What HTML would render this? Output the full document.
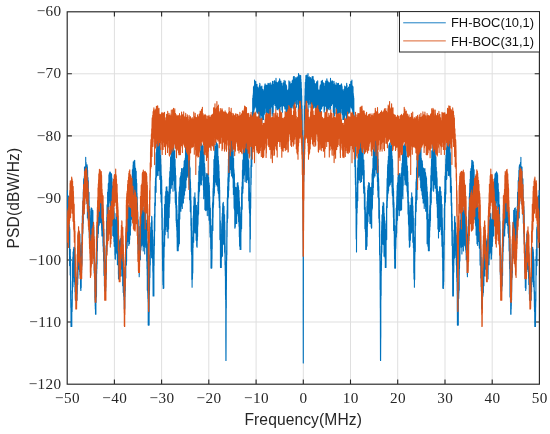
<!DOCTYPE html>
<html><head><meta charset="utf-8"><title>PSD</title>
<style>html,body{margin:0;padding:0;background:#fff}svg{display:block}</style></head>
<body>
<svg width="550" height="434" viewBox="0 0 550 434">
<rect width="550" height="434" fill="#fff"/>
<defs><clipPath id="c"><rect x="66.75" y="11.75" width="473.05" height="372.35"/></clipPath></defs>
<path d="M114.4 11.8V384.1M161.6 11.8V384.1M208.8 11.8V384.1M256.1 11.8V384.1M303.3 11.8V384.1M350.5 11.8V384.1M397.7 11.8V384.1M445.0 11.8V384.1M492.2 11.8V384.1M67.2 322.0H539.4M67.2 260.0H539.4M67.2 197.9H539.4M67.2 135.9H539.4M67.2 73.8H539.4" stroke="#dfdfdf" stroke-width="1" fill="none"/>
<path d="M114.4 384.1v-4.7M114.4 11.8v4.7M161.6 384.1v-4.7M161.6 11.8v4.7M208.8 384.1v-4.7M208.8 11.8v4.7M256.1 384.1v-4.7M256.1 11.8v4.7M303.3 384.1v-4.7M303.3 11.8v4.7M350.5 384.1v-4.7M350.5 11.8v4.7M397.7 384.1v-4.7M397.7 11.8v4.7M445.0 384.1v-4.7M445.0 11.8v4.7M492.2 384.1v-4.7M492.2 11.8v4.7M67.2 322.0h4.7M539.4 322.0h-4.7M67.2 260.0h4.7M539.4 260.0h-4.7M67.2 197.9h4.7M539.4 197.9h-4.7M67.2 135.9h4.7M539.4 135.9h-4.7M67.2 73.8h4.7M539.4 73.8h-4.7" stroke="#262626" stroke-width="1.1" fill="none"/>
<rect x="67.2" y="11.8" width="472.2" height="372.4" fill="none" stroke="#262626" stroke-width="1.15"/>
<g clip-path="url(#c)">
<polyline fill="none" stroke="#0072BD" stroke-width="1.1" stroke-linejoin="round" points="67.2,190.5 67.2,204.0 67.3,191.8 67.3,217.1 67.4,190.5 67.5,201.0 67.5,228.3 67.6,202.0 67.6,232.5 67.6,195.3 67.8,199.3 67.8,216.9 67.8,223.1 67.9,200.6 68.0,198.2 68.0,225.2 68.1,225.0 68.1,201.1 68.2,210.1 68.3,199.5 68.3,204.9 68.4,196.0 68.4,230.3 68.4,209.9 68.5,228.8 68.6,203.0 68.7,206.8 68.7,220.0 68.8,210.0 68.8,227.0 68.9,201.5 69.0,237.0 69.0,205.8 69.1,237.3 69.1,220.4 69.2,239.0 69.3,224.7 69.3,236.4 69.3,226.8 69.4,236.2 69.5,255.6 69.5,231.1 69.6,265.6 69.6,227.1 69.7,256.8 69.7,230.5 69.8,228.9 69.8,257.8 69.9,263.0 70.0,251.8 70.1,261.4 70.1,249.6 70.1,252.2 70.2,274.9 70.3,249.3 70.3,272.3 70.4,273.7 70.5,256.5 70.6,269.4 70.6,283.1 70.6,293.5 70.7,300.9 70.7,291.0 70.8,307.5 70.8,306.3 70.9,299.3 71.0,314.6 71.0,326.4 71.1,326.4 71.2,326.4 71.3,326.4 71.4,326.4 71.5,326.4 71.6,326.4 71.8,326.4 71.8,302.9 71.9,307.3 72.0,309.7 72.1,311.5 72.1,291.6 72.1,290.4 72.2,307.1 72.3,299.7 72.3,284.1 72.4,280.8 72.4,293.7 72.5,288.9 72.5,263.4 72.6,281.7 72.6,265.5 72.7,259.8 72.7,272.6 72.8,283.0 72.8,258.0 72.9,256.8 73.0,286.8 73.1,270.2 73.1,251.9 73.2,278.0 73.2,260.0 73.3,274.8 73.3,256.2 73.4,263.6 73.5,249.1 73.5,249.6 73.6,264.0 73.6,254.4 73.7,262.7 73.7,267.4 73.8,251.6 73.9,247.3 73.9,264.2 74.0,252.4 74.0,271.7 74.1,274.9 74.2,266.9 74.2,274.9 74.3,260.3 74.3,281.8 74.4,251.3 74.4,263.1 74.5,247.3 74.5,262.9 74.6,273.1 74.6,259.3 74.7,278.5 74.8,284.6 74.8,257.5 74.9,260.0 75.0,291.8 75.0,277.8 75.1,285.1 75.1,267.9 75.2,287.5 75.2,274.4 75.3,297.0 75.4,300.3 75.4,277.1 75.5,277.1 75.5,286.4 75.6,300.3 75.7,284.6 75.7,300.3 75.7,295.6 75.8,286.0 75.9,300.3 75.9,287.3 75.9,300.3 76.0,292.6 76.1,300.3 76.1,300.3 76.2,295.1 76.3,300.3 76.3,297.9 76.4,300.3 76.5,292.2 76.5,300.3 76.5,293.0 76.6,286.0 76.6,300.3 76.7,277.3 76.8,300.3 76.8,300.3 76.9,284.8 77.0,300.3 77.0,273.8 77.1,274.0 77.1,289.3 77.2,271.9 77.2,293.9 77.4,283.0 77.4,260.6 77.4,274.6 77.5,261.9 77.5,253.0 77.6,276.2 77.7,257.8 77.7,284.4 77.8,252.0 77.8,263.6 77.9,246.8 78.0,278.3 78.0,261.6 78.0,247.6 78.2,248.5 78.2,262.0 78.3,252.3 78.3,243.1 78.3,236.1 78.4,264.5 78.5,238.6 78.5,269.3 78.6,254.7 78.6,239.1 78.7,262.2 78.7,246.4 78.9,245.2 78.9,263.8 78.9,249.2 79.0,236.4 79.1,246.0 79.1,262.1 79.1,264.4 79.2,238.5 79.3,232.3 79.3,255.8 79.4,234.9 79.4,266.9 79.5,238.3 79.5,271.5 79.6,234.8 79.7,254.5 79.7,241.2 79.8,253.3 79.8,268.4 79.9,234.0 80.0,274.7 80.0,246.1 80.1,259.4 80.1,271.8 80.2,258.1 80.3,244.7 80.3,274.6 80.4,248.4 80.4,254.1 80.5,271.9 80.6,288.8 80.6,254.5 80.6,274.1 80.7,257.2 80.8,264.7 80.8,290.4 80.9,290.4 81.0,256.4 81.0,262.4 81.1,286.1 81.1,271.7 81.2,259.0 81.2,287.5 81.3,260.2 81.4,253.2 81.4,272.4 81.5,264.0 81.5,251.0 81.6,272.9 81.6,250.6 81.7,242.4 81.8,266.1 81.9,245.5 81.9,264.7 82.0,262.9 82.0,240.2 82.0,254.4 82.1,237.8 82.2,233.7 82.2,242.4 82.3,215.7 82.3,244.0 82.4,238.5 82.5,210.0 82.5,214.0 82.5,236.7 82.7,229.5 82.7,206.6 82.7,227.0 82.8,233.8 82.9,225.5 82.9,203.0 83.0,200.5 83.0,206.8 83.1,212.8 83.1,202.7 83.2,214.8 83.3,197.2 83.3,223.2 83.3,192.6 83.4,189.4 83.4,205.8 83.5,212.5 83.6,181.8 83.7,178.9 83.7,214.5 83.8,212.7 83.8,181.4 83.9,202.1 83.9,187.9 84.0,199.7 84.0,183.3 84.1,186.1 84.2,205.5 84.2,180.4 84.3,205.6 84.3,176.6 84.4,195.7 84.5,193.8 84.5,167.0 84.6,204.3 84.6,168.4 84.7,186.5 84.8,172.2 84.8,198.8 84.8,183.3 84.9,185.0 85.0,171.0 85.1,172.7 85.1,187.6 85.1,175.0 85.2,171.1 85.3,166.5 85.3,172.1 85.4,192.1 85.5,168.1 85.5,188.8 85.6,171.1 85.7,191.2 85.7,157.3 85.7,183.3 85.8,170.9 85.9,171.0 85.9,192.3 86.0,190.9 86.0,162.3 86.1,163.6 86.1,191.5 86.2,165.0 86.3,188.3 86.3,192.6 86.3,173.9 86.4,182.4 86.5,194.1 86.5,176.3 86.6,186.7 86.7,166.4 86.7,185.3 86.8,195.8 86.8,166.1 86.9,203.6 87.0,170.8 87.0,200.7 87.1,164.8 87.1,191.7 87.1,165.5 87.2,182.3 87.2,189.4 87.4,166.7 87.4,217.9 87.4,174.3 87.5,194.4 87.6,193.2 87.6,170.2 87.7,184.8 87.7,197.3 87.8,209.9 87.9,178.1 87.9,208.6 88.0,177.5 88.0,204.4 88.1,194.3 88.1,193.7 88.2,216.2 88.2,220.1 88.3,180.5 88.4,218.3 88.5,192.0 88.5,213.4 88.5,194.1 88.6,213.9 88.7,200.6 88.8,207.9 88.8,194.7 88.8,216.2 88.9,208.5 89.0,192.4 89.0,213.3 89.1,223.2 89.1,200.4 89.2,229.5 89.2,206.5 89.3,206.3 89.3,237.7 89.4,211.4 89.5,232.5 89.5,210.0 89.6,236.0 89.7,236.0 89.7,209.2 89.8,219.0 89.8,236.9 89.9,236.9 89.9,211.1 90.0,233.4 90.0,215.1 90.2,226.9 90.2,220.4 90.2,240.8 90.3,221.7 90.4,225.1 90.4,241.5 90.5,223.3 90.5,240.4 90.6,229.8 90.6,218.4 90.7,218.3 90.7,249.6 90.8,241.1 90.9,221.4 90.9,242.0 91.0,218.0 91.0,242.0 91.0,222.3 91.1,225.2 91.2,232.2 91.2,207.8 91.3,238.9 91.4,209.2 91.4,245.7 91.5,217.6 91.5,240.6 91.6,214.8 91.7,255.1 91.7,216.2 91.8,242.7 91.9,249.6 91.9,208.5 92.0,223.0 92.0,238.6 92.1,216.4 92.1,237.0 92.2,242.6 92.2,217.9 92.3,237.1 92.4,218.1 92.4,243.5 92.4,212.4 92.5,216.9 92.6,241.5 92.6,213.3 92.7,240.2 92.8,210.3 92.8,243.5 92.9,211.6 92.9,232.6 93.0,237.9 93.0,224.3 93.1,258.1 93.2,226.2 93.2,222.1 93.3,246.4 93.4,222.4 93.4,237.8 93.4,235.5 93.5,249.6 93.6,225.3 93.6,246.7 93.7,245.5 93.7,257.7 93.8,227.3 93.9,257.0 93.9,230.1 94.0,253.9 94.0,254.8 94.1,239.6 94.2,243.4 94.2,272.9 94.3,245.3 94.3,264.1 94.4,244.2 94.4,249.6 94.5,277.2 94.5,256.5 94.6,258.0 94.6,274.4 94.8,264.1 94.8,278.1 94.8,270.3 94.9,297.9 94.9,274.2 95.0,299.9 95.1,277.4 95.1,295.3 95.2,287.4 95.2,306.1 95.3,291.4 95.3,308.9 95.4,286.1 95.5,303.4 95.5,314.3 95.5,293.1 95.7,312.8 95.7,289.9 95.8,312.2 95.8,290.7 95.9,314.3 95.9,287.0 96.0,284.7 96.0,294.2 96.1,302.6 96.2,268.3 96.2,297.6 96.3,258.7 96.3,252.3 96.4,288.6 96.4,248.6 96.5,296.8 96.6,256.4 96.6,262.4 96.7,273.5 96.7,239.6 96.8,258.8 96.9,241.5 96.9,268.5 97.0,236.4 97.1,234.8 97.1,263.9 97.1,258.3 97.2,229.1 97.3,250.4 97.3,226.4 97.4,226.6 97.4,251.0 97.5,242.1 97.5,232.7 97.6,233.3 97.7,213.2 97.7,237.4 97.8,223.1 97.9,220.7 97.9,211.1 97.9,237.4 98.0,221.8 98.1,230.6 98.1,215.4 98.2,220.8 98.3,233.5 98.3,231.1 98.3,206.5 98.4,233.6 98.5,209.8 98.5,227.3 98.6,208.2 98.6,212.1 98.7,223.3 98.7,207.4 98.8,214.1 98.9,202.7 98.9,225.6 99.0,218.0 99.0,198.1 99.1,219.4 99.1,197.2 99.2,225.0 99.2,200.3 99.3,224.2 99.4,208.4 99.4,190.7 99.5,222.7 99.6,222.4 99.6,191.9 99.7,200.3 99.7,210.8 99.8,198.0 99.8,218.4 99.9,189.4 100.0,214.0 100.0,189.8 100.1,204.0 100.2,214.4 100.2,199.0 100.3,200.0 100.3,212.4 100.4,205.9 100.4,191.9 100.5,199.8 100.6,222.4 100.6,191.1 100.7,214.1 100.7,200.8 100.7,209.8 100.8,217.9 100.8,193.9 100.9,214.5 101.0,195.9 101.1,202.0 101.1,211.7 101.2,221.6 101.2,206.3 101.3,223.7 101.4,193.3 101.4,195.6 101.4,208.1 101.5,198.0 101.6,228.2 101.6,199.3 101.7,230.2 101.8,210.4 101.8,199.4 101.9,236.0 101.9,206.3 102.0,228.4 102.1,203.0 102.1,226.8 102.1,202.3 102.2,227.6 102.3,209.8 102.3,218.1 102.4,204.3 102.4,204.4 102.5,226.9 102.6,226.2 102.6,205.7 102.7,208.9 102.7,233.5 102.8,204.7 102.9,223.7 102.9,225.9 102.9,242.4 103.0,232.2 103.0,245.9 103.1,240.1 103.2,214.6 103.3,213.9 103.3,251.8 103.4,238.8 103.4,222.9 103.5,230.8 103.5,248.8 103.6,261.0 103.7,238.7 103.7,251.1 103.8,236.5 103.8,229.1 103.9,242.0 104.0,275.4 104.0,248.8 104.1,241.9 104.1,251.3 104.2,247.8 104.2,272.5 104.3,251.7 104.4,260.9 104.4,286.1 104.4,254.4 104.5,258.6 104.6,277.4 104.6,267.7 104.7,276.5 104.7,281.8 104.8,291.0 104.9,290.4 104.9,291.0 105.0,291.0 105.0,284.6 105.1,291.0 105.2,291.0 105.2,286.1 105.3,291.0 105.4,286.7 105.4,287.2 105.5,281.0 105.6,291.0 105.6,271.5 105.7,291.0 105.7,259.5 105.8,265.1 105.9,274.2 105.9,273.4 105.9,255.2 106.0,250.1 106.1,279.2 106.1,245.5 106.2,269.1 106.3,250.2 106.3,274.5 106.4,260.4 106.4,229.6 106.5,253.5 106.6,231.7 106.6,221.1 106.6,245.6 106.7,254.2 106.8,218.2 106.8,217.3 106.8,241.1 107.0,251.3 107.0,211.0 107.1,204.7 107.1,234.2 107.2,233.2 107.2,216.2 107.3,225.9 107.4,204.6 107.4,211.1 107.4,224.8 107.6,225.5 107.6,203.8 107.6,192.0 107.7,218.9 107.8,228.3 107.8,196.4 107.8,226.5 107.9,195.4 108.0,216.4 108.0,192.7 108.1,197.7 108.1,189.4 108.2,219.4 108.3,210.5 108.3,183.7 108.4,204.9 108.5,198.0 108.5,183.1 108.5,188.4 108.6,216.1 108.7,210.6 108.7,185.1 108.8,208.7 108.9,185.5 108.9,199.6 108.9,174.8 109.0,184.9 109.1,175.3 109.1,200.7 109.1,184.8 109.2,191.5 109.3,175.9 109.4,173.0 109.4,195.7 109.5,190.4 109.5,175.8 109.6,174.2 109.6,191.2 109.7,176.3 109.8,195.7 109.8,199.8 109.9,174.5 110.0,195.6 110.0,171.9 110.1,172.1 110.1,202.9 110.2,173.8 110.2,199.8 110.3,172.3 110.4,190.5 110.4,206.4 110.5,172.8 110.5,199.8 110.5,173.7 110.6,193.8 110.7,181.1 110.8,173.3 110.8,201.4 110.8,201.8 110.9,177.6 111.0,182.6 111.0,202.6 111.1,182.8 111.2,208.5 111.2,173.5 111.2,181.7 111.3,195.9 111.4,184.9 111.5,174.0 111.5,205.9 111.6,174.8 111.6,195.5 111.7,183.5 111.7,198.2 111.8,177.7 111.9,195.3 111.9,205.6 112.0,186.6 112.0,178.5 112.1,210.7 112.1,198.7 112.2,213.6 112.2,190.0 112.3,216.1 112.4,188.2 112.4,219.9 112.5,185.9 112.5,225.2 112.6,189.7 112.7,222.1 112.7,221.7 112.7,194.5 112.8,235.6 112.8,192.3 112.9,195.0 113.0,217.7 113.1,211.8 113.1,230.7 113.2,210.8 113.2,220.6 113.3,212.7 113.3,223.3 113.4,229.9 113.4,203.3 113.5,210.8 113.6,236.4 113.6,208.1 113.6,230.7 113.8,236.2 113.8,214.5 113.9,207.8 113.9,241.4 114.0,223.7 114.0,232.6 114.1,211.6 114.2,246.2 114.2,212.8 114.3,246.2 114.3,238.4 114.4,218.0 114.4,219.3 114.5,239.9 114.6,231.9 114.6,246.6 114.7,237.5 114.7,226.9 114.8,221.1 114.8,234.7 114.9,255.0 115.0,225.5 115.1,235.8 115.1,219.7 115.1,258.7 115.2,227.3 115.2,220.3 115.3,245.8 115.4,259.2 115.4,235.4 115.5,246.3 115.5,233.5 115.6,219.8 115.7,244.4 115.7,228.6 115.8,220.6 115.8,233.9 115.9,226.4 116.0,213.6 116.0,252.1 116.0,222.9 116.1,214.9 116.2,218.2 116.2,232.9 116.3,216.8 116.3,239.8 116.4,237.3 116.4,219.5 116.6,216.2 116.6,237.5 116.6,251.9 116.7,228.7 116.8,219.4 116.8,243.0 116.8,253.7 116.9,223.9 117.0,230.7 117.0,221.3 117.1,233.3 117.1,245.8 117.2,232.7 117.3,258.3 117.3,234.1 117.4,224.8 117.4,264.7 117.5,228.0 117.6,220.2 117.6,232.9 117.7,248.2 117.7,224.8 117.8,228.2 117.9,239.3 117.9,252.5 118.0,239.5 118.0,253.2 118.1,233.2 118.1,236.2 118.1,247.2 118.2,233.3 118.3,263.6 118.4,233.4 118.4,274.3 118.5,235.4 118.5,278.9 118.6,249.0 118.7,256.0 118.7,239.2 118.7,272.5 118.8,242.2 118.9,256.1 118.9,245.4 119.0,257.3 119.1,241.3 119.1,269.4 119.1,264.7 119.2,239.7 119.3,241.8 119.3,264.8 119.4,271.8 119.5,255.2 119.5,268.2 119.6,247.7 119.7,248.1 119.7,252.2 119.7,259.0 119.8,242.0 119.8,249.3 119.9,256.6 120.0,249.4 120.0,260.1 120.1,267.1 120.2,249.4 120.2,258.5 120.2,250.9 120.3,261.8 120.4,241.1 120.4,243.4 120.5,254.6 120.6,264.7 120.6,238.6 120.7,269.3 120.7,248.8 120.8,244.4 120.8,259.5 120.9,263.9 120.9,244.8 121.0,261.1 121.1,250.9 121.2,259.4 121.2,247.8 121.2,262.1 121.3,251.6 121.4,267.9 121.4,251.7 121.5,236.1 121.5,255.2 121.6,247.5 121.6,264.4 121.7,265.6 121.8,254.1 121.8,275.9 121.9,246.3 122.0,263.8 122.0,242.0 122.1,268.0 122.1,247.0 122.2,252.1 122.2,237.7 122.3,255.4 122.3,251.1 122.4,253.1 122.4,271.4 122.5,260.3 122.5,265.5 122.6,257.8 122.7,285.8 122.8,273.3 122.8,252.7 122.9,280.3 122.9,258.8 123.0,266.8 123.0,249.1 123.1,258.9 123.2,292.4 123.2,261.3 123.3,282.9 123.3,257.6 123.4,284.1 123.4,287.8 123.5,259.6 123.5,262.9 123.6,295.3 123.6,269.5 123.7,292.4 123.8,296.4 123.8,276.9 123.9,277.0 124.0,290.0 124.0,282.3 124.0,300.1 124.1,271.6 124.2,298.5 124.3,309.0 124.3,288.2 124.3,309.0 124.4,284.7 124.5,306.5 124.5,290.3 124.6,309.0 124.7,280.9 124.7,309.0 124.7,284.0 124.8,307.7 124.9,278.2 124.9,274.2 125.0,297.1 125.1,289.9 125.1,267.4 125.2,277.9 125.2,290.8 125.3,290.8 125.3,265.6 125.4,257.3 125.4,273.1 125.5,258.9 125.6,276.0 125.6,272.1 125.7,252.3 125.7,249.4 125.8,277.9 125.8,246.0 125.9,253.3 126.0,250.2 126.0,234.7 126.1,236.6 126.1,254.7 126.2,255.9 126.3,232.7 126.4,264.2 126.4,227.4 126.4,265.1 126.5,232.9 126.6,261.3 126.6,224.5 126.6,253.8 126.7,236.4 126.8,222.9 126.8,237.5 126.9,248.6 126.9,228.8 127.0,223.4 127.1,239.2 127.1,226.8 127.2,245.1 127.2,247.9 127.3,213.8 127.3,226.8 127.4,216.9 127.5,223.1 127.5,229.7 127.6,240.0 127.7,221.8 127.7,230.5 127.7,212.3 127.8,241.6 127.8,222.1 127.9,240.8 128.0,214.9 128.1,217.7 128.1,238.6 128.2,220.4 128.2,229.4 128.3,217.9 128.3,236.5 128.4,236.4 128.5,213.5 128.5,224.6 128.6,205.5 128.7,216.1 128.7,235.9 128.7,214.0 128.8,227.0 128.8,245.4 128.9,210.7 128.9,221.9 129.0,230.8 129.1,214.1 129.1,230.6 129.2,207.0 129.2,230.2 129.4,238.3 129.4,207.2 129.4,221.2 129.5,227.4 129.5,243.8 129.6,212.4 129.7,239.5 129.7,224.5 129.8,207.9 129.8,231.3 129.9,229.0 130.0,218.4 130.0,201.6 130.0,233.8 130.1,205.1 130.2,227.9 130.2,220.7 130.2,205.4 130.3,219.6 130.4,235.1 130.4,227.4 130.5,210.0 130.6,217.8 130.6,201.4 130.7,225.9 130.8,199.5 130.8,203.8 130.9,219.5 130.9,225.3 130.9,192.2 131.1,217.9 131.1,199.1 131.2,196.0 131.2,215.5 131.3,219.3 131.3,200.1 131.4,193.2 131.5,215.9 131.5,204.6 131.6,193.6 131.6,189.6 131.7,201.6 131.7,214.0 131.8,186.1 131.9,219.2 131.9,186.4 132.0,180.8 132.0,198.0 132.1,207.6 132.1,190.5 132.2,189.8 132.2,180.0 132.3,208.9 132.3,180.1 132.4,169.7 132.5,202.7 132.6,178.3 132.6,198.0 132.6,176.9 132.7,195.9 132.8,180.5 132.8,169.1 132.9,208.9 133.0,174.3 133.0,196.4 133.0,169.4 133.1,165.0 133.2,193.4 133.2,171.5 133.3,203.0 133.3,161.7 133.4,178.3 133.5,192.0 133.5,175.4 133.6,180.3 133.6,200.3 133.7,164.1 133.8,180.8 133.8,168.6 133.9,184.0 133.9,193.0 134.0,162.5 134.1,198.4 134.1,168.1 134.2,166.5 134.2,177.0 134.3,160.6 134.3,177.1 134.4,194.5 134.5,183.2 134.5,192.1 134.6,165.3 134.7,167.5 134.7,185.7 134.7,160.3 134.7,179.0 134.8,163.2 134.9,189.0 134.9,165.5 135.0,171.0 135.1,171.5 135.1,186.8 135.2,168.7 135.2,205.9 135.3,192.0 135.3,179.2 135.5,168.4 135.5,196.3 135.5,198.2 135.6,172.2 135.6,168.8 135.7,191.6 135.8,196.7 135.8,183.4 135.9,177.8 136.0,204.0 136.0,198.3 136.0,174.5 136.2,171.3 136.2,199.5 136.2,172.3 136.3,189.5 136.4,190.3 136.4,211.9 136.5,179.3 136.5,211.6 136.6,187.4 136.6,203.2 136.7,215.4 136.8,183.4 136.8,209.5 136.8,192.8 136.9,215.0 137.0,200.4 137.0,193.2 137.1,216.0 137.1,217.6 137.2,196.5 137.3,222.7 137.3,206.5 137.4,220.2 137.4,202.7 137.5,207.1 137.6,231.5 137.7,240.4 137.7,212.1 137.8,215.5 137.8,231.3 137.9,229.1 137.9,232.9 138.0,233.7 138.0,239.8 138.1,219.5 138.1,253.7 138.2,220.4 138.2,252.7 138.3,232.8 138.4,260.5 138.4,235.9 138.5,259.8 138.5,257.9 138.6,240.8 138.7,253.1 138.7,239.2 138.8,253.2 138.8,266.9 138.9,244.0 138.9,266.2 139.0,272.5 139.0,247.4 139.2,276.7 139.2,249.5 139.2,235.9 139.3,274.7 139.4,262.3 139.4,236.3 139.5,234.4 139.5,255.7 139.6,245.3 139.6,253.7 139.7,226.6 139.8,251.7 139.8,234.8 139.8,238.9 140.0,229.1 140.0,253.7 140.0,239.6 140.1,250.2 140.2,247.2 140.2,227.6 140.3,250.9 140.3,231.3 140.4,259.8 140.4,221.5 140.5,224.7 140.5,252.5 140.6,219.2 140.7,235.4 140.8,244.1 140.8,228.3 140.9,220.4 140.9,250.0 140.9,248.4 141.0,226.3 141.1,229.3 141.1,247.3 141.2,209.1 141.3,239.6 141.3,242.0 141.4,220.1 141.4,215.7 141.5,240.1 141.5,239.1 141.6,231.5 141.6,216.9 141.7,234.9 141.8,221.7 141.8,229.2 141.9,214.0 141.9,245.8 142.0,208.4 142.1,244.3 142.1,228.5 142.2,211.1 142.2,243.6 142.3,217.5 142.4,226.2 142.4,205.4 142.4,227.2 142.5,234.1 142.6,210.0 142.6,238.7 142.7,208.0 142.7,244.1 142.8,215.8 142.8,236.7 142.9,237.4 142.9,229.0 143.0,224.1 143.1,212.4 143.2,251.0 143.2,226.1 143.3,233.5 143.3,222.6 143.4,224.5 143.4,242.6 143.5,230.3 143.6,210.6 143.6,231.1 143.6,217.7 143.7,219.1 143.8,241.3 143.9,246.4 143.9,215.8 143.9,212.9 144.0,237.1 144.1,206.5 144.1,232.5 144.2,220.8 144.3,234.8 144.3,238.0 144.4,212.0 144.4,244.7 144.5,222.5 144.5,225.3 144.6,239.2 144.7,254.0 144.7,208.6 144.7,228.5 144.8,213.1 144.9,218.0 144.9,237.0 145.0,238.3 145.1,214.6 145.1,236.3 145.2,212.8 145.2,247.2 145.3,219.3 145.3,229.0 145.4,242.7 145.4,222.5 145.5,239.5 145.6,231.2 145.6,224.1 145.7,210.0 145.8,236.0 145.8,221.2 145.9,243.4 145.9,245.0 145.9,234.4 146.0,241.2 146.0,225.1 146.1,235.4 146.2,240.9 146.3,220.3 146.3,243.1 146.4,226.1 146.4,247.9 146.5,223.4 146.5,246.7 146.6,240.9 146.7,260.9 146.8,233.3 146.8,258.7 146.8,238.2 146.9,228.4 147.0,264.2 147.0,230.6 147.0,268.5 147.1,245.4 147.2,241.6 147.2,275.3 147.3,253.9 147.3,290.2 147.4,273.9 147.5,243.7 147.5,253.7 147.5,278.3 147.6,264.0 147.7,292.6 147.8,276.9 147.8,292.7 147.9,298.5 147.9,282.0 148.0,283.0 148.1,296.0 148.1,302.1 148.2,290.8 148.2,325.1 148.3,308.2 148.3,319.5 148.3,325.1 148.4,325.1 148.5,325.1 148.7,325.1 148.8,325.1 148.9,325.1 149.0,325.1 149.1,318.8 149.1,325.1 149.2,295.6 149.2,312.9 149.3,282.4 149.4,294.5 149.4,277.0 149.5,274.6 149.5,290.8 149.6,282.1 149.6,256.6 149.7,254.8 149.8,272.8 149.8,258.9 149.9,277.4 150.0,267.7 150.0,243.7 150.0,260.7 150.1,235.0 150.2,236.4 150.2,244.3 150.3,265.0 150.3,235.5 150.4,255.2 150.5,232.9 150.6,246.3 150.6,233.8 150.7,229.2 150.7,250.6 150.7,227.0 150.8,247.2 150.9,247.5 150.9,227.0 151.0,233.3 151.1,222.7 151.1,230.4 151.1,247.4 151.2,247.1 151.3,224.6 151.3,241.2 151.4,227.8 151.4,240.8 151.5,222.7 151.6,257.4 151.6,222.4 151.7,216.3 151.7,241.1 151.8,217.9 151.9,245.7 151.9,216.9 152.0,251.5 152.1,252.0 152.1,220.5 152.1,257.9 152.2,248.8 152.3,248.8 152.3,232.3 152.4,258.8 152.4,239.2 152.5,257.1 152.5,230.0 152.6,237.4 152.7,262.9 152.8,236.7 152.8,271.9 152.9,270.2 152.9,243.8 153.0,262.7 153.0,277.4 153.1,296.0 153.1,264.4 153.2,259.6 153.2,296.0 153.3,264.4 153.3,285.5 153.4,296.0 153.5,269.2 153.5,292.6 153.6,270.1 153.6,291.2 153.7,267.9 153.7,261.8 153.8,289.0 153.9,296.0 153.9,250.3 154.0,263.5 154.1,246.6 154.1,265.5 154.1,239.6 154.2,254.2 154.3,221.3 154.3,244.0 154.4,218.3 154.5,214.0 154.5,229.3 154.5,245.4 154.6,216.9 154.7,218.2 154.7,202.8 154.8,203.0 154.8,230.9 154.9,205.9 155.0,216.9 155.0,216.9 155.1,186.4 155.1,189.2 155.2,202.0 155.3,201.0 155.3,189.4 155.4,205.5 155.4,181.2 155.5,186.2 155.5,177.9 155.6,179.3 155.7,192.6 155.7,190.2 155.8,177.8 155.8,182.4 155.9,165.9 155.9,183.2 156.0,162.5 156.1,192.2 156.1,153.7 156.2,164.6 156.2,152.5 156.3,162.0 156.4,171.6 156.4,174.5 156.4,154.4 156.5,159.7 156.6,177.0 156.6,148.9 156.7,173.5 156.8,144.3 156.8,161.3 156.9,140.8 156.9,171.5 157.0,160.2 157.1,142.4 157.1,140.6 157.2,166.5 157.2,150.8 157.3,167.9 157.4,175.1 157.4,142.0 157.5,159.8 157.5,135.4 157.6,165.3 157.6,147.4 157.7,155.4 157.7,161.7 157.8,138.5 157.9,170.4 157.9,160.8 157.9,133.6 158.0,164.1 158.0,138.4 158.1,175.4 158.1,132.3 158.2,154.0 158.3,161.8 158.3,149.0 158.4,138.5 158.5,138.4 158.5,164.8 158.6,156.0 158.7,140.8 158.7,159.3 158.8,144.5 158.8,159.7 158.8,145.3 159.0,146.7 159.0,170.6 159.1,141.1 159.1,148.6 159.2,132.2 159.2,154.0 159.3,145.3 159.4,151.8 159.4,152.1 159.5,162.4 159.5,140.7 159.5,152.9 159.6,166.2 159.7,146.7 159.8,178.4 159.8,165.4 159.9,179.5 159.9,152.6 160.0,153.5 160.0,169.0 160.1,175.0 160.1,151.4 160.2,147.9 160.3,168.4 160.3,157.0 160.4,177.9 160.5,169.5 160.5,155.3 160.6,164.5 160.6,194.0 160.7,180.6 160.7,158.8 160.8,190.3 160.8,165.4 160.9,164.4 161.0,174.9 161.0,165.2 161.1,202.1 161.1,172.4 161.1,193.8 161.2,183.2 161.3,194.5 161.3,202.2 161.4,179.8 161.5,203.3 161.5,176.0 161.6,196.6 161.7,179.9 161.7,205.8 161.8,188.9 161.8,217.4 161.8,201.8 161.9,192.2 162.0,229.8 162.0,203.6 162.1,224.1 162.2,228.2 162.2,208.4 162.3,214.9 162.3,244.8 162.4,238.8 162.4,252.3 162.5,260.0 162.5,231.0 162.6,270.7 162.7,242.0 162.8,245.1 162.8,281.5 162.8,263.6 162.9,284.8 163.0,285.0 163.0,274.9 163.1,277.9 163.2,288.5 163.2,270.7 163.2,288.5 163.3,288.5 163.4,267.9 163.5,281.2 163.5,271.2 163.6,287.4 163.6,252.7 163.7,260.0 163.7,268.8 163.8,288.1 163.8,253.3 163.9,271.1 163.9,229.3 164.0,250.1 164.1,227.5 164.1,257.2 164.2,226.1 164.3,217.8 164.3,237.9 164.3,241.7 164.4,223.6 164.5,232.8 164.5,217.4 164.6,204.5 164.6,246.2 164.7,232.2 164.7,205.9 164.8,208.5 164.9,223.1 165.0,215.8 165.0,229.6 165.1,206.3 165.1,232.2 165.2,234.7 165.2,196.1 165.3,200.2 165.4,207.8 165.4,226.0 165.4,203.9 165.5,206.4 165.6,198.3 165.6,229.7 165.7,191.6 165.7,217.1 165.8,200.2 165.8,206.7 165.9,226.4 166.0,222.9 166.0,203.0 166.1,191.8 166.1,217.2 166.2,187.0 166.3,208.2 166.3,215.1 166.4,194.5 166.4,215.9 166.5,190.3 166.6,213.4 166.6,191.4 166.7,221.3 166.7,192.0 166.8,206.0 166.9,200.3 166.9,186.7 167.0,213.1 167.0,200.4 167.0,231.4 167.1,225.3 167.2,196.8 167.2,199.0 167.3,218.6 167.3,206.6 167.4,225.2 167.5,193.7 167.5,210.8 167.6,225.6 167.6,191.2 167.7,223.5 167.8,197.0 167.8,196.7 167.8,225.9 167.9,217.8 167.9,194.3 168.1,237.9 168.1,198.0 168.1,208.5 168.2,211.9 168.3,213.9 168.3,198.5 168.4,197.5 168.5,214.1 168.5,210.9 168.5,207.1 168.6,228.9 168.7,195.9 168.8,211.1 168.8,192.0 168.9,192.5 168.9,210.7 169.0,192.2 169.0,203.3 169.1,189.1 169.2,217.6 169.2,186.1 169.3,204.8 169.4,206.9 169.4,184.6 169.4,178.6 169.5,200.1 169.6,200.0 169.6,177.0 169.7,191.7 169.7,203.6 169.8,200.7 169.8,171.8 169.9,200.2 170.0,175.3 170.0,171.2 170.0,190.6 170.1,180.9 170.2,192.0 170.3,167.2 170.3,193.2 170.4,182.4 170.4,169.1 170.5,184.2 170.5,164.6 170.6,157.0 170.7,185.8 170.7,160.7 170.8,170.8 170.8,187.9 170.9,158.0 170.9,162.0 171.0,183.2 171.1,173.6 171.1,166.9 171.1,179.8 171.2,155.1 171.3,188.2 171.3,148.7 171.4,181.5 171.5,146.3 171.5,167.3 171.5,155.5 171.7,150.6 171.7,173.1 171.8,167.6 171.8,148.9 171.9,165.7 171.9,184.7 172.0,168.4 172.0,149.7 172.1,147.5 172.2,157.4 172.2,158.9 172.2,142.6 172.3,154.2 172.4,142.2 172.4,150.8 172.5,179.0 172.5,168.7 172.6,150.3 172.6,149.1 172.7,167.0 172.8,183.9 172.8,147.6 172.9,142.7 173.0,191.2 173.0,171.7 173.0,142.5 173.1,159.7 173.1,141.0 173.2,160.5 173.3,140.2 173.3,164.4 173.4,151.0 173.5,168.9 173.5,149.3 173.6,155.2 173.7,180.2 173.7,168.9 173.7,142.7 173.8,159.5 173.9,150.4 173.9,179.5 174.0,153.5 174.1,155.1 174.1,179.8 174.2,173.0 174.2,156.7 174.3,155.8 174.3,181.2 174.4,161.4 174.5,175.1 174.5,158.4 174.6,188.2 174.6,160.1 174.7,190.3 174.7,150.7 174.8,184.1 174.9,171.0 174.9,187.5 175.0,172.6 175.0,191.0 175.1,159.4 175.1,190.8 175.2,166.3 175.2,193.3 175.3,202.4 175.4,168.0 175.4,168.9 175.5,188.3 175.6,204.6 175.6,185.5 175.6,203.8 175.7,181.6 175.8,175.5 175.8,203.9 175.9,207.9 175.9,187.8 176.0,190.9 176.1,220.6 176.2,194.6 176.2,212.4 176.3,191.9 176.3,214.5 176.3,222.8 176.4,194.3 176.5,226.4 176.5,205.4 176.6,216.0 176.7,226.2 176.7,211.6 176.8,230.2 176.8,205.6 176.9,226.5 177.0,210.0 177.0,236.9 177.0,236.2 177.1,214.1 177.1,221.6 177.2,246.7 177.3,250.7 177.3,221.7 177.4,249.7 177.5,236.6 177.5,250.7 177.6,227.7 177.6,250.7 177.7,220.5 177.7,247.1 177.8,229.0 177.8,223.2 177.9,248.7 178.0,228.1 178.0,250.7 178.1,220.5 178.2,250.7 178.2,238.4 178.3,219.2 178.3,232.9 178.4,243.6 178.4,226.3 178.5,246.7 178.5,237.7 178.6,213.8 178.7,220.3 178.7,245.7 178.8,196.9 178.8,213.7 178.9,232.2 179.0,214.0 179.0,217.6 179.0,194.4 179.1,191.8 179.1,212.1 179.2,201.9 179.3,213.0 179.3,195.0 179.4,243.7 179.4,199.3 179.5,186.8 179.6,192.9 179.6,207.9 179.7,197.7 179.8,212.7 179.8,218.9 179.9,184.2 179.9,198.3 180.0,186.3 180.0,177.9 180.1,199.5 180.1,201.8 180.2,178.9 180.3,199.8 180.3,186.9 180.4,203.6 180.5,178.0 180.5,176.5 180.5,210.8 180.7,175.8 180.7,193.4 180.7,183.1 180.7,191.8 180.9,194.8 180.9,211.3 181.0,173.5 181.0,197.5 181.1,201.6 181.1,172.4 181.2,206.2 181.3,187.8 181.3,175.3 181.4,194.0 181.4,193.5 181.5,172.2 181.5,186.6 181.6,168.6 181.7,198.3 181.7,173.1 181.8,179.2 181.8,195.5 181.9,174.7 181.9,198.3 182.0,182.3 182.0,195.4 182.1,195.5 182.2,178.7 182.2,180.1 182.3,208.4 182.3,207.3 182.4,176.1 182.4,197.6 182.5,174.1 182.6,182.5 182.6,185.3 182.7,195.0 182.8,168.8 182.8,181.0 182.9,190.2 182.9,180.6 183.0,203.0 183.0,168.4 183.1,196.4 183.2,172.7 183.2,200.7 183.3,200.9 183.3,177.9 183.4,173.4 183.4,203.0 183.5,167.5 183.5,191.3 183.6,170.4 183.7,189.9 183.7,187.6 183.8,174.7 183.9,181.3 183.9,198.5 184.0,190.7 184.0,168.0 184.1,163.9 184.1,192.5 184.2,194.7 184.2,161.1 184.3,192.7 184.3,176.2 184.5,166.5 184.5,195.0 184.5,174.9 184.6,186.2 184.6,191.7 184.7,169.1 184.8,191.2 184.8,160.1 184.9,179.6 185.0,168.6 185.0,175.5 185.1,165.5 185.1,185.8 185.2,161.7 185.2,190.4 185.2,158.1 185.4,166.4 185.4,176.2 185.5,186.6 185.5,148.7 185.6,165.3 185.6,147.3 185.7,154.4 185.8,185.3 185.8,154.5 185.9,187.8 185.9,164.7 186.0,153.3 186.1,160.8 186.1,174.2 186.1,172.2 186.2,149.9 186.3,168.9 186.3,154.4 186.4,148.6 186.4,180.0 186.5,171.4 186.6,158.2 186.6,148.7 186.7,170.2 186.7,153.3 186.8,166.5 186.9,139.4 186.9,173.2 186.9,157.8 187.0,164.8 187.1,148.7 187.1,175.8 187.2,173.7 187.2,146.4 187.3,146.8 187.4,159.9 187.4,158.5 187.5,147.3 187.5,161.2 187.6,141.6 187.7,152.5 187.7,164.7 187.8,148.5 187.8,177.2 187.9,169.5 188.0,152.4 188.0,163.8 188.0,149.0 188.1,168.9 188.1,142.3 188.2,145.9 188.3,169.2 188.3,169.3 188.4,150.9 188.5,151.5 188.5,168.6 188.6,167.4 188.6,153.7 188.7,174.1 188.8,163.9 188.8,175.0 188.9,170.9 188.9,150.6 189.0,164.0 189.0,166.0 189.1,184.5 189.1,175.9 189.2,158.5 189.3,164.6 189.3,187.9 189.4,171.5 189.4,187.6 189.5,155.9 189.6,199.8 189.6,166.7 189.6,188.0 189.7,188.4 189.8,166.8 189.8,174.5 189.9,186.0 190.0,199.8 190.0,169.7 190.1,168.1 190.1,195.0 190.2,203.5 190.3,182.9 190.3,179.4 190.3,211.6 190.5,184.8 190.5,197.8 190.5,181.7 190.6,203.6 190.7,188.2 190.7,205.2 190.8,196.1 190.8,213.3 190.9,199.9 190.9,225.4 191.0,200.8 191.0,208.9 191.1,206.6 191.1,230.4 191.2,231.0 191.3,251.4 191.3,237.1 191.4,218.4 191.5,247.6 191.5,222.7 191.6,238.2 191.6,254.4 191.7,252.9 191.7,242.3 191.8,256.4 191.8,279.5 191.9,267.6 192.0,250.0 192.0,265.4 192.1,287.3 192.1,287.3 192.2,250.5 192.3,259.1 192.3,268.3 192.4,270.2 192.4,254.4 192.5,279.1 192.6,248.7 192.6,262.1 192.6,237.3 192.7,237.1 192.8,273.1 192.9,248.8 192.9,241.9 192.9,230.8 193.0,247.5 193.1,247.8 193.1,218.0 193.2,233.2 193.3,215.8 193.3,217.3 193.4,238.5 193.5,236.0 193.5,211.3 193.5,234.7 193.6,218.1 193.6,205.8 193.7,225.2 193.7,242.3 193.8,219.6 193.9,233.1 193.9,214.9 194.0,197.0 194.1,223.0 194.1,205.0 194.2,213.3 194.2,218.0 194.3,198.8 194.3,219.7 194.3,204.1 194.4,225.8 194.5,197.0 194.6,226.4 194.6,208.2 194.7,205.3 194.8,217.7 194.8,199.3 194.8,223.7 194.9,192.8 195.0,231.3 195.0,219.7 195.1,207.3 195.1,233.0 195.2,208.3 195.3,231.3 195.3,198.3 195.4,211.8 195.4,214.7 195.5,231.0 195.6,215.4 195.6,213.5 195.7,224.2 195.7,228.5 195.8,219.8 195.8,207.8 195.9,220.1 195.9,231.4 196.0,217.3 196.1,225.4 196.1,240.3 196.2,212.7 196.3,220.9 196.3,232.5 196.4,205.2 196.4,235.9 196.5,210.1 196.5,228.0 196.6,211.8 196.6,216.5 196.7,246.3 196.7,215.1 196.8,245.9 196.9,220.5 196.9,240.4 197.0,246.4 197.0,212.2 197.1,247.3 197.2,219.5 197.2,222.2 197.3,234.5 197.3,236.4 197.4,216.4 197.4,240.3 197.5,219.0 197.6,236.6 197.6,214.2 197.7,206.7 197.8,226.2 197.8,202.0 197.8,220.4 197.9,224.2 198.0,204.6 198.0,224.2 198.1,212.2 198.2,215.8 198.2,194.7 198.3,191.1 198.3,211.1 198.4,201.3 198.4,182.4 198.5,207.3 198.5,184.9 198.6,214.1 198.7,182.1 198.7,202.7 198.8,177.8 198.8,171.1 198.9,193.4 198.9,196.2 199.0,172.0 199.0,193.9 199.1,166.1 199.2,183.0 199.2,191.9 199.3,170.8 199.3,183.7 199.5,174.1 199.5,191.2 199.5,189.8 199.6,171.0 199.7,186.0 199.7,168.5 199.7,162.0 199.8,176.2 199.9,157.0 199.9,181.9 200.0,179.9 200.0,156.6 200.1,185.2 200.2,161.9 200.2,158.0 200.3,183.8 200.3,161.6 200.4,181.8 200.4,150.7 200.5,174.9 200.5,164.6 200.6,153.3 200.7,150.9 200.7,164.5 200.8,181.3 200.8,143.9 200.9,162.9 201.0,144.8 201.0,173.6 201.0,146.9 201.1,149.0 201.2,162.2 201.2,168.6 201.3,144.0 201.4,152.9 201.4,184.8 201.5,161.9 201.6,174.3 201.6,150.1 201.6,176.1 201.7,180.1 201.8,143.9 201.8,149.4 201.9,180.1 202.0,171.8 202.0,153.4 202.0,162.5 202.1,174.9 202.2,161.2 202.2,148.3 202.3,145.5 202.3,162.0 202.4,149.1 202.4,172.7 202.5,175.2 202.6,156.4 202.7,162.2 202.7,154.2 202.8,172.2 202.8,160.0 202.9,168.8 202.9,152.9 203.0,155.6 203.1,167.1 203.1,151.2 203.1,174.6 203.2,145.8 203.3,173.0 203.3,185.7 203.4,168.3 203.5,176.2 203.5,151.9 203.5,190.1 203.6,166.3 203.7,198.7 203.7,156.7 203.8,163.3 203.9,177.1 203.9,189.4 204.0,154.3 204.0,189.6 204.1,156.6 204.1,157.5 204.2,182.0 204.3,163.5 204.3,187.2 204.4,192.3 204.4,163.2 204.5,195.6 204.6,163.9 204.6,187.3 204.6,170.8 204.7,167.5 204.7,179.7 204.8,167.6 204.9,189.4 204.9,209.6 205.0,176.6 205.0,195.9 205.1,172.7 205.2,182.4 205.2,197.6 205.3,197.0 205.4,181.6 205.4,206.4 205.5,180.9 205.5,201.5 205.6,196.9 205.6,187.8 205.7,210.6 205.7,187.0 205.8,199.2 205.9,197.8 205.9,178.7 206.0,197.0 206.1,177.4 206.1,208.0 206.2,184.0 206.2,183.3 206.3,196.3 206.3,178.2 206.4,197.7 206.5,174.9 206.5,209.4 206.6,184.4 206.6,208.5 206.7,173.6 206.7,194.2 206.8,189.4 206.8,199.3 206.9,210.6 207.0,178.5 207.0,177.4 207.1,193.2 207.2,200.9 207.2,183.6 207.3,215.6 207.3,173.8 207.4,205.7 207.4,174.2 207.5,185.8 207.5,199.1 207.6,187.4 207.7,204.1 207.7,192.7 207.8,176.9 207.8,199.5 207.9,209.7 207.9,190.4 208.0,174.0 208.0,206.1 208.1,177.7 208.2,204.1 208.2,174.0 208.3,199.2 208.4,183.0 208.4,202.2 208.5,189.5 208.5,197.2 208.6,177.3 208.7,186.8 208.7,215.7 208.7,203.7 208.8,193.0 208.8,207.7 208.9,200.7 209.0,220.3 209.0,187.8 209.1,182.9 209.1,208.8 209.2,205.1 209.3,188.0 209.4,185.3 209.4,205.5 209.5,217.7 209.5,190.8 209.5,216.3 209.6,202.9 209.7,224.2 209.7,196.5 209.8,205.1 209.9,233.0 209.9,226.8 209.9,205.0 210.0,209.5 210.1,230.4 210.1,236.9 210.2,220.3 210.3,233.0 210.3,214.5 210.4,208.0 210.4,235.1 210.5,218.4 210.5,230.3 210.6,232.8 210.7,243.2 210.7,232.8 210.7,248.4 210.8,225.8 210.9,246.8 210.9,250.8 211.0,238.3 211.0,268.1 211.1,250.8 211.2,248.7 211.2,264.6 211.3,240.5 211.3,268.1 211.4,249.8 211.4,268.1 211.6,261.8 211.6,247.1 211.7,256.7 211.7,268.1 211.8,245.9 211.8,268.1 211.9,260.0 211.9,234.4 212.0,258.7 212.0,225.2 212.1,243.7 212.2,249.1 212.2,246.0 212.2,219.1 212.3,233.8 212.4,214.5 212.5,205.1 212.5,225.1 212.5,203.5 212.6,228.9 212.7,223.6 212.7,202.1 212.8,203.8 212.9,229.8 212.9,199.8 212.9,230.5 213.0,191.0 213.1,211.4 213.1,217.3 213.1,188.6 213.3,208.0 213.3,187.9 213.4,182.6 213.4,206.9 213.5,201.3 213.5,175.3 213.6,204.5 213.7,175.6 213.7,197.2 213.8,167.9 213.8,173.5 213.9,186.8 213.9,183.8 213.9,160.4 214.1,159.2 214.1,195.5 214.2,169.3 214.2,188.5 214.3,162.5 214.4,192.9 214.4,182.5 214.5,155.9 214.6,181.6 214.6,161.7 214.6,168.5 214.7,186.8 214.7,164.3 214.8,152.7 214.9,144.5 214.9,168.5 215.0,155.0 215.0,168.0 215.1,172.8 215.1,152.9 215.2,153.7 215.3,178.8 215.3,170.1 215.4,149.9 215.4,166.6 215.5,158.0 215.5,150.9 215.6,163.7 215.7,162.4 215.7,174.0 215.8,182.1 215.8,149.0 215.9,146.4 216.0,182.8 216.0,148.7 216.1,159.7 216.1,146.8 216.2,179.1 216.3,171.1 216.3,142.2 216.3,184.8 216.4,147.7 216.5,143.4 216.5,172.3 216.6,145.3 216.7,172.0 216.7,172.6 216.7,152.9 216.8,179.4 216.8,151.3 216.9,143.8 216.9,170.5 217.0,181.8 217.1,148.9 217.2,152.9 217.2,186.1 217.3,143.9 217.4,176.1 217.4,181.0 217.5,156.8 217.5,184.0 217.6,145.8 217.6,184.0 217.7,148.1 217.8,145.5 217.8,174.9 217.8,157.6 217.9,190.7 218.0,176.1 218.0,164.1 218.1,176.0 218.1,166.7 218.2,156.2 218.3,180.8 218.3,192.9 218.4,163.9 218.5,160.5 218.5,182.1 218.5,187.4 218.6,164.3 218.6,193.7 218.7,165.7 218.8,180.9 218.8,164.5 218.9,166.8 218.9,197.5 219.0,198.4 219.1,171.2 219.1,182.8 219.1,200.8 219.2,183.5 219.3,199.8 219.3,207.4 219.4,178.6 219.5,182.4 219.5,204.8 219.6,186.9 219.6,207.8 219.7,190.1 219.7,204.1 219.8,200.5 219.9,239.4 219.9,217.9 220.0,206.3 220.0,239.8 220.1,228.1 220.2,238.9 220.2,221.4 220.3,237.5 220.3,224.4 220.4,220.7 220.4,248.8 220.5,267.4 220.6,235.3 220.6,234.6 220.6,253.2 220.8,267.4 220.8,250.2 220.9,248.7 220.9,265.1 221.0,238.4 221.0,255.8 221.1,243.5 221.2,267.4 221.2,265.4 221.2,251.8 221.3,267.4 221.4,236.7 221.4,246.1 221.5,258.1 221.6,229.2 221.6,252.1 221.7,226.4 221.7,242.2 221.8,223.7 221.8,251.1 221.9,241.7 221.9,223.0 222.0,233.6 222.1,216.8 222.2,234.0 222.2,219.8 222.2,240.4 222.3,213.2 222.3,227.3 222.4,238.1 222.5,231.7 222.5,256.3 222.6,207.8 222.7,241.9 222.7,215.8 222.7,210.8 222.8,203.6 222.8,220.3 223.0,204.8 223.0,225.0 223.0,212.5 223.1,244.6 223.2,209.1 223.2,222.8 223.3,222.4 223.3,202.2 223.4,208.4 223.5,222.1 223.5,240.4 223.6,217.1 223.6,230.9 223.7,210.6 223.7,210.7 223.8,222.8 223.8,235.5 223.9,216.1 224.0,218.1 224.0,206.2 224.1,228.0 224.2,234.1 224.2,244.1 224.3,233.0 224.3,243.2 224.4,223.4 224.5,244.6 224.5,228.2 224.6,214.9 224.6,251.9 224.7,225.3 224.7,244.4 224.8,221.9 224.8,253.2 224.9,246.8 225.0,230.2 225.0,231.9 225.0,265.1 225.1,243.3 225.2,270.4 225.2,246.2 225.3,273.6 225.3,275.7 225.4,260.5 225.5,295.6 225.5,280.8 225.6,283.3 225.6,299.6 225.7,297.0 225.8,308.8 225.8,336.6 225.9,357.0 225.9,360.5 226.0,360.5 226.1,334.8 226.1,326.7 226.2,297.0 226.3,308.1 226.3,280.9 226.4,289.4 226.5,261.9 226.5,273.1 226.6,253.8 226.6,250.3 226.7,260.6 226.7,247.2 226.8,234.0 226.9,220.8 226.9,245.1 226.9,254.7 227.0,214.1 227.1,210.3 227.1,236.7 227.2,217.9 227.3,198.1 227.3,210.8 227.4,222.5 227.4,198.2 227.5,208.7 227.5,204.6 227.6,194.2 227.6,186.5 227.7,206.7 227.8,218.3 227.8,192.0 227.9,192.1 227.9,178.8 228.0,199.0 228.0,177.6 228.1,182.2 228.2,177.9 228.3,165.9 228.3,191.7 228.3,179.5 228.4,170.4 228.4,159.0 228.5,197.1 228.6,161.9 228.6,178.1 228.7,152.3 228.8,177.8 228.8,190.2 228.9,162.2 228.9,171.6 228.9,156.7 229.1,154.7 229.1,181.5 229.2,170.1 229.2,149.2 229.3,177.0 229.3,154.4 229.4,170.5 229.5,151.1 229.5,152.0 229.5,168.4 229.6,161.1 229.7,173.5 229.7,173.2 229.8,156.7 229.8,153.8 229.9,172.8 229.9,142.9 230.0,162.5 230.1,159.9 230.1,144.1 230.2,158.2 230.3,136.9 230.3,164.6 230.3,140.9 230.4,155.0 230.4,142.6 230.6,161.9 230.6,138.1 230.7,138.1 230.7,154.6 230.8,148.9 230.8,169.0 230.9,169.7 231.0,135.1 231.0,135.3 231.1,161.0 231.2,158.7 231.2,143.2 231.2,158.3 231.3,155.1 231.4,136.5 231.4,169.9 231.5,159.7 231.5,133.1 231.6,175.9 231.6,141.7 231.7,162.2 231.8,136.9 231.8,139.5 231.9,162.3 231.9,152.3 232.0,141.7 232.0,154.9 232.1,164.9 232.2,162.1 232.2,138.9 232.3,170.5 232.3,151.7 232.4,166.4 232.4,153.2 232.5,170.4 232.6,156.2 232.6,177.4 232.7,146.4 232.7,152.1 232.8,177.5 232.9,159.1 232.9,178.4 232.9,149.3 233.0,178.8 233.1,171.7 233.1,156.3 233.2,187.4 233.2,150.8 233.3,178.4 233.3,159.3 233.4,194.5 233.5,158.7 233.6,158.3 233.6,179.8 233.7,189.6 233.7,177.9 233.8,190.2 233.8,168.5 233.9,179.7 234.0,196.2 234.0,170.0 234.0,196.2 234.1,208.3 234.2,185.8 234.2,172.8 234.3,200.0 234.4,195.7 234.4,174.3 234.5,210.1 234.5,184.2 234.6,200.3 234.6,189.3 234.7,206.9 234.7,182.9 234.8,227.7 234.9,201.0 234.9,228.2 235.0,192.9 235.0,199.1 235.1,219.4 235.2,220.4 235.2,189.1 235.3,226.9 235.3,205.0 235.4,213.6 235.4,191.9 235.5,200.4 235.5,187.2 235.6,200.7 235.7,223.8 235.7,195.6 235.8,219.6 235.9,219.5 235.9,196.4 236.0,213.2 236.0,190.4 236.1,210.1 236.1,196.4 236.2,217.0 236.3,195.3 236.3,188.7 236.3,202.9 236.4,188.5 236.5,212.2 236.5,187.6 236.5,220.1 236.7,200.7 236.7,223.4 236.7,200.9 236.8,190.3 236.9,187.2 236.9,212.7 237.0,216.0 237.1,186.5 237.1,213.7 237.2,183.3 237.2,211.1 237.3,193.9 237.3,188.3 237.4,209.5 237.4,199.1 237.5,190.4 237.6,204.7 237.6,192.5 237.7,183.3 237.8,207.9 237.8,204.5 237.9,182.5 237.9,197.2 237.9,213.7 238.0,211.4 238.1,197.1 238.2,206.1 238.2,186.7 238.3,209.3 238.3,185.6 238.4,199.7 238.5,187.1 238.5,191.0 238.6,221.8 238.6,188.4 238.7,214.5 238.7,213.8 238.8,195.1 238.9,192.0 238.9,206.4 239.0,190.3 239.0,226.2 239.1,206.5 239.1,220.6 239.2,220.1 239.2,197.9 239.3,236.7 239.3,209.2 239.5,201.5 239.5,216.8 239.5,214.3 239.6,246.1 239.6,233.8 239.7,206.1 239.7,219.9 239.8,236.3 239.9,212.3 239.9,240.7 240.0,213.9 240.0,228.2 240.1,244.4 240.1,249.4 240.2,227.6 240.3,249.4 240.3,237.8 240.4,234.2 240.5,241.7 240.5,221.7 240.6,238.4 240.6,249.2 240.7,249.4 240.7,230.4 240.8,226.6 240.9,249.4 240.9,237.4 241.0,222.0 241.0,216.5 241.1,231.5 241.1,225.5 241.2,207.4 241.3,228.1 241.3,208.6 241.4,207.3 241.4,221.5 241.5,220.0 241.6,192.9 241.6,228.8 241.7,214.3 241.7,213.5 241.8,194.6 241.8,186.8 241.9,193.9 241.9,188.6 242.0,207.1 242.1,195.9 242.1,190.1 242.2,209.3 242.2,182.1 242.3,191.4 242.4,186.3 242.4,170.4 242.5,183.6 242.6,180.0 242.6,169.5 242.7,182.0 242.7,164.6 242.8,160.1 242.8,193.1 242.9,183.1 242.9,165.6 243.0,167.2 243.1,188.5 243.1,161.5 243.1,178.3 243.2,178.3 243.3,160.5 243.4,178.4 243.4,150.9 243.4,165.6 243.5,149.2 243.6,165.1 243.6,172.6 243.7,162.5 243.7,172.8 243.8,167.9 243.9,150.0 244.0,155.1 244.0,168.1 244.0,163.0 244.1,153.5 244.2,166.3 244.2,158.6 244.2,161.0 244.3,145.4 244.4,148.9 244.4,174.9 244.5,153.0 244.6,166.4 244.6,145.9 244.6,155.4 244.7,151.2 244.8,158.4 244.9,150.4 244.9,173.7 245.0,152.9 245.0,181.6 245.1,170.7 245.1,158.0 245.2,158.1 245.2,165.6 245.3,143.3 245.4,171.0 245.4,169.6 245.5,143.5 245.5,144.8 245.6,156.2 245.6,157.9 245.7,143.6 245.7,164.4 245.8,137.8 245.9,155.8 245.9,163.3 246.0,158.5 246.0,144.3 246.1,167.9 246.2,145.0 246.3,182.5 246.3,146.9 246.3,164.7 246.3,148.5 246.5,152.5 246.5,174.2 246.5,145.4 246.6,167.2 246.7,151.3 246.8,180.5 246.8,139.3 246.8,169.1 246.9,160.9 246.9,141.1 247.0,148.4 247.1,166.0 247.1,162.2 247.2,149.2 247.3,168.4 247.3,157.9 247.4,146.6 247.4,166.1 247.5,179.5 247.5,155.7 247.6,174.6 247.6,142.5 247.7,156.1 247.8,171.6 247.8,175.5 247.9,157.9 248.0,160.9 248.0,165.2 248.0,148.2 248.1,179.1 248.2,168.5 248.3,163.3 248.3,159.4 248.3,162.8 248.4,183.0 248.4,163.5 248.5,177.0 248.5,165.7 248.7,160.6 248.7,179.7 248.7,200.8 248.8,177.1 248.9,197.0 248.9,174.9 249.0,190.5 249.0,167.9 249.1,175.0 249.2,203.6 249.2,207.6 249.3,177.6 249.3,209.3 249.4,187.6 249.5,203.1 249.5,212.9 249.6,203.1 249.6,192.3 249.7,207.3 249.7,213.2 249.8,200.9 249.8,226.5 249.9,212.2 250.0,251.0 250.0,251.9 250.1,217.2 250.2,232.3 250.2,217.2 250.2,232.3 250.3,212.5 250.4,238.9 250.4,210.8 250.5,215.4 250.5,198.5 250.6,203.5 250.7,193.6 250.7,208.2 250.8,181.8 250.8,197.6 250.9,165.6 251.0,166.2 251.0,183.0 251.1,184.5 251.1,159.0 251.2,173.4 251.2,142.9 251.3,177.8 251.3,149.1 251.4,164.1 251.4,152.4 251.5,155.9 251.6,142.9 251.7,146.5 251.7,131.3 251.8,166.5 251.8,138.6 251.9,147.9 251.9,126.7 252.0,127.1 252.1,139.8 252.1,139.7 252.2,130.0 252.2,115.8 252.3,125.4 252.3,124.1 252.4,115.9 252.4,115.0 252.5,129.3 252.5,111.5 252.6,129.6 252.7,123.7 252.7,98.2 252.8,128.8 252.8,98.2 252.9,110.2 253.0,96.5 253.0,113.6 253.1,101.9 253.1,95.3 253.2,108.1 253.2,107.0 253.3,93.6 253.4,112.0 253.4,98.0 253.5,86.8 253.6,111.2 253.6,101.5 253.6,89.6 253.8,117.0 253.8,91.3 253.9,111.4 253.9,87.6 254.0,86.0 254.0,104.3 254.1,87.0 254.1,97.3 254.2,85.9 254.2,109.8 254.3,99.1 254.3,89.2 254.4,107.0 254.4,89.8 254.5,99.7 254.6,90.3 254.6,80.1 254.7,99.8 254.7,94.1 254.8,99.7 254.9,88.3 254.9,97.0 255.0,93.2 255.0,103.6 255.1,82.6 255.1,108.0 255.2,101.5 255.2,81.7 255.3,106.0 255.4,84.1 255.4,90.2 255.5,82.7 255.6,83.6 255.6,99.0 255.7,106.1 255.7,97.5 255.8,81.5 255.9,103.4 255.9,86.3 256.0,101.1 256.0,106.0 256.1,84.2 256.2,89.6 256.2,96.6 256.2,100.5 256.3,84.5 256.4,95.6 256.4,106.8 256.5,107.4 256.6,93.1 256.6,95.8 256.6,106.4 256.7,112.0 256.8,102.9 256.8,103.6 256.9,96.4 257.0,84.2 257.0,104.4 257.1,100.1 257.1,94.8 257.2,89.6 257.2,102.0 257.3,98.4 257.4,112.9 257.4,102.1 257.5,92.3 257.5,93.6 257.6,101.7 257.6,93.2 257.7,107.5 257.8,90.0 257.8,105.2 257.8,107.2 257.9,93.0 258.0,92.1 258.1,100.2 258.1,87.1 258.1,113.2 258.2,104.4 258.3,96.0 258.3,88.5 258.4,103.5 258.4,100.3 258.5,90.6 258.5,113.5 258.6,88.6 258.7,91.5 258.7,102.0 258.8,91.3 258.8,108.4 258.9,111.3 259.0,91.4 259.1,101.4 259.1,97.7 259.2,113.4 259.2,95.7 259.3,88.3 259.3,102.5 259.3,117.6 259.4,93.5 259.5,99.7 259.5,85.2 259.6,104.0 259.6,92.8 259.7,85.8 259.8,108.6 259.8,83.3 259.9,95.3 259.9,104.9 260.0,84.4 260.0,89.7 260.1,98.1 260.2,145.1 260.2,89.9 260.3,105.2 260.3,94.8 260.4,88.8 260.5,113.4 260.6,90.9 260.6,110.8 260.7,106.7 260.7,90.0 260.7,93.8 260.8,111.6 260.9,88.2 260.9,106.8 261.0,102.1 261.0,86.7 261.1,92.1 261.1,106.3 261.2,114.2 261.3,89.2 261.3,105.5 261.4,96.5 261.4,115.6 261.5,96.2 261.5,87.1 261.6,110.6 261.7,110.7 261.7,96.1 261.8,103.7 261.9,86.1 261.9,91.8 261.9,122.7 262.0,97.0 262.0,113.1 262.1,93.8 262.2,109.1 262.2,106.3 262.3,94.6 262.3,94.4 262.4,108.2 262.5,109.8 262.5,102.0 262.6,106.5 262.7,119.4 262.7,89.3 262.7,112.4 262.8,104.0 262.9,116.9 263.0,103.4 263.0,94.0 263.1,108.6 263.1,90.8 263.2,107.5 263.2,118.9 263.3,102.8 263.4,91.6 263.4,109.7 263.5,91.4 263.6,91.8 263.6,113.5 263.6,99.5 263.7,119.5 263.7,99.0 263.8,106.5 263.8,97.1 263.9,101.0 264.0,99.6 264.0,91.0 264.1,89.5 264.2,114.3 264.2,114.6 264.2,94.6 264.4,110.5 264.4,88.0 264.4,86.6 264.4,111.0 264.5,113.2 264.6,91.3 264.7,106.3 264.7,91.4 264.8,84.8 264.9,102.2 264.9,107.9 264.9,91.3 265.1,89.4 265.1,101.5 265.1,96.7 265.1,83.9 265.3,100.1 265.3,91.4 265.4,86.3 265.4,98.9 265.5,104.8 265.5,91.6 265.6,86.2 265.7,97.5 265.7,108.7 265.7,94.6 265.8,113.0 265.9,86.5 265.9,109.7 265.9,99.9 266.0,109.8 266.1,85.1 266.2,98.6 266.2,114.0 266.3,85.4 266.3,97.6 266.4,99.2 266.5,88.3 266.5,90.8 266.6,98.6 266.6,86.3 266.7,98.5 266.8,91.9 266.8,112.4 266.8,97.5 266.9,109.6 267.0,90.9 267.0,107.4 267.1,111.0 267.2,85.4 267.2,110.7 267.3,88.9 267.3,111.4 267.4,91.0 267.4,112.6 267.5,92.7 267.6,106.8 267.6,86.1 267.6,109.9 267.7,91.7 267.8,94.2 267.9,100.9 267.9,92.6 267.9,89.6 268.0,83.4 268.1,110.1 268.1,111.4 268.2,98.7 268.3,98.9 268.3,93.7 268.3,119.2 268.4,95.9 268.5,109.0 268.5,96.4 268.6,88.8 268.7,108.7 268.7,88.0 268.7,104.1 268.8,88.9 268.9,114.3 268.9,85.4 269.0,111.3 269.1,83.6 269.1,98.8 269.1,85.5 269.2,101.0 269.3,86.0 269.3,107.4 269.4,101.6 269.5,88.2 269.5,106.8 269.6,94.3 269.7,107.2 269.7,89.3 269.8,88.0 269.8,124.8 269.9,102.7 269.9,90.7 270.0,100.4 270.0,104.5 270.1,109.1 270.2,85.3 270.2,93.7 270.2,110.3 270.3,99.6 270.3,82.8 270.5,111.3 270.5,94.2 270.6,113.8 270.6,95.0 270.6,103.9 270.7,89.6 270.8,85.7 270.8,98.3 270.9,88.7 271.0,100.9 271.0,103.2 271.1,85.1 271.1,96.7 271.2,87.0 271.3,86.6 271.3,107.0 271.3,91.0 271.4,103.8 271.5,89.8 271.5,97.0 271.6,88.5 271.7,99.9 271.7,105.7 271.7,103.5 271.8,87.8 271.8,105.2 271.9,98.9 272.0,86.8 272.1,92.5 272.1,83.6 272.2,115.9 272.2,84.4 272.3,83.8 272.3,97.8 272.4,85.0 272.4,98.6 272.5,104.8 272.5,81.4 272.6,100.8 272.7,90.4 272.8,104.7 272.8,89.6 272.9,92.2 272.9,113.6 273.0,90.2 273.0,105.6 273.1,88.6 273.2,92.0 273.2,111.9 273.3,86.3 273.4,93.3 273.4,102.7 273.4,90.2 273.5,104.6 273.5,102.3 273.6,87.0 273.6,84.3 273.7,95.7 273.8,87.4 273.8,93.2 273.9,81.4 274.0,99.3 274.0,87.0 274.1,94.8 274.1,92.3 274.2,102.5 274.3,80.9 274.3,89.9 274.4,103.6 274.4,88.2 274.5,103.6 274.5,89.1 274.6,80.8 274.6,93.2 274.7,103.7 274.7,88.9 274.8,83.7 274.9,102.3 274.9,86.2 274.9,101.0 275.0,105.4 275.1,84.7 275.1,92.4 275.2,85.2 275.3,93.9 275.3,101.7 275.4,100.6 275.4,90.8 275.5,81.9 275.6,102.6 275.6,102.5 275.7,85.9 275.7,85.0 275.8,96.8 275.9,88.8 275.9,109.2 276.0,102.2 276.0,78.4 276.1,102.0 276.1,85.1 276.2,92.0 276.2,101.1 276.3,82.7 276.3,98.7 276.4,105.7 276.5,91.1 276.5,83.4 276.6,106.5 276.7,97.8 276.7,82.2 276.8,107.2 276.8,87.0 276.9,105.0 276.9,90.8 277.0,83.3 277.0,103.0 277.1,105.6 277.2,91.7 277.3,83.2 277.3,109.8 277.3,109.2 277.4,85.2 277.4,107.6 277.5,87.7 277.6,89.9 277.7,103.6 277.7,102.7 277.8,94.7 277.8,94.0 277.9,106.9 277.9,90.1 278.0,108.9 278.1,102.6 278.1,86.9 278.1,82.3 278.2,96.2 278.3,91.5 278.3,98.9 278.4,104.3 278.4,84.8 278.5,99.1 278.5,108.6 278.6,84.2 278.7,102.0 278.7,97.7 278.8,81.1 278.9,83.5 278.9,99.8 278.9,82.6 279.0,97.3 279.1,95.3 279.1,87.8 279.2,87.7 279.2,97.6 279.3,111.1 279.4,89.8 279.4,87.3 279.5,98.5 279.6,89.0 279.6,78.8 279.7,91.7 279.7,82.8 279.8,79.2 279.8,89.1 279.9,105.4 280.0,96.4 280.0,111.8 280.1,82.6 280.1,106.8 280.2,83.6 280.2,90.4 280.3,96.4 280.3,105.3 280.4,82.5 280.5,106.5 280.5,96.1 280.6,82.0 280.6,93.3 280.7,97.3 280.8,89.9 280.8,101.1 280.9,81.0 280.9,105.0 281.0,84.3 281.0,105.9 281.1,86.8 281.2,97.3 281.2,93.2 281.3,95.7 281.3,84.7 281.4,84.2 281.5,97.7 281.5,100.2 281.5,87.1 281.6,94.3 281.7,83.2 281.7,88.5 281.8,92.4 281.8,103.5 281.9,95.7 281.9,109.9 282.0,93.0 282.1,102.0 282.1,88.4 282.2,105.8 282.3,89.3 282.3,87.1 282.4,112.2 282.4,111.4 282.5,86.2 282.6,103.9 282.6,90.5 282.6,94.1 282.7,103.6 282.8,86.4 282.8,102.6 282.9,103.9 283.0,95.5 283.0,105.8 283.0,87.4 283.2,82.8 283.2,99.4 283.2,92.0 283.3,96.9 283.3,93.5 283.4,104.3 283.5,102.6 283.5,89.0 283.6,90.0 283.6,98.4 283.7,93.6 283.7,97.3 283.8,105.8 283.9,90.6 284.0,89.3 284.0,102.4 284.0,100.0 284.1,80.4 284.1,95.2 284.2,88.6 284.3,87.0 284.3,102.1 284.4,106.8 284.4,85.8 284.5,106.6 284.5,85.5 284.6,105.5 284.7,83.9 284.7,88.6 284.8,94.6 284.9,84.5 284.9,108.9 285.0,90.9 285.0,101.6 285.1,87.2 285.1,99.3 285.2,97.3 285.2,86.4 285.3,81.1 285.4,103.2 285.4,91.3 285.5,107.4 285.5,102.0 285.6,91.0 285.7,92.6 285.7,90.2 285.8,87.9 285.8,99.4 285.9,85.1 286.0,95.4 286.0,108.9 286.0,94.8 286.1,123.3 286.2,91.5 286.3,107.3 286.3,85.1 286.4,105.2 286.4,91.6 286.5,88.0 286.5,109.1 286.6,86.5 286.6,109.1 286.7,89.1 286.8,107.9 286.8,98.0 286.9,103.4 287.0,103.0 287.0,92.6 287.0,92.5 287.0,106.7 287.1,106.2 287.2,95.2 287.3,116.4 287.3,90.8 287.4,93.4 287.4,99.4 287.5,103.8 287.6,92.4 287.6,91.6 287.6,107.7 287.8,91.7 287.8,112.1 287.8,93.6 287.9,101.5 288.0,110.4 288.0,93.4 288.1,90.0 288.1,112.7 288.2,99.9 288.2,90.6 288.3,115.6 288.4,95.2 288.4,89.6 288.5,100.8 288.5,107.8 288.6,93.2 288.7,104.1 288.7,88.4 288.8,118.4 288.8,90.1 288.9,80.8 288.9,99.7 289.0,107.9 289.0,90.6 289.1,83.3 289.2,99.6 289.2,101.8 289.3,83.8 289.3,83.7 289.4,104.9 289.5,89.0 289.5,102.4 289.6,88.1 289.6,100.2 289.7,107.4 289.7,85.3 289.8,103.5 289.8,93.0 289.9,116.7 290.0,81.7 290.0,92.8 290.1,102.8 290.2,106.3 290.2,84.1 290.2,83.6 290.3,88.6 290.4,84.5 290.4,102.7 290.5,99.1 290.6,105.6 290.6,105.5 290.7,86.1 290.7,111.8 290.7,90.2 290.8,93.4 290.9,106.0 290.9,102.2 291.0,84.6 291.1,94.6 291.1,109.6 291.2,89.2 291.2,107.1 291.3,83.9 291.3,93.2 291.4,86.1 291.5,99.7 291.5,83.5 291.6,99.1 291.7,90.9 291.7,99.1 291.7,107.4 291.8,88.2 291.9,84.2 291.9,105.5 292.0,86.6 292.0,105.5 292.1,93.7 292.1,101.5 292.2,80.9 292.2,106.0 292.3,81.1 292.4,104.3 292.4,100.4 292.5,85.1 292.6,95.8 292.6,84.6 292.7,96.9 292.7,84.8 292.8,101.8 292.8,92.5 292.9,79.8 293.0,101.5 293.0,105.8 293.1,81.9 293.1,108.1 293.2,79.7 293.2,85.1 293.3,102.4 293.4,93.6 293.4,77.3 293.5,76.5 293.6,97.8 293.6,80.1 293.6,95.5 293.7,79.8 293.8,96.3 293.8,101.9 293.9,89.2 293.9,97.4 294.0,80.3 294.1,93.1 294.1,86.4 294.2,91.5 294.2,108.8 294.3,97.6 294.3,76.5 294.4,85.1 294.4,101.1 294.5,96.0 294.6,81.6 294.6,98.2 294.7,82.3 294.7,81.3 294.8,96.4 294.9,96.0 294.9,81.0 295.0,97.1 295.1,82.3 295.1,100.7 295.2,81.6 295.2,103.6 295.3,83.2 295.3,92.9 295.4,79.1 295.5,78.7 295.5,99.6 295.6,92.2 295.6,85.8 295.7,95.2 295.8,84.6 295.8,77.5 295.9,93.1 295.9,91.7 295.9,78.5 296.0,84.2 296.1,80.0 296.1,86.5 296.2,91.8 296.2,100.8 296.3,81.8 296.4,83.5 296.4,107.2 296.5,78.1 296.6,92.5 296.6,80.3 296.7,93.1 296.7,81.7 296.8,92.8 296.8,99.5 296.9,83.3 296.9,85.5 297.0,97.7 297.1,81.8 297.1,93.5 297.2,91.9 297.3,76.7 297.3,79.0 297.3,88.0 297.4,79.4 297.5,90.3 297.5,93.0 297.5,79.7 297.7,104.2 297.7,83.0 297.7,91.2 297.8,77.8 297.9,83.4 297.9,98.8 298.0,96.2 298.1,80.7 298.1,83.5 298.1,91.7 298.2,95.5 298.3,87.4 298.3,78.6 298.4,111.5 298.5,94.0 298.5,73.6 298.5,83.8 298.6,101.5 298.7,82.3 298.7,99.3 298.8,82.0 298.9,102.4 298.9,85.9 298.9,98.1 299.0,95.9 299.1,87.1 299.2,95.2 299.2,80.1 299.3,76.7 299.3,91.5 299.4,89.4 299.4,82.4 299.5,84.3 299.6,98.0 299.6,87.3 299.6,92.8 299.7,75.0 299.7,94.8 299.8,82.9 299.9,98.4 300.0,84.3 300.0,103.8 300.0,80.3 300.1,89.7 300.2,94.9 300.2,80.2 300.3,82.6 300.3,90.4 300.4,80.7 300.5,97.8 300.5,77.6 300.6,85.4 300.6,91.6 300.7,75.6 300.7,91.4 300.8,81.8 300.9,79.4 300.9,94.4 301.0,95.9 301.0,91.7 301.1,91.8 301.1,119.7 301.2,82.3 301.3,104.3 301.3,88.2 301.4,100.4 301.5,88.5 301.5,101.4 301.6,95.3 301.6,121.4 301.7,121.2 301.7,95.7 301.8,114.5 301.9,105.0 301.9,111.6 301.9,122.5 302.0,106.0 302.0,122.9 302.1,108.8 302.2,127.7 302.2,114.2 302.3,144.5 302.4,146.9 302.4,130.2 302.5,135.4 302.5,146.5 302.6,137.5 302.7,155.4 302.7,152.2 302.8,181.2 302.8,159.6 302.8,176.6 303.0,181.7 303.0,190.8 303.0,199.2 303.1,226.3 303.2,247.0 303.2,311.5 303.3,363.0 303.4,271.5 303.4,247.0 303.5,218.5 303.5,199.2 303.6,181.7 303.6,182.7 303.6,164.9 303.7,159.6 303.8,181.2 303.9,155.4 303.9,137.5 304.0,136.5 304.1,146.5 304.1,130.2 304.1,146.9 304.2,146.6 304.3,123.6 304.3,127.7 304.4,112.6 304.4,108.8 304.5,122.9 304.5,106.0 304.6,122.5 304.7,105.0 304.7,112.3 304.8,114.5 304.9,95.7 304.9,121.4 305.0,95.3 305.0,110.2 305.1,88.5 305.2,100.4 305.2,88.2 305.3,104.3 305.3,82.3 305.4,119.7 305.4,91.8 305.5,91.7 305.6,95.9 305.6,94.4 305.7,79.4 305.7,88.8 305.8,81.8 305.8,91.4 305.9,75.6 305.9,91.6 306.0,77.6 306.0,80.7 306.1,97.8 306.2,90.4 306.2,82.6 306.3,80.2 306.3,94.9 306.4,87.9 306.4,89.7 306.5,80.3 306.5,103.8 306.6,102.5 306.7,82.9 306.8,86.8 306.8,94.8 306.8,75.0 306.9,92.8 307.0,87.3 307.0,98.0 307.1,84.3 307.2,82.4 307.3,91.5 307.3,76.7 307.3,80.1 307.4,95.2 307.4,84.6 307.5,95.9 307.6,88.4 307.6,98.1 307.7,102.4 307.7,82.0 307.8,99.3 307.8,82.3 307.9,86.5 307.9,101.5 308.0,73.6 308.1,94.0 308.1,81.0 308.1,111.5 308.2,78.6 308.3,88.1 308.3,95.5 308.4,83.5 308.5,80.7 308.5,96.2 308.6,98.8 308.7,84.0 308.7,77.8 308.8,91.0 308.9,83.0 308.9,104.2 309.0,92.1 309.0,79.7 309.0,93.0 309.1,79.4 309.2,80.9 309.2,88.0 309.3,76.7 309.4,91.9 309.4,93.5 309.4,81.8 309.5,87.6 309.5,97.7 309.6,94.2 309.7,83.3 309.7,99.5 309.8,89.7 309.9,93.1 309.9,80.3 310.0,92.5 310.0,83.9 310.1,78.1 310.1,107.2 310.3,99.5 310.3,81.8 310.3,100.8 310.3,89.7 310.4,86.5 310.5,80.0 310.6,85.5 310.6,78.5 310.7,93.1 310.7,77.5 310.8,84.6 310.8,95.2 310.9,93.7 310.9,85.8 311.1,99.6 311.1,78.7 311.1,86.7 311.2,79.1 311.3,83.2 311.3,103.6 311.4,81.6 311.4,100.7 311.5,82.3 311.5,97.1 311.6,87.0 311.7,81.0 311.7,82.5 311.8,96.4 311.8,81.3 311.9,84.4 311.9,98.2 312.0,81.6 312.1,88.0 312.1,101.1 312.2,87.7 312.2,76.5 312.3,91.7 312.3,108.8 312.4,86.4 312.5,93.1 312.5,88.5 312.5,80.3 312.6,89.2 312.7,101.9 312.8,96.3 312.8,79.8 312.8,82.1 312.9,95.5 313.0,80.1 313.0,97.8 313.1,76.5 313.1,93.6 313.2,90.4 313.3,102.4 313.4,79.7 313.4,92.2 313.4,108.1 313.5,81.9 313.6,101.5 313.6,87.0 313.7,79.8 313.7,100.8 313.8,101.8 313.8,84.8 313.9,84.6 313.9,95.8 314.0,93.2 314.1,85.1 314.1,104.3 314.2,95.9 314.2,81.1 314.3,106.0 314.3,80.9 314.4,101.5 314.5,93.4 314.5,105.5 314.6,105.5 314.7,84.2 314.7,88.2 314.7,96.5 314.8,107.4 314.9,90.9 314.9,99.1 315.0,83.5 315.0,86.6 315.1,99.7 315.2,86.1 315.2,93.2 315.3,83.9 315.3,107.1 315.4,89.2 315.4,109.6 315.5,84.6 315.6,100.3 315.7,94.5 315.7,106.0 315.8,101.2 315.8,90.2 315.8,111.8 315.9,86.1 316.0,93.7 316.0,105.6 316.1,102.7 316.2,84.5 316.2,101.3 316.2,86.1 316.3,83.6 316.4,106.3 316.4,102.8 316.5,92.8 316.5,100.3 316.6,81.7 316.6,116.7 316.7,93.0 316.8,100.8 316.9,85.3 316.9,107.4 317.0,92.6 317.0,88.1 317.0,102.4 317.1,95.7 317.1,104.9 317.2,83.7 317.3,101.8 317.3,92.4 317.4,99.6 317.5,83.3 317.5,100.1 317.6,107.9 317.7,80.8 317.7,90.1 317.7,118.4 317.8,105.2 317.8,88.4 317.9,99.4 317.9,93.2 318.0,107.8 318.1,93.0 318.1,89.6 318.2,115.6 318.3,98.2 318.3,90.6 318.4,99.9 318.5,112.7 318.5,90.0 318.6,110.4 318.6,96.9 318.7,101.5 318.8,112.1 318.8,91.7 318.9,100.0 318.9,107.7 319.0,91.6 319.0,103.0 319.1,103.8 319.1,94.8 319.2,90.8 319.3,116.4 319.3,99.8 319.4,95.2 319.4,92.7 319.5,106.7 319.5,92.5 319.6,103.0 319.7,103.4 319.7,98.1 319.8,107.9 319.8,89.1 319.9,109.1 320.0,86.5 320.1,109.1 320.1,88.0 320.1,91.6 320.2,105.2 320.3,85.1 320.3,107.3 320.4,91.5 320.4,103.4 320.5,123.3 320.5,94.8 320.6,102.7 320.7,87.1 320.7,85.1 320.7,99.4 320.8,90.2 320.9,92.6 320.9,90.7 321.0,101.7 321.1,107.4 321.1,95.0 321.2,103.2 321.2,89.4 321.3,81.1 321.3,97.3 321.4,99.3 321.5,94.7 321.5,87.2 321.5,101.6 321.6,108.9 321.7,84.5 321.7,98.1 321.8,89.8 321.9,83.9 321.9,105.5 322.0,101.3 322.0,85.5 322.1,106.6 322.2,85.8 322.2,106.8 322.3,88.4 322.3,87.0 322.3,93.6 322.4,80.4 322.5,100.0 322.6,102.4 322.6,89.3 322.7,90.6 322.7,105.8 322.8,91.5 322.8,97.3 322.9,98.4 322.9,90.0 323.0,89.0 323.1,102.6 323.2,96.2 323.2,104.3 323.2,96.9 323.3,92.0 323.4,99.4 323.4,82.8 323.5,87.4 323.5,105.8 323.6,95.5 323.7,103.9 323.7,102.6 323.8,86.4 323.8,94.8 323.9,103.6 323.9,90.5 324.0,103.9 324.1,86.2 324.1,111.4 324.2,112.2 324.2,89.9 324.3,87.1 324.3,94.2 324.4,105.8 324.4,88.4 324.5,93.0 324.5,105.3 324.6,109.9 324.7,95.7 324.7,103.5 324.8,91.6 324.9,83.2 324.9,94.3 325.0,87.1 325.0,100.2 325.1,97.7 325.2,84.2 325.2,96.2 325.3,84.7 325.3,93.2 325.4,97.3 325.4,96.4 325.5,86.8 325.5,105.9 325.6,84.3 325.6,105.0 325.7,81.0 325.8,101.1 325.8,89.9 325.9,93.7 326.0,83.9 326.0,82.0 326.1,106.5 326.1,98.7 326.1,82.5 326.2,105.3 326.2,91.6 326.4,83.6 326.4,90.7 326.5,82.6 326.5,111.8 326.6,90.8 326.6,105.1 326.7,105.4 326.7,86.4 326.8,79.2 326.9,91.7 326.9,78.8 327.0,89.0 327.1,98.5 327.1,87.3 327.1,97.6 327.2,89.8 327.3,111.1 327.3,90.2 327.4,87.7 327.5,94.1 327.5,83.4 327.5,97.3 327.6,82.6 327.6,99.8 327.8,81.1 327.8,97.7 327.9,102.0 327.9,84.2 327.9,94.3 328.0,108.6 328.1,84.8 328.1,104.3 328.2,98.9 328.2,91.5 328.3,96.9 328.4,93.5 328.4,82.3 328.5,102.6 328.6,108.9 328.6,91.4 328.6,90.1 328.7,106.9 328.8,94.7 328.8,102.7 328.9,103.6 329.0,99.0 329.0,87.7 329.0,104.7 329.1,85.2 329.2,108.3 329.2,109.8 329.3,83.2 329.4,91.7 329.4,104.4 329.4,105.6 329.5,96.4 329.6,83.3 329.6,96.9 329.7,105.0 329.7,87.0 329.8,107.2 329.9,82.2 329.9,83.8 330.0,106.5 330.0,83.4 330.1,105.7 330.2,86.5 330.2,98.7 330.3,82.7 330.3,101.1 330.4,99.9 330.4,85.1 330.5,78.4 330.6,102.2 330.6,109.2 330.7,88.8 330.7,97.6 330.8,85.0 330.8,93.1 330.9,85.9 331.0,102.6 331.0,86.2 331.1,81.9 331.1,100.6 331.2,94.1 331.3,101.7 331.3,93.9 331.4,85.2 331.4,92.4 331.5,84.7 331.5,105.4 331.6,99.6 331.6,86.2 331.7,102.3 331.8,83.7 331.8,100.3 331.9,103.7 331.9,83.0 332.0,80.8 332.0,103.6 332.2,88.2 332.2,103.6 332.2,91.1 332.3,80.9 332.3,88.1 332.4,102.5 332.5,94.8 332.5,87.0 332.6,93.9 332.6,99.3 332.7,81.4 332.7,93.2 332.8,87.5 332.8,95.7 332.9,84.3 332.9,96.0 333.1,104.6 333.1,90.2 333.2,102.7 333.2,93.3 333.3,86.3 333.3,111.9 333.4,100.4 333.4,88.6 333.5,91.6 333.5,105.6 333.6,90.2 333.7,113.6 333.7,89.6 333.8,104.7 333.9,96.2 333.9,90.4 333.9,100.8 334.0,81.4 334.1,104.8 334.1,90.4 334.2,97.8 334.2,83.8 334.3,84.4 334.4,115.9 334.4,83.6 334.5,92.5 334.5,86.8 334.6,98.9 334.7,88.2 334.7,105.2 334.8,87.8 334.8,104.9 334.9,105.7 334.9,88.5 335.0,97.0 335.0,89.8 335.1,103.8 335.2,93.2 335.3,107.0 335.3,86.6 335.3,101.0 335.4,87.0 335.5,85.1 335.5,100.8 335.6,103.2 335.6,88.7 335.7,99.0 335.8,85.7 335.8,89.6 335.9,97.6 335.9,95.0 336.0,113.8 336.0,94.2 336.1,111.3 336.1,100.6 336.2,82.8 336.3,97.2 336.3,110.3 336.4,85.3 336.5,109.1 336.5,98.5 336.5,104.5 336.6,90.7 336.7,102.7 336.7,124.8 336.8,88.0 336.9,89.3 336.9,107.2 337.0,94.3 337.0,104.4 337.1,106.8 337.1,88.2 337.2,92.1 337.3,107.4 337.3,86.0 337.3,101.0 337.4,98.8 337.5,83.6 337.5,111.3 337.6,85.4 337.7,114.3 337.7,88.9 337.7,104.5 337.8,93.4 337.9,88.0 337.9,108.7 338.0,91.6 338.1,109.0 338.2,95.9 338.2,106.4 338.2,119.2 338.2,93.7 338.4,98.7 338.4,101.4 338.4,111.4 338.5,83.4 338.6,101.0 338.6,89.6 338.7,92.6 338.7,100.9 338.8,101.8 338.9,91.7 338.9,109.9 338.9,86.1 339.0,92.7 339.1,112.6 339.2,91.0 339.2,111.4 339.3,88.9 339.3,110.7 339.4,85.4 339.4,103.0 339.5,111.0 339.5,93.3 339.6,90.9 339.7,109.6 339.8,112.4 339.8,91.9 339.9,98.5 339.9,86.3 340.0,98.6 340.0,90.8 340.1,88.3 340.1,99.2 340.2,89.4 340.2,97.6 340.3,85.4 340.3,114.0 340.4,110.5 340.5,85.1 340.5,109.8 340.6,99.9 340.6,109.7 340.7,86.5 340.7,113.0 340.8,94.6 340.9,108.7 340.9,87.6 341.0,86.2 341.0,104.6 341.1,104.8 341.2,86.3 341.2,91.4 341.3,100.1 341.4,95.2 341.4,83.9 341.5,101.5 341.5,89.4 341.6,91.3 341.6,107.9 341.7,102.2 341.7,84.8 341.8,91.4 341.9,105.8 342.0,91.3 342.0,108.4 342.0,113.2 342.0,94.5 342.1,86.6 342.2,110.5 342.3,94.6 342.3,114.6 342.4,114.3 342.4,89.5 342.5,97.7 342.5,91.0 342.6,101.0 342.7,98.1 342.7,97.1 342.7,106.5 342.8,99.0 342.9,119.5 343.0,113.5 343.0,91.8 343.1,91.4 343.1,109.7 343.2,91.6 343.2,102.8 343.3,96.6 343.3,118.9 343.4,90.8 343.5,108.6 343.5,107.4 343.6,94.0 343.6,98.4 343.7,116.9 343.8,112.4 343.8,98.1 343.9,89.3 343.9,119.4 344.0,102.0 344.0,107.9 344.1,109.8 344.1,103.4 344.2,94.4 344.3,102.8 344.4,109.1 344.4,99.4 344.4,93.8 344.5,113.1 344.6,122.7 344.6,91.8 344.7,86.1 344.8,95.6 344.8,96.1 344.8,110.7 344.9,110.6 345.0,92.5 345.0,87.1 345.1,110.1 345.1,115.6 345.2,96.5 345.3,89.2 345.3,103.8 345.4,114.2 345.4,92.1 345.5,86.7 345.5,99.0 345.6,106.8 345.7,88.2 345.7,94.0 345.8,111.6 345.8,90.0 345.9,106.7 346.0,110.8 346.0,90.9 346.1,113.4 346.1,88.8 346.2,90.3 346.3,105.2 346.3,89.9 346.4,101.9 346.4,145.1 346.5,89.7 346.5,96.1 346.6,84.4 346.6,104.9 346.7,93.6 346.7,83.3 346.8,108.6 346.9,85.8 346.9,103.5 347.0,104.0 347.0,85.2 347.1,93.5 347.1,112.8 347.2,117.6 347.3,88.3 347.3,94.9 347.4,113.4 347.4,104.1 347.5,97.7 347.6,91.4 347.6,111.3 347.7,108.4 347.8,91.3 347.8,102.0 347.9,93.9 347.9,88.6 348.0,108.0 348.0,113.5 348.1,90.6 348.2,103.5 348.2,88.5 348.3,96.0 348.3,104.4 348.4,90.7 348.4,113.2 348.5,87.1 348.5,100.2 348.6,93.0 348.6,105.6 348.7,107.2 348.8,90.0 348.8,92.3 348.9,107.5 348.9,93.2 349.0,101.7 349.1,92.3 349.1,102.1 349.2,96.5 349.2,112.9 349.3,102.0 349.4,90.7 349.4,89.6 349.5,100.1 349.6,104.4 349.6,84.2 349.7,96.4 349.7,103.6 349.7,98.0 349.8,112.0 349.9,106.4 349.9,95.8 350.0,93.1 350.1,107.4 350.1,94.1 350.1,106.8 350.2,98.4 350.3,84.5 350.3,100.5 350.4,89.6 350.5,84.2 350.5,106.0 350.6,101.1 350.6,86.3 350.7,103.4 350.7,88.3 350.8,81.5 350.9,100.0 350.9,106.1 351.0,83.6 351.0,93.1 351.1,82.7 351.2,101.9 351.2,84.1 351.2,106.0 351.3,81.7 351.4,99.6 351.4,108.0 351.5,82.6 351.5,103.6 351.6,97.9 351.7,94.6 351.7,88.3 351.8,99.7 351.8,99.8 351.9,87.4 351.9,80.1 352.0,99.7 352.1,98.5 352.1,89.8 352.2,107.0 352.2,89.2 352.3,97.6 352.3,109.8 352.4,85.9 352.4,97.3 352.5,104.3 352.6,86.0 352.7,87.6 352.7,111.4 352.8,91.3 352.8,117.0 352.9,103.1 352.9,89.6 353.0,111.2 353.0,86.8 353.1,103.0 353.2,98.0 353.2,112.0 353.3,93.6 353.3,97.3 353.4,108.1 353.4,95.3 353.5,113.6 353.6,96.5 353.6,110.2 353.7,98.2 353.7,128.8 353.8,125.0 353.8,98.2 353.9,113.9 354.0,129.6 354.0,111.5 354.0,129.3 354.1,115.0 354.2,120.8 354.3,125.4 354.3,115.8 354.4,124.2 354.4,131.3 354.5,139.8 354.5,127.1 354.6,126.7 354.7,147.9 354.7,126.9 354.8,166.5 354.8,147.7 354.8,131.3 355.0,142.9 355.0,155.9 355.0,145.3 355.1,161.8 355.2,149.1 355.2,167.0 355.3,177.8 355.3,142.9 355.4,159.0 355.4,184.5 355.5,183.0 355.6,166.2 355.6,165.6 355.7,197.6 355.8,198.1 355.8,181.8 355.8,208.2 355.9,193.6 356.0,195.0 356.1,207.5 356.1,210.8 356.1,228.6 356.2,238.9 356.3,212.5 356.3,232.3 356.4,217.2 356.5,217.2 356.5,235.8 356.5,251.9 356.6,231.2 356.7,226.5 356.7,200.9 356.8,224.4 356.8,208.4 356.9,207.3 356.9,192.3 357.0,197.8 357.1,212.9 357.1,211.5 357.1,187.6 357.3,196.2 357.3,177.6 357.3,207.6 357.4,175.0 357.5,167.9 357.6,190.5 357.6,174.1 357.6,188.2 357.7,197.0 357.8,177.1 357.8,200.8 357.9,160.6 357.9,173.8 358.0,165.7 358.0,177.0 358.1,163.5 358.2,183.0 358.2,159.4 358.3,159.7 358.4,168.5 358.4,179.1 358.4,158.5 358.5,148.2 358.6,165.2 358.6,157.9 358.7,175.5 358.8,171.6 358.8,156.1 358.8,168.6 358.9,142.5 359.0,155.7 359.0,179.5 359.1,157.6 359.1,166.1 359.2,146.6 359.3,168.4 359.3,167.4 359.4,149.2 359.5,166.0 359.5,149.6 359.6,160.4 359.6,141.1 359.7,160.9 359.7,169.1 359.8,139.3 359.8,180.5 359.9,167.2 359.9,150.3 360.0,145.4 360.0,174.2 360.1,162.2 360.2,148.5 360.3,146.9 360.3,182.5 360.3,160.9 360.4,145.0 360.5,167.9 360.5,144.3 360.6,163.3 360.7,155.8 360.7,162.3 360.7,137.8 360.8,164.4 360.8,143.6 360.9,157.9 361.0,145.4 361.1,143.5 361.1,169.6 361.2,171.0 361.2,153.8 361.3,143.3 361.3,165.6 361.4,158.0 361.4,169.1 361.5,181.6 361.6,152.9 361.6,173.7 361.7,150.4 361.7,162.0 361.8,151.7 361.9,155.4 361.9,145.9 362.0,152.7 362.0,166.4 362.1,153.4 362.1,174.9 362.2,159.3 362.3,145.4 362.3,158.6 362.4,166.3 362.4,159.3 362.5,153.5 362.6,168.1 362.6,155.1 362.7,150.0 362.7,165.1 362.8,172.8 362.9,163.1 362.9,162.5 362.9,172.6 363.0,165.1 363.1,149.2 363.1,150.9 363.2,178.4 363.3,160.5 363.3,178.3 363.3,166.0 363.4,178.3 363.5,161.5 363.5,188.5 363.6,165.6 363.7,183.1 363.7,193.1 363.8,160.1 363.8,164.6 363.9,182.0 363.9,165.0 364.0,180.0 364.0,169.9 364.1,183.6 364.2,170.4 364.2,191.4 364.3,182.1 364.4,209.3 364.4,189.9 364.4,195.5 364.5,193.8 364.6,207.1 364.6,187.2 364.7,193.9 364.7,186.8 364.8,213.5 364.8,197.7 364.9,228.8 365.0,225.2 365.0,192.9 365.1,221.5 365.2,207.3 365.2,208.6 365.2,228.1 365.3,207.4 365.4,212.2 365.4,231.5 365.5,216.5 365.6,222.0 365.6,232.1 365.7,249.4 365.7,226.6 365.8,228.9 365.9,246.7 365.9,249.4 365.9,238.4 366.0,221.7 366.1,241.7 366.1,240.7 366.2,234.2 366.3,249.4 366.3,232.9 366.3,227.6 366.4,249.4 366.5,244.4 366.5,213.9 366.6,240.7 366.7,212.3 366.7,236.3 366.7,220.1 366.8,219.9 366.9,206.1 367.0,246.1 367.0,214.3 367.0,217.0 367.1,201.5 367.1,202.6 367.2,229.7 367.3,236.7 367.4,197.9 367.4,220.6 367.4,208.7 367.5,226.2 367.6,190.3 367.6,206.4 367.7,192.0 367.8,195.1 367.8,213.7 367.9,214.5 367.9,188.4 368.0,221.8 368.0,191.0 368.1,208.3 368.1,187.1 368.2,185.6 368.3,209.3 368.3,186.7 368.4,206.1 368.4,196.4 368.5,211.4 368.5,204.0 368.6,213.7 368.7,182.5 368.7,204.5 368.8,207.9 368.8,183.3 368.9,191.2 368.9,204.7 369.0,198.3 369.1,190.4 369.1,209.5 369.2,192.3 369.2,188.3 369.3,211.1 369.4,183.3 369.4,213.7 369.5,186.5 369.5,216.0 369.6,212.7 369.7,187.2 369.7,198.0 369.7,190.3 369.9,223.4 369.9,200.7 369.9,187.7 370.0,220.1 370.0,187.6 370.1,212.2 370.1,188.5 370.2,202.9 370.3,188.7 370.3,217.0 370.4,196.4 370.5,210.1 370.5,190.4 370.6,213.2 370.7,196.4 370.7,219.5 370.7,196.6 370.8,219.6 370.8,195.6 370.9,223.8 371.0,200.7 371.0,187.2 371.1,191.0 371.1,212.9 371.2,205.0 371.2,226.9 371.3,189.1 371.4,220.4 371.4,219.4 371.5,202.8 371.6,192.9 371.6,228.2 371.7,201.0 371.7,227.7 371.8,182.9 371.8,206.9 371.9,202.6 371.9,189.3 372.0,184.2 372.0,210.1 372.1,202.6 372.1,174.3 372.3,200.0 372.3,172.8 372.4,185.8 372.4,208.3 372.5,201.1 372.5,170.0 372.6,196.2 372.7,184.9 372.7,168.5 372.7,190.2 372.8,177.9 372.9,189.6 372.9,186.1 373.0,158.3 373.1,158.7 373.1,191.8 373.1,194.5 373.2,159.3 373.3,186.2 373.3,150.8 373.4,187.4 373.4,156.3 373.5,178.8 373.6,167.8 373.6,149.3 373.6,178.4 373.8,177.5 373.8,152.1 373.9,163.8 373.9,146.4 374.0,177.4 374.0,156.2 374.1,170.4 374.1,153.2 374.2,166.4 374.2,151.7 374.3,170.5 374.3,138.9 374.4,164.9 374.5,156.4 374.5,154.9 374.6,141.7 374.7,162.3 374.7,139.5 374.8,136.9 374.8,162.2 374.9,140.1 375.0,175.0 375.0,175.9 375.0,133.1 375.1,169.9 375.2,136.5 375.2,147.1 375.3,158.3 375.4,143.2 375.4,158.7 375.5,161.0 375.5,155.9 375.6,135.1 375.7,169.7 375.7,145.1 375.7,169.0 375.8,154.6 375.9,138.1 375.9,138.1 376.0,161.9 376.0,138.9 376.1,144.8 376.2,159.0 376.2,140.9 376.3,164.6 376.3,136.9 376.4,140.7 376.5,159.9 376.5,145.5 376.6,162.5 376.6,142.9 376.7,172.8 376.7,153.8 376.8,173.2 376.8,158.7 376.9,173.5 377.0,168.4 377.0,152.0 377.1,151.1 377.1,170.5 377.2,154.4 377.3,177.0 377.3,149.2 377.4,170.1 377.4,181.5 377.5,154.7 377.5,179.6 377.6,156.7 377.7,162.2 377.7,190.2 377.8,177.8 377.8,152.3 377.9,178.1 378.0,166.5 378.0,161.9 378.0,197.1 378.1,159.0 378.2,176.8 378.2,191.7 378.3,165.9 378.3,176.7 378.4,181.5 378.5,196.8 378.5,177.6 378.6,199.0 378.6,178.8 378.7,185.6 378.8,218.3 378.9,206.7 378.9,192.5 378.9,186.5 378.9,200.6 379.1,208.7 379.1,198.2 379.1,206.3 379.2,222.5 379.3,198.1 379.3,217.9 379.4,213.0 379.4,236.7 379.5,210.3 379.5,234.5 379.6,254.7 379.7,220.8 379.7,246.2 379.8,234.0 379.8,247.2 379.9,260.6 380.0,253.8 380.0,273.1 380.1,261.2 380.1,289.4 380.2,264.4 380.3,308.1 380.3,297.0 380.4,317.5 380.4,326.7 380.5,360.5 380.5,360.5 380.6,360.5 380.7,339.5 380.8,336.6 380.8,302.6 380.9,294.4 380.9,299.6 381.0,280.8 381.1,286.6 381.1,295.6 381.2,260.5 381.2,275.7 381.3,246.2 381.4,270.4 381.4,248.3 381.5,265.1 381.5,231.9 381.6,230.2 381.6,245.0 381.7,225.4 381.7,253.2 381.8,221.9 381.8,244.4 381.9,251.9 382.0,214.9 382.0,227.0 382.1,244.6 382.1,234.2 382.2,223.4 382.3,243.2 382.3,233.0 382.4,244.1 382.4,228.0 382.5,231.0 382.6,206.2 382.6,225.1 382.7,216.1 382.7,235.5 382.8,210.7 382.9,210.6 382.9,230.9 383.0,217.1 383.0,240.4 383.1,222.1 383.1,213.5 383.2,202.2 383.3,222.4 383.3,222.8 383.4,209.1 383.4,244.6 383.5,217.6 383.5,225.0 383.6,204.8 383.7,213.0 383.7,220.3 383.8,203.6 383.8,215.8 383.9,241.9 383.9,207.8 384.0,226.8 384.0,256.3 384.2,227.9 384.2,238.1 384.2,227.3 384.2,213.2 384.3,240.4 384.4,219.8 384.5,216.8 384.5,233.4 384.6,223.0 384.6,241.7 384.7,227.8 384.8,251.1 384.8,223.7 384.8,242.2 384.9,252.1 385.0,229.2 385.0,258.1 385.1,246.1 385.2,255.4 385.2,236.7 385.3,267.4 385.3,251.8 385.4,267.4 385.4,243.5 385.5,255.8 385.6,238.4 385.6,241.3 385.7,265.1 385.7,248.9 385.8,267.4 385.8,265.8 385.9,235.3 385.9,234.6 386.0,267.4 386.1,253.1 386.1,220.7 386.2,221.1 386.3,237.5 386.3,221.4 386.4,238.9 386.4,226.6 386.4,236.4 386.5,239.8 386.5,206.3 386.6,208.7 386.7,239.4 386.7,200.5 386.8,204.1 386.9,190.1 387.0,207.8 387.0,186.9 387.0,204.8 387.1,178.6 387.2,200.5 387.2,207.4 387.3,184.6 387.3,183.5 387.4,200.8 387.5,171.2 387.5,198.4 387.6,197.5 387.6,166.8 387.7,194.5 387.7,164.5 387.8,174.3 387.8,165.7 387.9,193.7 388.0,164.3 388.0,187.4 388.1,160.5 388.2,163.9 388.2,184.3 388.2,192.9 388.3,175.3 388.4,156.2 388.4,176.0 388.5,169.4 388.6,164.1 388.6,190.7 388.7,163.1 388.8,174.9 388.8,145.5 388.9,148.1 388.9,169.6 389.0,145.8 389.0,184.0 389.1,156.8 389.1,181.0 389.2,177.1 389.3,143.9 389.3,186.1 389.3,152.9 389.4,161.5 389.5,148.9 389.5,181.8 389.5,152.2 389.6,143.8 389.7,166.8 389.7,179.4 389.8,152.9 389.9,172.0 389.9,145.3 390.0,172.3 390.1,143.4 390.1,144.4 390.2,174.7 390.2,184.8 390.2,142.2 390.3,155.5 390.4,179.1 390.4,146.8 390.5,159.7 390.6,182.8 390.6,146.4 390.7,181.5 390.7,149.0 390.8,182.1 390.8,162.5 390.9,163.7 391.0,151.4 391.0,150.9 391.0,165.8 391.2,149.9 391.2,170.1 391.3,178.8 391.3,153.7 391.4,168.1 391.4,152.9 391.5,172.8 391.5,161.7 391.6,168.5 391.6,144.5 391.8,160.9 391.8,152.7 391.8,164.3 391.9,186.8 392.0,161.7 392.0,181.6 392.1,155.9 392.1,182.5 392.2,192.9 392.3,170.7 392.3,162.5 392.3,188.5 392.4,195.5 392.5,159.2 392.6,181.1 392.6,160.4 392.7,186.8 392.7,173.5 392.8,167.9 392.8,197.2 392.9,175.6 392.9,204.5 393.0,200.8 393.1,175.3 393.1,206.9 393.1,182.6 393.2,187.9 393.3,208.0 393.4,216.9 393.4,188.6 393.4,217.3 393.5,197.0 393.6,191.0 393.6,230.5 393.7,199.8 393.7,229.8 393.8,221.8 393.9,202.1 393.9,206.9 394.0,228.9 394.0,203.5 394.0,225.1 394.1,208.9 394.2,233.8 394.3,219.1 394.3,246.0 394.4,235.1 394.4,249.1 394.5,225.2 394.5,258.7 394.6,234.4 394.7,260.0 394.7,268.1 394.8,245.9 394.8,268.1 394.9,256.7 394.9,264.9 395.0,247.1 395.1,268.1 395.1,249.8 395.2,268.1 395.3,252.0 395.3,240.5 395.3,264.6 395.4,248.7 395.5,260.6 395.5,268.1 395.6,238.3 395.6,250.8 395.7,233.5 395.7,225.8 395.8,248.4 395.9,243.2 395.9,232.8 396.0,239.5 396.1,218.4 396.1,235.1 396.2,208.0 396.3,214.5 396.3,233.0 396.3,220.3 396.4,223.4 396.4,236.9 396.5,209.5 396.6,205.0 396.6,226.8 396.7,233.0 396.7,205.1 396.8,196.5 396.9,220.2 396.9,224.2 397.0,202.9 397.0,190.8 397.1,217.7 397.2,205.5 397.2,185.3 397.3,188.0 397.3,192.7 397.4,189.3 397.4,208.8 397.5,182.9 397.5,220.3 397.6,207.4 397.6,200.7 397.7,207.7 397.7,193.0 397.8,215.7 397.9,186.8 397.9,210.4 398.0,177.3 398.1,189.5 398.1,202.2 398.2,183.0 398.2,195.2 398.3,174.0 398.4,204.1 398.4,191.4 398.4,177.7 398.5,206.1 398.6,174.0 398.6,190.4 398.7,209.7 398.7,199.5 398.8,176.9 398.9,181.5 398.9,204.1 399.0,188.4 399.1,199.1 399.1,174.2 399.2,205.7 399.2,173.8 399.3,215.6 399.3,183.6 399.4,200.9 399.4,196.6 399.5,177.4 399.6,178.5 399.6,210.6 399.7,199.3 399.7,189.4 399.8,194.2 399.9,173.6 400.0,208.5 400.0,184.4 400.0,209.4 400.1,174.9 400.2,197.7 400.2,178.2 400.3,196.3 400.3,183.3 400.4,184.0 400.4,208.0 400.5,177.4 400.6,197.0 400.6,196.9 400.7,178.7 400.7,199.2 400.8,188.6 400.8,187.0 400.8,210.6 400.9,192.3 401.0,201.5 401.1,180.9 401.1,206.4 401.2,199.3 401.2,181.6 401.3,197.6 401.4,182.4 401.4,172.7 401.5,195.8 401.5,195.9 401.5,176.6 401.6,209.6 401.7,179.8 401.7,167.6 401.8,179.7 401.9,167.5 401.9,175.7 402.0,163.9 402.0,191.7 402.1,195.6 402.1,163.2 402.3,187.2 402.3,163.5 402.3,172.8 402.4,182.0 402.5,156.6 402.5,189.6 402.6,154.3 402.6,189.4 402.7,181.3 402.7,165.4 402.8,183.3 402.8,156.7 402.9,198.7 403.0,166.3 403.0,190.1 403.1,151.9 403.1,175.8 403.2,168.3 403.2,185.7 403.3,145.8 403.4,151.9 403.4,174.6 403.5,151.2 403.5,167.1 403.6,152.9 403.6,168.8 403.7,160.0 403.8,172.2 403.8,154.2 403.9,162.2 404.0,156.4 404.0,175.2 404.1,156.9 404.1,172.7 404.2,149.1 404.2,162.0 404.3,145.5 404.4,161.2 404.4,154.9 404.4,174.9 404.5,153.4 404.6,171.8 404.7,180.1 404.7,149.4 404.8,143.9 404.8,167.3 404.9,180.1 404.9,159.2 405.0,150.1 405.0,174.3 405.1,184.8 405.2,155.0 405.3,144.0 405.3,158.7 405.3,168.6 405.4,152.2 405.5,167.1 405.5,146.9 405.5,173.6 405.6,144.8 405.7,143.9 405.7,166.7 405.8,181.3 405.8,150.9 405.9,160.7 405.9,153.3 406.0,162.2 406.1,174.9 406.1,150.7 406.2,181.8 406.3,183.8 406.3,158.0 406.3,161.1 406.4,185.2 406.5,180.0 406.5,156.6 406.6,181.9 406.7,157.0 406.7,158.2 406.8,176.2 406.8,162.0 406.9,186.0 407.0,183.6 407.0,171.0 407.1,191.2 407.1,174.1 407.2,176.6 407.2,183.7 407.3,170.8 407.3,191.9 407.4,186.2 407.4,166.1 407.5,193.9 407.6,172.0 407.6,196.2 407.7,171.1 407.8,195.4 407.8,177.8 407.8,202.7 407.9,182.1 408.0,214.1 408.0,184.9 408.1,207.3 408.1,182.4 408.2,211.1 408.3,191.1 408.3,194.7 408.4,215.8 408.4,200.5 408.5,224.2 408.6,204.6 408.6,224.2 408.7,211.2 408.7,220.4 408.8,202.0 408.8,226.2 408.9,206.7 409.0,236.6 409.0,216.1 409.0,230.8 409.1,240.3 409.1,216.4 409.2,225.7 409.3,234.5 409.4,219.5 409.4,247.3 409.5,212.2 409.5,246.4 409.6,240.4 409.6,220.5 409.7,218.1 409.8,245.9 409.8,215.1 409.9,246.3 410.0,211.8 410.0,228.0 410.1,210.1 410.1,233.7 410.2,235.9 410.2,205.2 410.3,230.4 410.3,212.7 410.4,214.8 410.4,240.3 410.5,238.4 410.5,217.3 410.6,231.4 410.7,207.8 410.7,207.9 410.8,223.3 410.8,228.5 410.9,218.8 411.0,213.5 411.0,231.0 411.1,215.8 411.2,211.8 411.2,198.3 411.2,231.3 411.3,224.5 411.4,208.3 411.4,233.0 411.5,207.3 411.6,231.3 411.6,212.2 411.7,192.8 411.7,223.7 411.8,199.3 411.8,217.7 411.9,208.2 411.9,219.8 412.0,226.4 412.1,197.0 412.1,225.8 412.2,204.1 412.2,219.7 412.3,198.8 412.3,218.0 412.4,205.0 412.5,223.0 412.5,197.0 412.6,200.1 412.6,221.6 412.7,233.1 412.8,219.6 412.8,242.3 412.9,219.9 412.9,205.8 413.0,225.0 413.1,211.3 413.1,236.0 413.2,238.5 413.2,217.3 413.3,215.8 413.4,233.2 413.4,218.0 413.4,247.8 413.5,236.7 413.5,247.5 413.6,230.8 413.7,248.8 413.8,273.1 413.8,237.1 413.9,237.3 413.9,262.1 414.0,248.7 414.0,279.1 414.1,248.8 414.1,263.2 414.2,270.2 414.3,259.1 414.3,265.8 414.4,250.5 414.4,287.3 414.5,265.4 414.5,266.9 414.6,250.0 414.7,279.5 414.7,256.4 414.8,261.7 414.9,242.3 414.9,254.4 415.0,238.2 415.0,222.7 415.1,247.6 415.1,218.4 415.2,232.2 415.3,251.4 415.3,233.1 415.3,231.0 415.4,214.7 415.5,208.9 415.5,202.4 415.6,225.4 415.7,199.9 415.7,213.8 415.7,196.1 415.8,209.4 415.9,188.2 415.9,194.1 416.0,203.6 416.0,181.7 416.1,197.8 416.2,186.9 416.2,211.6 416.3,179.4 416.4,203.5 416.4,195.0 416.5,189.1 416.5,168.1 416.6,199.8 416.6,196.9 416.7,177.2 416.8,166.8 416.8,174.7 416.8,188.4 416.9,176.0 417.0,199.8 417.0,165.9 417.1,155.9 417.2,187.6 417.2,187.9 417.3,164.6 417.3,178.0 417.4,158.5 417.5,184.5 417.5,166.0 417.5,171.0 417.6,152.3 417.6,150.6 417.7,175.0 417.8,163.9 417.8,174.1 417.9,172.7 417.9,153.7 418.1,168.6 418.1,151.5 418.1,164.0 418.2,150.9 418.2,169.3 418.3,145.9 418.4,160.5 418.4,142.3 418.5,168.9 418.5,149.0 418.6,163.8 418.6,152.4 418.7,177.2 418.8,148.5 418.8,170.1 418.9,152.5 418.9,163.3 418.9,141.6 419.0,147.1 419.1,158.5 419.2,159.9 419.2,146.8 419.3,156.2 419.3,146.4 419.4,175.8 419.5,155.8 419.5,148.7 419.6,164.8 419.6,173.2 419.7,139.4 419.7,170.5 419.8,153.3 419.9,170.2 419.9,148.7 420.0,158.2 420.0,171.4 420.1,163.1 420.2,180.0 420.2,148.6 420.3,168.9 420.4,149.9 420.4,157.4 420.4,174.2 420.5,160.8 420.6,153.3 420.6,164.7 420.7,187.8 420.7,154.5 420.8,185.3 420.8,154.4 420.9,185.2 420.9,147.3 421.0,148.7 421.1,186.6 421.1,181.0 421.2,166.4 421.3,175.0 421.3,158.1 421.3,190.4 421.4,161.7 421.5,185.8 421.5,165.5 421.6,168.6 421.7,175.8 421.7,160.1 421.8,191.2 421.8,180.3 421.8,169.1 421.9,191.7 422.0,174.9 422.1,195.0 422.1,166.5 422.2,176.2 422.2,185.8 422.3,192.7 422.3,161.1 422.4,194.7 422.5,163.9 422.5,168.0 422.5,190.7 422.6,174.1 422.6,198.5 422.7,192.1 422.7,174.7 422.9,189.9 422.9,172.9 423.0,191.3 423.0,167.5 423.1,189.4 423.2,203.0 423.2,173.4 423.3,200.9 423.4,200.7 423.4,172.7 423.4,174.2 423.5,196.4 423.5,168.4 423.6,203.0 423.6,198.9 423.7,184.8 423.8,168.8 423.8,195.0 423.9,185.3 424.0,182.5 424.0,184.3 424.1,174.1 424.1,201.2 424.2,176.1 424.2,208.4 424.3,192.4 424.4,178.7 424.4,195.5 424.5,179.0 424.5,195.4 424.6,182.3 424.6,198.3 424.7,174.7 424.7,195.5 424.8,173.1 424.9,198.3 424.9,192.2 424.9,168.6 425.1,189.9 425.1,172.2 425.2,183.4 425.2,194.0 425.3,175.3 425.3,193.1 425.4,206.2 425.4,172.4 425.5,201.6 425.6,173.5 425.6,183.2 425.7,211.3 425.7,205.8 425.7,186.6 425.9,193.4 425.9,175.8 426.0,184.5 426.0,210.8 426.1,176.5 426.1,203.6 426.2,186.9 426.3,199.8 426.3,196.6 426.4,178.9 426.4,201.8 426.4,190.4 426.5,177.9 426.6,188.2 426.7,184.2 426.7,218.9 426.8,196.8 426.8,212.7 426.9,210.3 426.9,192.9 427.0,204.9 427.0,186.8 427.1,199.3 427.1,243.7 427.2,195.0 427.2,213.0 427.4,195.8 427.4,212.1 427.4,191.8 427.5,214.4 427.6,214.0 427.6,232.2 427.7,222.8 427.7,196.9 427.8,205.5 427.9,245.7 428.0,226.8 428.0,213.8 428.1,246.7 428.1,226.7 428.1,226.3 428.2,243.6 428.3,241.6 428.3,219.2 428.4,250.7 428.5,220.5 428.5,250.7 428.6,228.1 428.7,227.8 428.7,248.7 428.7,223.2 428.8,247.1 428.9,220.5 428.9,250.7 428.9,250.7 429.0,227.7 429.1,250.7 429.1,236.6 429.2,245.9 429.3,221.7 429.3,250.7 429.4,236.4 429.4,214.1 429.5,223.6 429.6,236.9 429.6,210.0 429.7,226.5 429.7,209.8 429.8,205.6 429.8,230.2 429.9,211.6 429.9,226.2 430.0,223.0 430.0,205.4 430.1,226.4 430.2,194.3 430.2,222.8 430.3,191.9 430.4,212.4 430.4,194.6 430.5,220.6 430.5,190.9 430.6,187.8 430.6,207.9 430.7,203.9 430.8,175.5 430.8,199.1 430.9,181.6 430.9,185.5 431.0,204.6 431.0,196.8 431.1,184.0 431.2,168.0 431.2,193.3 431.3,202.4 431.3,166.6 431.4,190.8 431.5,159.4 431.5,163.4 431.6,191.0 431.6,187.5 431.7,171.0 431.7,184.1 431.8,150.7 431.9,190.3 431.9,160.1 432.0,188.2 432.0,158.4 432.1,175.1 432.1,161.4 432.2,181.2 432.3,155.8 432.3,156.4 432.4,173.0 432.5,179.8 432.5,155.1 432.5,153.5 432.6,164.9 432.6,179.5 432.7,150.4 432.8,160.2 432.8,142.7 432.9,180.2 432.9,163.7 433.0,149.3 433.1,168.9 433.1,162.2 433.1,151.0 433.2,164.4 433.2,140.2 433.3,160.5 433.4,141.0 433.5,160.4 433.5,142.5 433.6,191.2 433.6,142.7 433.7,163.5 433.7,147.6 433.8,183.9 433.8,151.7 433.9,149.1 434.0,163.6 434.1,179.0 434.1,150.8 434.1,161.2 434.2,142.2 434.3,156.4 434.3,142.6 434.4,158.9 434.4,147.5 434.5,149.7 434.5,161.9 434.6,184.7 434.7,165.7 434.7,171.6 434.7,148.9 434.9,173.1 434.9,150.6 435.0,162.4 435.0,155.5 435.1,146.3 435.1,181.5 435.2,148.7 435.2,188.2 435.3,150.6 435.3,175.1 435.4,179.8 435.4,166.9 435.5,183.2 435.6,162.0 435.7,158.0 435.7,187.9 435.8,170.8 435.8,160.7 435.9,185.8 435.9,157.0 436.0,163.4 436.0,184.2 436.1,169.1 436.2,182.4 436.3,193.2 436.3,167.2 436.3,176.8 436.4,192.0 436.5,172.3 436.5,190.6 436.6,171.2 436.6,200.2 436.7,171.8 436.8,200.7 436.8,203.6 436.9,191.7 436.9,177.0 437.0,200.0 437.0,185.0 437.1,200.1 437.1,178.6 437.2,206.9 437.3,204.8 437.3,186.1 437.4,217.6 437.5,192.1 437.5,189.1 437.5,203.3 437.6,210.7 437.7,192.5 437.7,192.0 437.8,211.1 437.9,207.3 437.9,195.9 437.9,228.9 438.0,207.1 438.1,214.1 438.1,197.5 438.2,206.8 438.3,198.5 438.3,213.9 438.4,208.7 438.4,198.0 438.5,237.9 438.5,219.5 438.6,194.3 438.7,199.1 438.7,225.9 438.7,196.7 438.8,223.5 438.9,213.8 438.9,191.2 439.0,225.6 439.0,198.1 439.1,193.7 439.1,225.2 439.2,200.9 439.3,218.6 439.4,196.8 439.4,225.3 439.4,208.3 439.5,231.4 439.6,213.1 439.6,186.7 439.7,200.3 439.7,206.0 439.8,192.0 439.8,221.3 440.0,191.4 440.0,213.4 440.0,190.3 440.1,210.1 440.1,215.9 440.2,194.5 440.3,208.2 440.3,187.0 440.4,217.2 440.4,202.0 440.5,191.8 440.5,214.3 440.6,226.4 440.7,209.2 440.7,200.2 440.8,212.0 440.9,191.6 440.9,229.7 440.9,208.4 441.0,198.3 441.1,203.9 441.1,224.0 441.2,226.0 441.3,200.2 441.3,224.2 441.4,196.1 441.4,234.7 441.5,206.3 441.5,229.6 441.6,215.8 441.6,225.9 441.7,210.7 441.8,205.9 441.8,232.2 441.9,246.2 441.9,215.3 442.0,204.5 442.1,232.8 442.1,228.1 442.1,223.6 442.2,241.7 442.3,217.8 442.4,226.1 442.4,257.2 442.5,227.5 442.5,238.0 442.6,250.1 442.6,229.3 442.7,271.1 442.8,253.3 442.8,288.1 442.8,263.8 442.9,252.7 443.0,287.4 443.0,262.7 443.1,281.2 443.2,267.9 443.2,285.3 443.2,288.5 443.3,281.6 443.4,270.7 443.4,288.5 443.5,274.9 443.6,285.0 443.6,284.8 443.7,264.7 443.8,281.5 443.8,245.1 443.8,242.0 443.9,270.7 443.9,255.5 444.0,231.0 444.1,260.0 444.1,245.9 444.2,217.4 444.3,244.8 444.3,208.4 444.4,228.2 444.5,213.0 444.5,224.1 444.5,203.6 444.6,229.8 444.6,192.2 444.7,207.7 444.7,217.4 444.8,188.9 444.9,205.8 444.9,179.9 445.0,176.0 445.0,203.3 445.1,201.4 445.2,179.8 445.2,202.2 445.2,185.6 445.3,178.3 445.4,193.8 445.4,172.4 445.5,202.1 445.6,174.9 445.6,164.4 445.7,165.4 445.8,190.3 445.8,185.7 445.8,158.8 445.9,194.0 446.0,164.5 446.0,174.3 446.0,155.3 446.2,177.9 446.2,157.0 446.3,168.4 446.3,156.3 446.4,147.9 446.4,175.0 446.5,169.0 446.5,153.5 446.6,152.6 446.6,179.5 446.7,165.4 446.8,178.4 446.8,172.7 446.9,146.7 446.9,156.8 447.0,145.7 447.0,140.7 447.1,162.4 447.2,155.1 447.3,145.3 447.3,154.0 447.4,132.2 447.5,148.6 447.5,141.1 447.5,145.9 447.6,170.6 447.6,151.6 447.7,145.3 447.7,159.7 447.8,144.5 447.9,159.3 447.9,140.8 448.0,146.2 448.1,164.8 448.1,138.4 448.2,148.5 448.2,149.0 448.3,161.8 448.4,158.5 448.4,132.3 448.4,175.4 448.5,138.4 448.5,164.1 448.6,133.6 448.7,170.4 448.7,138.5 448.8,153.8 448.8,161.7 448.9,147.4 449.0,165.3 449.1,135.4 449.1,159.8 449.1,140.0 449.2,175.1 449.3,167.9 449.3,150.8 449.4,166.5 449.4,143.8 449.5,140.6 449.5,160.2 449.6,171.5 449.6,140.8 449.7,161.3 449.8,144.3 449.8,149.7 449.9,173.5 449.9,148.9 450.0,177.0 450.1,154.4 450.1,174.5 450.2,167.7 450.2,171.6 450.3,152.5 450.4,164.6 450.4,153.7 450.4,192.2 450.5,175.9 450.6,162.5 450.6,183.2 450.7,165.9 450.8,177.8 450.8,190.2 450.9,192.6 450.9,179.3 451.0,177.9 451.1,186.2 451.1,180.3 451.1,199.7 451.2,205.5 451.2,189.4 451.3,202.0 451.4,189.3 451.5,186.4 451.5,216.9 451.5,195.8 451.6,216.9 451.7,230.9 451.7,203.0 451.8,230.2 451.8,202.8 451.9,216.0 451.9,225.8 452.0,245.4 452.1,214.0 452.1,215.2 452.2,242.2 452.2,244.0 452.3,221.3 452.4,239.6 452.4,255.7 452.5,265.5 452.5,246.6 452.6,250.2 452.7,296.0 452.8,264.4 452.8,289.0 452.8,261.8 452.9,283.5 453.0,270.1 453.0,292.6 453.1,269.2 453.1,296.0 453.2,285.5 453.2,264.4 453.3,296.0 453.3,277.4 453.4,259.6 453.4,296.0 453.5,277.4 453.6,262.7 453.6,273.0 453.6,243.8 453.8,271.9 453.8,236.7 453.9,262.9 453.9,237.4 454.0,230.0 454.1,257.1 454.1,238.9 454.1,257.2 454.2,258.8 454.2,232.3 454.3,244.1 454.4,256.6 454.4,257.9 454.5,220.5 454.6,251.5 454.6,216.9 454.7,245.7 454.7,217.9 454.8,241.1 454.8,216.3 454.9,222.4 454.9,257.4 455.1,222.7 455.1,238.7 455.1,227.8 455.2,241.2 455.3,224.6 455.3,247.1 455.3,225.8 455.4,247.4 455.5,222.7 455.5,233.3 455.6,227.0 455.7,240.1 455.7,247.5 455.7,228.0 455.8,227.0 455.8,250.6 455.9,250.4 456.0,233.8 456.1,232.9 456.1,255.2 456.2,254.2 456.2,235.5 456.3,265.0 456.4,236.4 456.4,256.9 456.4,235.0 456.5,243.7 456.6,267.7 456.6,267.2 456.7,277.4 456.8,272.8 456.8,257.4 456.8,254.8 456.9,282.1 457.0,270.3 457.1,290.8 457.1,274.6 457.2,294.5 457.2,278.4 457.3,311.6 457.3,295.6 457.4,318.5 457.4,325.1 457.5,318.8 457.5,325.1 457.7,325.1 457.8,325.1 457.9,325.1 458.0,325.1 458.1,325.1 458.2,322.8 458.3,325.1 458.3,308.2 458.3,325.1 458.4,290.8 458.5,296.0 458.5,283.0 458.6,282.0 458.7,298.5 458.8,292.7 458.8,276.9 458.9,267.1 458.9,292.6 459.0,258.1 459.0,278.3 459.1,243.7 459.1,273.9 459.2,290.2 459.2,253.9 459.3,275.3 459.4,243.4 459.4,241.6 459.4,257.3 459.5,268.5 459.5,230.6 459.6,240.7 459.7,228.4 459.8,258.7 459.8,233.3 459.8,236.8 459.9,260.9 460.0,248.6 460.0,227.0 460.1,223.4 460.1,247.9 460.2,243.1 460.2,220.3 460.3,240.9 460.4,235.6 460.5,238.7 460.5,225.1 460.5,241.2 460.6,234.4 460.7,245.0 460.7,221.2 460.8,236.0 460.9,210.0 460.9,232.2 460.9,224.1 461.0,224.2 461.1,239.5 461.1,222.5 461.2,242.7 461.3,219.3 461.3,247.2 461.4,212.8 461.4,236.3 461.5,214.6 461.5,219.0 461.6,238.3 461.7,218.0 461.7,225.3 461.8,213.1 461.9,208.6 461.9,254.0 462.0,239.2 462.0,225.3 462.0,237.0 462.1,222.5 462.2,244.7 462.2,212.0 462.3,238.0 462.3,220.8 462.4,206.9 462.5,232.5 462.5,206.5 462.5,237.1 462.6,212.9 462.7,246.4 462.8,241.3 462.8,219.1 462.9,217.7 462.9,231.1 463.0,223.8 463.0,210.6 463.1,242.6 463.2,229.5 463.2,222.6 463.3,233.5 463.3,222.9 463.4,251.0 463.4,247.7 463.4,212.4 463.5,224.1 463.6,233.9 463.7,237.4 463.7,218.7 463.8,244.1 463.9,208.0 463.9,238.7 464.0,210.0 464.0,234.2 464.1,232.7 464.1,227.2 464.2,205.4 464.2,215.9 464.3,243.6 464.4,211.1 464.4,228.5 464.5,216.8 464.5,244.3 464.6,208.4 464.7,245.8 464.7,214.0 464.7,229.2 464.9,221.2 464.9,234.9 464.9,216.9 465.0,239.1 465.1,240.1 465.1,215.7 465.2,220.1 465.2,242.0 465.3,239.6 465.3,209.1 465.4,247.3 465.5,229.3 465.5,226.3 465.6,248.1 465.7,250.0 465.7,220.4 465.8,228.3 465.8,244.1 465.9,220.1 465.9,235.4 466.0,219.2 466.0,252.5 466.1,221.5 466.2,234.6 466.2,259.8 466.2,231.3 466.3,247.8 466.3,227.6 466.4,235.0 466.5,250.2 466.6,253.7 466.6,229.1 466.6,241.0 466.7,234.8 466.8,251.7 466.8,226.6 466.9,233.9 466.9,253.7 467.1,255.7 467.1,234.4 467.1,236.3 467.2,262.3 467.2,240.9 467.3,274.7 467.3,235.9 467.4,276.7 467.5,268.8 467.5,247.4 467.6,272.5 467.6,257.9 467.7,244.0 467.7,266.9 467.8,264.7 467.8,239.2 467.9,251.6 468.0,240.8 468.1,259.8 468.1,248.4 468.2,260.5 468.2,232.8 468.3,239.8 468.3,252.7 468.4,220.4 468.5,253.7 468.5,219.5 468.5,239.8 468.6,235.0 468.7,229.1 468.7,231.7 468.8,215.5 468.9,212.1 468.9,240.4 469.0,231.5 469.0,207.1 469.1,217.4 469.2,202.7 469.2,206.5 469.2,222.7 469.3,196.5 469.4,216.6 469.4,217.6 469.5,193.2 469.6,200.4 469.6,215.0 469.6,204.5 469.7,192.8 469.8,183.4 469.8,215.4 469.9,187.8 469.9,203.2 470.0,211.6 470.1,179.3 470.1,188.6 470.1,211.9 470.2,211.3 470.3,179.9 470.4,199.5 470.4,171.3 470.5,174.5 470.5,198.3 470.6,204.0 470.7,177.8 470.7,179.1 470.7,190.8 470.8,196.7 470.9,182.6 470.9,168.8 471.0,198.2 471.1,196.3 471.1,168.4 471.2,190.2 471.2,179.2 471.3,205.9 471.3,168.7 471.4,188.3 471.5,171.5 471.5,173.9 471.5,166.3 471.6,165.5 471.7,189.0 471.7,163.2 471.8,179.0 471.8,160.3 471.9,185.7 472.0,165.3 472.0,192.1 472.1,173.8 472.2,194.5 472.2,185.9 472.2,167.8 472.3,160.6 472.3,177.0 472.5,168.1 472.5,198.4 472.6,162.5 472.6,177.8 472.6,193.0 472.7,168.6 472.8,180.8 472.8,164.6 472.9,164.1 472.9,200.3 473.0,175.4 473.1,192.0 473.1,178.3 473.2,170.2 473.2,161.7 473.3,203.0 473.3,171.5 473.4,193.4 473.5,165.0 473.5,188.4 473.6,196.4 473.6,174.3 473.7,208.9 473.7,169.1 473.8,180.2 473.9,195.9 473.9,176.9 473.9,198.0 474.1,202.7 474.1,169.7 474.2,180.1 474.2,208.9 474.3,180.0 474.3,189.8 474.4,185.2 474.4,207.6 474.5,201.0 474.6,180.8 474.7,186.4 474.7,219.2 474.8,186.1 474.8,214.0 474.9,201.6 474.9,190.1 474.9,189.6 475.0,199.5 475.1,215.9 475.2,196.5 475.2,193.2 475.2,219.3 475.3,215.5 475.4,196.0 475.4,199.1 475.5,217.9 475.6,221.0 475.6,192.2 475.6,225.3 475.7,203.8 475.8,199.5 475.8,225.9 475.9,221.1 475.9,201.4 476.0,217.8 476.1,210.0 476.1,235.1 476.2,220.2 476.2,219.6 476.3,205.4 476.4,227.9 476.4,205.1 476.5,233.8 476.5,201.6 476.6,214.5 476.6,224.6 476.7,210.9 476.8,231.3 476.8,207.9 476.9,239.5 476.9,234.5 477.0,212.4 477.0,243.8 477.1,221.2 477.2,207.2 477.2,238.3 477.3,207.2 477.3,230.2 477.4,207.0 477.5,230.6 477.5,214.1 477.5,230.8 477.7,210.7 477.7,226.4 477.7,245.4 477.8,214.0 477.9,235.9 477.9,216.1 478.0,205.5 478.0,224.6 478.1,213.5 478.1,236.4 478.2,216.7 478.2,236.5 478.3,229.4 478.4,220.4 478.5,238.6 478.5,217.7 478.6,214.9 478.6,231.4 478.6,240.8 478.7,222.1 478.8,241.6 478.8,212.3 478.9,221.8 478.9,238.4 479.0,240.0 479.1,223.1 479.2,216.9 479.2,225.7 479.2,213.8 479.3,246.1 479.3,247.9 479.4,228.3 479.5,239.2 479.5,224.5 479.6,223.4 479.6,240.8 479.7,248.6 479.8,222.9 479.8,223.1 479.8,243.5 479.9,224.5 480.0,261.3 480.1,241.8 480.1,232.9 480.1,265.1 480.2,227.4 480.3,232.7 480.3,255.9 480.4,240.6 480.5,254.7 480.5,234.7 480.6,250.2 480.6,236.8 480.6,253.3 480.7,246.0 480.8,277.9 480.9,252.3 480.9,272.1 481.0,276.0 481.0,259.8 481.1,258.9 481.1,273.1 481.2,257.3 481.3,290.8 481.3,290.8 481.3,277.9 481.5,267.4 481.5,289.9 481.6,297.1 481.6,274.2 481.7,278.2 481.7,307.7 481.8,284.0 481.8,309.0 481.9,280.9 481.9,309.0 482.0,290.3 482.1,306.5 482.2,284.7 482.2,309.0 482.2,309.0 482.3,288.2 482.3,302.2 482.4,274.7 482.4,271.6 482.5,300.1 482.6,290.0 482.6,277.0 482.7,276.9 482.7,278.7 482.8,296.4 482.8,274.3 483.0,295.3 483.0,267.0 483.1,259.6 483.1,276.5 483.1,287.8 483.2,257.6 483.3,282.9 483.3,261.9 483.4,292.4 483.4,258.9 483.5,269.3 483.5,249.1 483.6,254.4 483.7,280.3 483.8,252.7 483.8,273.3 483.9,285.8 483.9,257.8 483.9,276.5 484.0,260.3 484.1,264.5 484.1,271.4 484.2,251.1 484.3,255.4 484.3,253.3 484.3,237.7 484.4,242.8 484.5,268.0 484.5,242.0 484.6,263.8 484.7,246.3 484.7,275.9 484.7,254.0 484.8,265.6 484.9,264.4 485.0,253.0 485.0,255.2 485.1,236.1 485.1,247.6 485.2,267.9 485.3,261.7 485.3,251.6 485.3,262.1 485.4,247.8 485.5,250.9 485.5,261.1 485.6,244.8 485.6,263.9 485.7,259.5 485.8,244.8 485.8,244.4 485.8,269.3 485.9,238.6 486.0,264.7 486.0,254.6 486.1,243.4 486.2,241.1 486.2,261.8 486.2,249.0 486.3,255.2 486.4,258.5 486.4,249.4 486.5,267.1 486.6,249.4 486.6,249.6 486.6,256.6 486.7,249.3 486.7,242.0 486.8,259.0 486.9,248.1 487.0,258.9 487.0,247.7 487.1,255.2 487.1,271.8 487.2,268.2 487.3,241.8 487.3,263.4 487.3,239.7 487.4,269.4 487.5,241.3 487.5,244.1 487.5,257.3 487.6,245.4 487.7,256.1 487.8,272.5 487.8,239.2 487.9,272.2 487.9,249.8 488.0,278.9 488.0,235.4 488.1,274.3 488.2,233.4 488.2,263.6 488.3,237.4 488.3,233.3 488.4,247.2 488.5,233.2 488.5,253.2 488.6,238.0 488.6,252.5 488.7,248.9 488.8,228.2 488.8,224.8 488.9,248.2 488.9,235.1 489.0,220.2 489.0,228.0 489.1,264.7 489.1,239.2 489.2,224.8 489.3,258.3 489.3,232.7 489.4,234.7 489.4,245.8 489.5,233.3 489.5,221.3 489.7,223.9 489.7,253.0 489.7,253.7 489.8,219.4 489.8,226.7 489.9,242.6 489.9,251.9 490.0,216.2 490.1,217.3 490.1,233.8 490.2,220.5 490.2,239.8 490.3,216.8 490.3,232.9 490.4,232.7 490.5,214.9 490.5,252.1 490.6,213.6 490.6,226.2 490.7,232.1 490.7,233.9 490.8,220.6 490.9,244.4 490.9,219.8 491.0,233.5 491.0,240.5 491.1,235.4 491.1,259.2 491.2,247.4 491.3,223.6 491.3,220.3 491.4,258.7 491.4,236.0 491.5,219.7 491.6,225.5 491.6,255.0 491.7,251.9 491.8,221.1 491.8,225.1 491.9,237.5 491.9,227.3 491.9,246.6 492.0,239.9 492.1,219.3 492.2,218.0 492.2,238.4 492.3,246.2 492.3,215.6 492.4,212.8 492.4,246.2 492.5,211.6 492.5,232.6 492.6,241.4 492.7,207.8 492.8,214.5 492.8,236.2 492.9,217.6 492.9,230.7 492.9,208.1 493.0,236.4 493.1,203.3 493.1,229.9 493.2,224.5 493.3,212.7 493.3,218.6 493.3,220.6 493.4,210.8 493.5,230.7 493.5,196.9 493.6,217.7 493.7,215.3 493.7,192.3 493.7,235.6 493.8,194.5 493.9,222.1 493.9,190.0 494.0,189.7 494.0,225.2 494.1,185.9 494.1,219.9 494.3,192.7 494.3,216.1 494.3,190.0 494.4,213.6 494.5,210.7 494.5,191.4 494.6,178.5 494.6,205.6 494.7,199.4 494.8,182.9 494.8,177.7 494.8,198.2 495.0,195.5 495.0,174.8 495.0,205.9 495.1,174.0 495.2,184.9 495.2,195.9 495.2,190.5 495.3,177.4 495.4,173.5 495.4,208.5 495.5,182.8 495.5,202.6 495.6,177.6 495.6,197.6 495.7,201.8 495.8,173.3 495.8,181.1 495.9,187.6 496.0,199.4 496.0,173.7 496.1,172.8 496.1,206.4 496.2,190.5 496.3,172.3 496.3,199.8 496.4,173.8 496.4,202.9 496.5,172.1 496.5,171.9 496.6,195.6 496.6,193.3 496.7,174.5 496.7,199.8 496.8,179.9 496.9,176.3 496.9,191.2 497.0,174.2 497.0,183.0 497.1,195.7 497.2,173.0 497.2,188.6 497.2,175.9 497.3,195.3 497.4,184.8 497.4,200.7 497.5,175.3 497.6,174.8 497.6,199.6 497.7,185.5 497.7,208.2 497.8,208.7 497.9,185.1 497.9,201.3 498.0,216.1 498.0,183.1 498.1,198.0 498.1,184.5 498.2,204.9 498.2,183.7 498.3,219.4 498.4,212.0 498.4,189.4 498.5,205.1 498.5,192.7 498.6,216.4 498.6,195.4 498.7,196.4 498.8,228.3 498.8,198.2 498.9,218.9 498.9,192.0 499.0,225.5 499.1,224.8 499.1,211.1 499.2,204.6 499.2,225.9 499.3,218.3 499.3,216.2 499.4,234.2 499.5,204.7 499.6,211.0 499.6,251.3 499.7,218.4 499.7,241.1 499.7,217.3 499.8,232.6 499.9,254.2 499.9,221.1 500.0,231.7 500.1,240.1 500.1,229.6 500.2,260.4 500.3,274.5 500.3,250.2 500.4,269.1 500.4,245.5 500.5,279.2 500.5,250.1 500.6,268.8 500.6,255.2 500.7,274.2 500.7,265.1 500.8,259.5 500.9,291.0 500.9,271.5 500.9,291.0 501.0,279.0 501.0,281.6 501.2,286.7 501.2,291.0 501.2,291.0 501.3,286.1 501.4,291.0 501.5,291.0 501.6,284.6 501.6,291.0 501.7,291.0 501.8,287.0 501.8,281.8 501.9,267.8 501.9,267.7 502.0,277.4 502.1,282.0 502.1,254.4 502.2,286.1 502.2,253.9 502.3,251.7 502.4,272.5 502.4,251.3 502.5,241.9 502.5,248.8 502.6,275.4 502.6,258.2 502.7,238.3 502.7,229.1 502.8,245.2 502.9,238.7 502.9,261.0 503.0,235.6 503.1,248.8 503.1,230.8 503.1,222.9 503.2,251.8 503.3,213.9 503.4,234.1 503.4,214.6 503.4,240.1 503.5,245.9 503.5,232.2 503.6,242.4 503.7,225.9 503.7,204.7 503.8,208.3 503.8,233.5 503.9,205.7 503.9,226.2 504.0,226.9 504.1,208.0 504.2,204.3 504.2,218.1 504.3,209.8 504.3,223.3 504.4,227.6 504.4,202.3 504.5,203.0 504.6,228.0 504.6,228.4 504.6,206.3 504.7,236.0 504.7,199.4 504.8,230.2 504.9,206.0 505.0,228.2 505.0,198.0 505.0,210.5 505.1,197.9 505.2,193.3 505.2,203.0 505.3,223.7 505.4,206.3 505.4,221.6 505.5,202.0 505.5,206.1 505.6,195.9 505.6,214.5 505.7,193.9 505.7,217.9 505.8,206.6 505.8,200.8 505.9,214.1 506.0,191.1 506.0,222.4 506.1,206.4 506.1,191.9 506.2,212.4 506.3,200.0 506.4,199.0 506.4,214.4 506.4,204.6 506.5,193.3 506.5,189.8 506.6,214.0 506.7,189.4 506.7,218.4 506.8,212.1 506.9,200.3 506.9,191.9 507.0,222.4 507.1,200.6 507.1,222.7 507.1,190.7 507.2,208.7 507.2,224.2 507.3,200.3 507.3,225.0 507.4,197.2 507.5,198.1 507.5,218.0 507.6,225.6 507.7,208.4 507.7,202.7 507.7,214.1 507.8,207.4 507.9,223.3 508.0,208.2 508.0,227.3 508.1,232.9 508.1,209.8 508.2,233.6 508.2,206.5 508.3,233.5 508.3,220.8 508.4,215.4 508.5,230.6 508.5,215.7 508.5,234.8 508.6,237.4 508.6,211.1 508.7,219.5 508.8,237.4 508.9,213.2 508.9,233.3 509.0,224.1 509.0,242.1 509.1,251.0 509.2,227.4 509.3,226.4 509.3,250.4 509.3,240.8 509.3,229.1 509.5,263.9 509.5,234.8 509.6,236.4 509.6,268.5 509.7,241.5 509.7,250.3 509.8,239.6 509.9,273.5 509.9,258.6 509.9,262.4 510.0,296.8 510.1,249.5 510.1,248.6 510.1,288.6 510.2,252.3 510.3,264.6 510.3,297.6 510.4,268.3 510.5,302.6 510.5,284.7 510.6,288.5 510.6,287.0 510.7,314.3 510.7,290.7 510.8,289.9 510.9,312.8 511.0,312.6 511.0,293.1 511.0,314.3 511.1,286.1 511.2,308.9 511.2,291.4 511.3,299.8 511.3,306.1 511.4,295.3 511.5,277.4 511.6,299.9 511.6,279.1 511.6,274.2 511.6,297.9 511.8,278.1 511.8,264.1 511.8,277.4 511.9,265.2 512.0,264.9 512.0,256.5 512.1,277.2 512.2,245.2 512.2,244.2 512.2,264.1 512.4,272.9 512.4,243.4 512.4,256.6 512.5,239.6 512.5,254.8 512.6,230.1 512.7,257.0 512.7,234.8 512.8,227.3 512.9,257.7 512.9,246.7 513.0,225.3 513.1,249.6 513.1,235.8 513.1,237.8 513.2,222.4 513.3,246.4 513.3,222.1 513.4,226.2 513.4,258.1 513.5,224.3 513.5,237.9 513.6,232.9 513.7,211.6 513.7,243.5 513.7,210.3 513.8,216.5 513.9,240.2 513.9,213.3 513.9,241.5 514.1,234.7 514.1,212.4 514.2,243.5 514.2,218.1 514.3,217.9 514.4,242.6 514.4,218.9 514.5,237.0 514.5,216.4 514.5,238.6 514.6,208.5 514.7,249.6 514.7,218.3 514.8,242.7 514.9,255.1 514.9,214.8 515.0,240.6 515.0,217.6 515.1,217.6 515.2,245.7 515.2,209.2 515.3,238.9 515.3,207.8 515.4,232.2 515.4,225.2 515.5,222.3 515.5,242.0 515.6,218.0 515.7,221.4 515.7,234.8 515.8,223.3 515.9,249.6 515.9,218.3 515.9,229.8 516.0,222.3 516.0,240.4 516.2,241.5 516.2,225.1 516.2,233.4 516.3,221.7 516.3,240.8 516.4,220.4 516.5,232.1 516.5,215.1 516.6,233.4 516.6,211.1 516.7,236.9 516.8,219.0 516.9,209.2 516.9,236.0 516.9,236.0 517.0,212.8 517.0,210.0 517.1,232.5 517.2,211.1 517.2,237.7 517.3,206.3 517.3,229.5 517.4,216.3 517.5,200.4 517.5,223.2 517.6,192.4 517.6,206.6 517.7,213.5 517.7,216.2 517.8,194.7 517.9,200.6 517.9,213.9 518.0,194.1 518.0,213.4 518.1,192.0 518.2,218.3 518.2,180.5 518.3,217.1 518.3,220.1 518.3,199.1 518.4,193.7 518.5,204.4 518.6,177.5 518.6,208.6 518.7,178.1 518.7,193.2 518.8,209.9 518.8,192.2 518.9,170.2 519.0,190.9 519.0,183.1 519.1,194.4 519.2,217.9 519.2,166.7 519.3,184.6 519.3,189.4 519.4,188.0 519.4,165.5 519.5,191.7 519.5,164.8 519.6,170.8 519.7,203.6 519.7,191.1 519.7,166.1 519.8,195.8 519.9,166.4 519.9,186.7 520.0,176.3 520.1,194.1 520.1,182.4 520.1,184.7 520.2,173.9 520.3,192.6 520.3,165.0 520.4,191.5 520.4,163.6 520.5,162.3 520.6,190.9 520.6,192.3 520.7,171.0 520.8,170.9 520.8,183.3 520.9,157.3 520.9,191.2 521.0,171.0 521.0,183.0 521.1,188.8 521.1,168.1 521.2,192.1 521.3,166.9 521.3,166.5 521.4,174.8 521.4,187.6 521.5,172.7 521.6,171.0 521.6,185.0 521.6,175.4 521.7,198.8 521.8,195.3 521.8,172.2 521.9,168.4 521.9,190.8 522.0,204.3 522.0,167.0 522.1,175.5 522.2,195.7 522.2,176.6 522.3,205.6 522.3,180.4 522.4,205.5 522.5,197.0 522.5,183.3 522.6,187.9 522.7,202.1 522.7,181.4 522.8,208.4 522.8,214.5 522.9,178.9 522.9,195.3 522.9,181.8 523.0,212.5 523.1,193.7 523.1,189.4 523.2,206.9 523.3,223.2 523.3,197.2 523.4,214.8 523.4,202.7 523.5,212.8 523.5,200.5 523.6,203.0 523.7,225.5 523.7,209.8 523.8,233.8 523.9,206.6 523.9,229.5 524.0,215.6 524.0,236.7 524.1,210.0 524.1,234.1 524.2,244.0 524.2,215.7 524.3,228.3 524.3,242.4 524.4,237.8 524.5,246.0 524.6,240.2 524.6,262.9 524.7,264.7 524.7,245.5 524.8,246.0 524.8,266.1 524.9,242.4 524.9,272.9 525.0,270.7 525.0,251.0 525.1,272.4 525.2,253.2 525.2,260.2 525.3,283.8 525.3,287.5 525.4,259.0 525.5,286.1 525.5,269.8 525.6,256.4 525.7,282.2 525.7,290.4 525.8,264.7 525.8,280.1 525.8,257.2 525.9,254.5 526.0,288.8 526.1,271.9 526.1,254.1 526.1,259.7 526.2,248.4 526.3,274.6 526.3,244.7 526.4,246.6 526.5,271.8 526.5,246.1 526.5,274.7 526.6,260.8 526.7,234.0 526.7,268.4 526.8,241.3 526.8,241.2 526.9,254.5 526.9,234.8 527.0,271.5 527.1,236.8 527.1,266.9 527.2,255.8 527.3,232.3 527.3,249.8 527.4,238.5 527.4,264.4 527.5,246.0 527.5,259.6 527.6,236.4 527.7,263.8 527.7,245.2 527.8,257.8 527.8,246.4 527.9,262.2 528.0,239.1 528.0,269.3 528.1,238.6 528.1,257.2 528.2,264.5 528.2,236.1 528.3,252.3 528.3,247.3 528.4,262.0 528.5,247.6 528.5,261.6 528.6,278.3 528.6,246.8 528.7,264.9 528.8,254.3 528.8,252.0 528.8,284.4 528.9,258.6 529.0,276.2 529.0,253.0 529.1,274.6 529.2,260.6 529.2,283.0 529.3,264.3 529.3,293.9 529.4,275.0 529.5,289.3 529.5,273.8 529.5,300.3 529.6,294.6 529.6,284.8 529.7,300.3 529.8,277.3 529.9,290.9 529.9,300.3 529.9,286.0 530.0,300.3 530.1,300.3 530.1,292.2 530.2,300.3 530.2,297.9 530.3,300.3 530.3,295.1 530.4,300.3 530.5,292.6 530.6,300.3 530.7,300.3 530.7,286.0 530.8,292.5 530.8,300.3 530.9,300.3 530.9,284.6 531.0,300.3 531.0,277.1 531.2,277.1 531.2,300.3 531.2,297.0 531.3,281.7 531.4,287.5 531.4,267.9 531.5,285.1 531.5,277.8 531.6,291.8 531.6,267.9 531.7,257.5 531.8,284.6 531.8,269.0 531.9,278.5 531.9,259.3 532.0,273.1 532.0,262.9 532.1,247.3 532.2,251.3 532.2,275.7 532.3,281.8 532.3,260.3 532.4,274.9 532.4,266.9 532.5,271.7 532.6,260.4 532.7,264.2 532.7,247.3 532.7,266.9 532.8,251.6 532.8,267.4 532.9,254.4 533.0,264.0 533.0,249.6 533.1,249.1 533.1,263.6 533.2,250.1 533.2,274.8 533.3,256.6 533.3,278.0 533.4,251.9 533.5,270.2 533.5,263.5 533.5,286.8 533.6,256.8 533.7,280.9 533.8,283.0 533.8,264.7 533.9,259.8 534.0,279.3 534.0,263.4 534.1,288.9 534.2,293.7 534.2,280.8 534.2,284.1 534.3,299.7 534.3,297.6 534.4,307.1 534.4,290.4 534.5,311.5 534.6,292.1 534.6,309.7 534.7,302.9 534.8,326.4 534.8,321.1 534.8,326.4 534.9,326.4 535.0,326.4 535.1,326.4 535.2,326.4 535.4,326.4 535.5,326.4 535.5,319.1 535.6,314.6 535.6,299.3 535.7,307.5 535.8,297.8 535.8,291.0 535.9,300.9 535.9,297.5 536.0,269.4 536.1,256.5 536.1,273.7 536.2,272.3 536.3,249.3 536.3,274.9 536.4,257.6 536.4,249.6 536.5,261.4 536.6,251.8 536.6,263.0 536.7,233.5 536.7,257.8 536.7,228.9 536.8,246.7 536.9,256.8 536.9,227.1 537.0,265.6 537.0,231.1 537.1,255.6 537.1,229.7 537.2,236.4 537.3,224.7 537.4,239.0 537.4,225.6 537.5,237.3 537.5,205.8 537.6,237.0 537.6,212.4 537.7,201.5 537.7,227.0 537.8,224.1 537.8,206.8 537.9,203.0 538.0,222.3 538.0,228.8 538.1,209.9 538.1,230.3 538.2,196.0 538.3,199.5 538.3,207.3 538.4,218.1 538.4,201.1 538.5,207.8 538.5,225.2 538.6,198.2 538.6,216.3 538.7,223.1 538.8,199.3 538.9,218.0 538.9,195.3 538.9,232.5 539.0,202.0 539.1,228.3 539.1,190.5 539.2,217.1 539.3,191.8 539.3,211.3 539.3,193.8 539.4,190.5"/>
<polyline fill="none" stroke="#D95319" stroke-width="1.1" stroke-linejoin="round" points="67.2,230.1 67.2,238.0 67.3,227.6 67.3,242.3 67.4,218.2 67.4,233.9 67.5,241.8 67.5,223.4 67.7,211.4 67.7,237.0 67.8,215.6 67.8,241.2 67.9,210.2 67.9,240.1 68.0,225.8 68.0,212.5 68.1,225.4 68.2,208.7 68.2,222.1 68.3,210.2 68.3,213.7 68.4,225.5 68.4,247.4 68.5,207.3 68.5,239.2 68.6,212.9 68.7,208.1 68.7,200.2 68.8,225.6 68.9,199.9 68.9,230.9 68.9,197.3 69.0,197.2 69.1,222.0 69.1,210.8 69.2,199.5 69.2,199.1 69.3,223.8 69.3,212.9 69.4,203.1 69.5,205.3 69.5,197.2 69.6,206.9 69.7,220.6 69.7,219.9 69.7,193.7 69.9,190.4 69.9,215.8 69.9,206.5 70.0,193.2 70.1,209.1 70.1,183.4 70.2,193.3 70.2,200.2 70.3,180.7 70.3,198.7 70.4,194.4 70.5,214.6 70.6,191.4 70.6,197.0 70.6,217.8 70.7,182.0 70.8,184.1 70.8,205.5 70.9,193.2 70.9,208.4 71.0,203.5 71.0,193.5 71.1,185.6 71.1,208.6 71.2,185.5 71.3,204.1 71.3,186.3 71.4,201.3 71.5,186.1 71.5,179.7 71.6,201.6 71.6,178.5 71.7,177.0 71.7,206.5 71.8,184.3 71.8,201.0 71.9,190.5 72.0,202.9 72.0,213.1 72.1,202.4 72.1,178.8 72.1,201.9 72.2,188.5 72.3,202.4 72.4,201.8 72.4,187.9 72.5,184.0 72.5,195.7 72.6,181.0 72.6,203.9 72.7,191.5 72.8,213.2 72.9,194.7 72.9,202.0 72.9,192.1 73.0,221.3 73.0,189.7 73.1,202.3 73.2,219.5 73.2,186.6 73.3,204.9 73.3,193.7 73.4,207.5 73.4,191.2 73.5,209.2 73.6,196.7 73.6,200.1 73.7,229.2 73.8,202.8 73.8,220.9 73.9,208.6 73.9,215.4 74.0,231.2 74.0,213.4 74.1,230.1 74.2,216.8 74.2,236.9 74.2,204.4 74.3,242.3 74.3,213.5 74.4,224.4 74.4,237.9 74.5,229.8 74.6,221.3 74.6,241.0 74.7,223.9 74.8,231.3 74.8,246.9 74.9,239.2 75.0,252.1 75.0,231.1 75.0,259.1 75.1,252.1 75.1,276.4 75.2,248.2 75.2,270.1 75.3,254.5 75.4,260.6 75.5,272.2 75.5,298.9 75.6,277.7 75.7,292.3 75.7,299.4 75.8,290.8 75.8,295.8 75.8,309.0 75.9,309.0 76.0,309.0 76.1,309.0 76.3,309.0 76.4,309.0 76.5,309.0 76.6,306.3 76.6,309.0 76.7,298.9 76.7,299.8 76.8,283.4 76.9,300.4 76.9,275.9 77.0,286.2 77.0,267.2 77.1,275.7 77.2,260.8 77.2,282.5 77.2,254.5 77.3,276.3 77.4,255.3 77.4,261.3 77.5,270.9 77.6,245.7 77.6,263.9 77.7,252.5 77.7,234.7 77.8,256.8 77.8,241.0 77.9,265.5 77.9,233.4 78.0,252.5 78.1,239.5 78.1,231.9 78.2,247.9 78.2,235.8 78.3,247.7 78.3,242.7 78.4,236.1 78.5,240.1 78.5,226.8 78.6,240.2 78.6,226.8 78.7,231.2 78.7,256.3 78.8,258.1 78.9,238.7 78.9,233.0 79.0,255.3 79.0,262.0 79.1,230.9 79.1,242.4 79.2,259.6 79.3,241.8 79.3,231.0 79.4,252.8 79.4,235.0 79.5,237.0 79.6,247.8 79.6,236.2 79.6,263.6 79.7,244.6 79.8,268.7 79.8,256.9 79.9,269.3 80.0,242.9 80.0,272.8 80.1,278.6 80.1,252.1 80.2,266.1 80.3,278.6 80.3,278.6 80.4,257.8 80.4,263.0 80.5,278.6 80.5,263.6 80.6,278.6 80.6,278.6 80.7,278.4 80.8,278.6 80.9,278.6 81.0,278.6 81.1,278.6 81.2,278.6 81.3,278.6 81.4,278.4 81.4,278.6 81.5,277.2 81.6,274.8 81.6,264.8 81.7,278.6 81.7,256.3 81.9,269.7 81.9,243.7 81.9,252.5 82.0,267.1 82.1,258.5 82.1,243.2 82.1,223.4 82.2,236.4 82.3,230.2 82.3,252.9 82.4,228.1 82.5,244.6 82.5,234.9 82.6,218.4 82.6,214.2 82.6,228.9 82.7,232.4 82.8,201.4 82.8,226.9 82.9,212.9 82.9,228.4 83.0,205.3 83.1,220.1 83.1,201.8 83.2,198.1 83.3,212.7 83.3,211.5 83.4,199.7 83.4,211.0 83.4,192.3 83.6,200.6 83.6,184.5 83.6,188.1 83.7,213.0 83.8,211.1 83.8,185.0 83.9,201.4 84.0,194.3 84.0,199.6 84.0,185.2 84.1,187.6 84.2,205.3 84.2,185.0 84.3,213.8 84.4,198.2 84.4,181.4 84.5,192.4 84.5,208.7 84.6,191.5 84.6,171.2 84.7,179.6 84.8,204.0 84.8,176.0 84.9,204.3 84.9,186.5 85.0,189.6 85.0,184.3 85.1,171.2 85.1,172.4 85.2,186.7 85.3,198.1 85.3,169.2 85.4,173.1 85.4,180.6 85.5,185.0 85.5,173.3 85.7,172.1 85.7,181.9 85.7,174.8 85.8,189.1 85.9,193.7 85.9,170.7 86.0,175.8 86.0,195.6 86.1,195.0 86.1,168.1 86.2,186.4 86.2,167.8 86.3,184.3 86.4,195.5 86.5,201.0 86.5,172.2 86.5,199.4 86.5,178.1 86.7,189.4 86.7,176.5 86.8,170.2 86.8,197.7 86.9,173.1 87.0,203.4 87.0,175.1 87.1,199.5 87.1,201.8 87.2,175.8 87.3,198.4 87.3,184.6 87.3,183.7 87.4,208.5 87.4,208.1 87.5,183.3 87.6,196.6 87.6,181.9 87.7,211.6 87.8,184.6 87.8,205.6 87.9,181.9 87.9,190.0 88.0,205.4 88.0,190.8 88.1,205.2 88.2,188.8 88.2,205.7 88.2,193.2 88.3,216.9 88.4,226.2 88.4,206.6 88.5,220.0 88.5,207.2 88.6,220.6 88.7,208.1 88.7,229.8 88.8,212.0 88.8,224.1 88.9,206.2 89.0,217.9 89.0,224.8 89.1,222.3 89.1,231.8 89.2,212.8 89.3,229.5 89.3,220.2 89.4,243.7 89.4,239.4 89.5,221.9 89.5,221.0 89.5,248.5 89.6,247.2 89.7,234.1 89.8,236.8 89.8,253.2 89.9,248.0 89.9,235.4 90.0,257.4 90.1,243.7 90.1,260.1 90.2,240.7 90.2,259.8 90.3,242.5 90.3,272.3 90.4,256.5 90.4,277.5 90.5,253.9 90.6,251.8 90.6,273.3 90.7,269.9 90.7,258.7 90.8,275.8 90.8,262.8 90.9,253.6 90.9,273.7 91.0,255.1 91.0,274.4 91.2,243.5 91.2,261.7 91.2,267.8 91.3,241.1 91.4,244.2 91.4,266.3 91.5,238.1 91.5,260.4 91.6,246.6 91.7,257.1 91.7,263.5 91.7,234.9 91.9,251.2 91.9,238.7 92.0,239.5 92.0,263.7 92.1,239.9 92.1,228.8 92.2,246.7 92.3,240.7 92.3,230.3 92.3,263.5 92.5,233.5 92.5,249.4 92.5,232.8 92.6,248.3 92.7,243.3 92.7,229.6 92.7,233.3 92.8,247.2 92.9,226.5 92.9,236.0 93.0,230.8 93.0,247.5 93.1,232.5 93.1,228.4 93.2,250.5 93.3,224.6 93.4,243.3 93.4,225.5 93.5,244.9 93.5,222.3 93.6,222.8 93.6,258.2 93.7,224.9 93.8,254.5 93.8,253.7 93.9,236.4 93.9,260.9 94.0,247.1 94.1,253.2 94.1,236.6 94.2,246.4 94.2,270.3 94.3,245.8 94.3,254.1 94.4,239.4 94.4,250.2 94.5,254.2 94.5,277.4 94.6,261.7 94.6,279.3 94.7,271.0 94.8,262.7 94.9,275.6 94.9,291.4 94.9,283.7 95.0,290.8 95.1,287.2 95.1,301.9 95.2,299.5 95.2,302.2 95.3,302.2 95.4,302.2 95.5,302.2 95.6,302.2 95.7,302.2 95.8,294.9 95.9,302.2 95.9,285.2 96.0,299.1 96.1,277.2 96.1,276.1 96.1,267.7 96.3,260.4 96.3,270.2 96.3,266.8 96.4,255.7 96.4,236.6 96.5,253.7 96.6,241.6 96.6,260.7 96.7,252.9 96.7,225.2 96.8,228.9 96.8,222.0 96.9,240.9 96.9,225.2 97.1,224.2 97.1,234.2 97.1,237.3 97.2,215.0 97.3,225.9 97.3,209.9 97.4,216.5 97.4,207.3 97.5,222.8 97.5,212.3 97.6,217.0 97.6,200.6 97.7,224.2 97.8,207.0 97.8,197.0 97.9,212.5 98.0,213.5 98.0,187.9 98.1,191.1 98.1,201.2 98.2,191.3 98.2,216.6 98.3,183.9 98.3,202.7 98.5,191.4 98.5,208.8 98.5,194.9 98.6,179.7 98.7,190.8 98.7,184.5 98.8,173.7 98.8,203.2 98.9,189.1 98.9,203.9 99.0,184.2 99.0,189.5 99.1,202.9 99.2,185.9 99.2,184.4 99.3,171.7 99.3,208.3 99.4,169.7 99.4,169.4 99.5,179.9 99.5,211.2 99.6,187.0 99.7,191.4 99.7,174.7 99.8,198.4 99.8,171.6 99.9,195.6 100.0,174.0 100.0,184.6 100.1,177.8 100.2,170.1 100.2,194.4 100.2,179.7 100.3,195.6 100.4,178.1 100.4,202.5 100.5,193.8 100.6,177.5 100.6,199.0 100.7,177.9 100.7,175.4 100.8,180.2 100.9,193.3 100.9,173.0 100.9,198.2 101.0,174.4 101.1,175.3 101.1,191.5 101.2,173.6 101.2,189.0 101.3,171.5 101.3,203.2 101.4,202.5 101.5,174.8 101.5,193.1 101.6,175.8 101.6,175.5 101.7,189.5 101.7,194.0 101.8,183.6 101.9,218.1 101.9,200.2 102.0,190.3 102.0,211.8 102.1,189.3 102.1,202.5 102.2,211.5 102.3,193.1 102.3,211.4 102.3,203.9 102.5,201.8 102.5,195.0 102.5,196.5 102.6,210.6 102.7,221.4 102.7,199.5 102.8,198.7 102.9,203.7 102.9,224.0 102.9,205.4 103.0,196.0 103.1,216.5 103.1,195.7 103.2,216.2 103.2,206.8 103.3,227.9 103.4,208.7 103.4,231.2 103.5,218.1 103.5,229.8 103.6,220.7 103.7,233.9 103.8,221.4 103.8,245.9 103.8,233.2 103.9,251.9 104.0,250.0 104.0,233.1 104.0,246.1 104.1,260.7 104.2,243.9 104.2,261.2 104.3,272.3 104.4,248.0 104.4,261.0 104.4,274.1 104.5,264.1 104.6,285.1 104.6,267.9 104.7,300.3 104.7,279.7 104.8,300.3 104.9,300.3 105.0,300.3 105.1,300.3 105.2,300.3 105.3,300.3 105.4,300.3 105.5,300.3 105.6,290.1 105.7,300.3 105.7,282.6 105.8,269.2 105.9,300.3 105.9,276.0 106.0,267.9 106.1,254.8 106.1,287.3 106.1,268.6 106.2,248.0 106.2,252.5 106.3,272.4 106.4,246.0 106.4,271.4 106.5,256.0 106.6,249.4 106.6,250.7 106.6,239.5 106.7,253.8 106.8,238.6 106.8,255.3 106.9,230.2 107.0,254.9 107.0,221.9 107.0,250.8 107.1,240.4 107.2,229.5 107.2,245.4 107.3,238.2 107.4,214.5 107.4,231.0 107.5,235.4 107.5,224.0 107.6,235.7 107.6,214.7 107.7,244.0 107.7,224.6 107.8,237.5 107.8,220.8 107.9,214.2 108.0,233.3 108.1,211.2 108.1,232.7 108.1,207.4 108.3,213.4 108.3,233.2 108.4,221.8 108.4,210.7 108.4,240.5 108.5,221.7 108.5,218.7 108.6,210.7 108.7,212.5 108.7,220.3 108.8,234.3 108.9,210.9 108.9,217.3 109.0,222.7 109.0,232.9 109.1,225.2 109.1,210.2 109.1,227.3 109.3,229.8 109.3,214.7 109.3,230.2 109.4,211.6 109.5,217.2 109.5,230.4 109.6,210.5 109.6,232.9 109.7,229.8 109.8,222.6 109.8,211.9 109.9,218.9 109.9,232.0 110.0,214.1 110.0,239.2 110.1,215.0 110.2,206.2 110.2,238.2 110.3,228.5 110.3,247.1 110.4,215.8 110.5,228.7 110.5,243.1 110.5,210.9 110.7,230.3 110.7,210.7 110.8,213.2 110.8,233.8 110.9,243.7 110.9,206.1 111.0,227.6 111.0,209.6 111.1,238.6 111.2,215.0 111.2,208.4 111.3,238.5 111.3,201.6 111.3,210.2 111.5,221.2 111.5,208.3 111.5,210.0 111.6,217.3 111.7,215.8 111.7,202.0 111.8,221.3 111.9,209.0 111.9,204.5 111.9,223.5 112.0,225.9 112.1,199.7 112.1,215.5 112.2,196.7 112.2,200.8 112.3,215.6 112.3,191.8 112.4,208.9 112.5,189.7 112.5,206.5 112.6,189.4 112.6,219.5 112.7,188.1 112.8,211.6 112.8,198.8 112.9,215.7 113.0,181.8 113.0,204.9 113.1,197.0 113.1,212.4 113.2,214.2 113.2,193.3 113.3,206.0 113.4,197.1 113.4,208.8 113.5,189.9 113.5,179.2 113.6,205.1 113.6,192.2 113.7,197.1 113.7,218.7 113.8,182.4 113.8,185.0 113.9,206.4 114.0,193.6 114.0,204.4 114.1,198.3 114.2,186.6 114.2,175.8 114.3,194.4 114.4,174.8 114.4,206.1 114.5,184.8 114.5,195.5 114.5,174.5 114.6,194.0 114.7,183.8 114.7,202.3 114.8,199.5 114.9,181.8 114.9,175.8 114.9,195.9 115.0,175.1 115.1,197.0 115.1,202.3 115.2,175.1 115.2,198.5 115.3,175.9 115.3,193.4 115.4,175.8 115.5,195.9 115.5,178.3 115.6,193.1 115.6,174.6 115.7,169.1 115.7,190.3 115.8,195.5 115.9,180.4 115.9,186.0 116.0,176.1 116.0,174.6 116.1,205.6 116.2,177.4 116.2,202.7 116.3,194.7 116.3,175.7 116.4,208.7 116.5,179.1 116.5,197.1 116.6,192.3 116.6,186.3 116.7,216.4 116.8,183.9 116.8,200.0 116.9,212.1 116.9,192.1 117.0,212.7 117.0,187.1 117.1,184.3 117.2,212.5 117.2,193.2 117.2,208.4 117.3,192.7 117.4,209.5 117.4,194.6 117.5,213.5 117.5,219.9 117.6,202.6 117.6,219.3 117.7,203.4 117.8,213.4 117.9,225.4 117.9,206.9 117.9,219.1 118.0,233.3 118.1,209.8 118.2,222.3 118.2,238.7 118.3,238.0 118.3,215.7 118.3,250.8 118.4,220.4 118.5,230.6 118.5,248.7 118.6,235.9 118.7,240.2 118.7,260.9 118.7,235.7 118.8,245.5 118.8,264.6 118.9,244.2 118.9,269.7 119.0,251.0 119.1,269.4 119.2,281.7 119.2,265.9 119.3,263.7 119.3,281.7 119.4,279.7 119.5,268.8 119.5,281.7 119.5,278.8 119.6,272.4 119.6,281.7 119.7,281.7 119.8,276.3 119.8,281.7 119.9,270.0 120.0,281.7 120.0,276.5 120.1,281.7 120.1,266.2 120.2,275.5 120.3,251.6 120.4,256.6 120.4,272.4 120.4,249.7 120.5,276.2 120.5,247.2 120.6,267.6 120.7,250.1 120.7,265.9 120.8,245.6 120.8,260.1 120.9,252.1 121.0,236.6 121.1,245.5 121.1,234.6 121.1,249.5 121.2,230.0 121.3,239.8 121.3,258.3 121.4,248.3 121.4,225.2 121.5,242.5 121.5,230.5 121.6,236.1 121.7,233.0 121.7,253.6 121.8,227.6 121.8,239.7 121.8,220.8 121.9,225.3 122.0,238.1 122.0,221.6 122.1,244.3 122.1,253.7 122.2,227.9 122.3,232.2 122.3,250.8 122.4,228.3 122.5,246.3 122.5,240.1 122.6,243.3 122.6,246.3 122.7,232.8 122.7,238.6 122.8,260.9 122.8,227.3 122.9,249.9 123.0,253.3 123.0,239.2 123.1,255.5 123.1,235.7 123.2,240.4 123.3,263.1 123.4,254.4 123.4,267.3 123.4,244.5 123.5,263.8 123.6,254.3 123.6,268.6 123.7,259.8 123.7,272.9 123.8,263.5 123.8,277.2 123.9,275.8 124.0,294.1 124.0,294.6 124.1,285.9 124.1,286.1 124.2,313.0 124.3,304.8 124.3,325.8 124.3,314.8 124.4,302.1 124.5,326.4 124.5,326.2 124.6,326.4 124.6,311.2 124.7,326.4 124.7,295.9 124.9,314.4 124.9,295.9 124.9,302.9 124.9,291.3 125.0,267.4 125.1,283.5 125.1,268.6 125.2,283.4 125.3,260.5 125.3,286.4 125.4,266.4 125.4,252.1 125.5,256.5 125.6,243.1 125.6,250.5 125.7,232.1 125.7,247.6 125.8,228.6 125.9,249.1 125.9,231.3 126.0,226.0 126.0,231.3 126.1,242.2 126.2,227.2 126.2,219.5 126.3,234.3 126.3,204.9 126.4,240.8 126.4,200.1 126.5,222.7 126.5,221.2 126.6,210.2 126.6,196.9 126.7,218.0 126.8,214.0 126.8,193.5 126.9,213.0 127.0,198.2 127.0,231.2 127.1,195.8 127.1,191.7 127.1,206.2 127.2,191.0 127.3,207.5 127.3,204.5 127.4,196.1 127.4,200.8 127.5,193.6 127.6,184.3 127.7,200.8 127.7,190.8 127.7,218.3 127.8,201.5 127.9,187.2 127.9,180.5 127.9,195.6 128.1,182.3 128.1,194.3 128.2,184.6 128.2,202.9 128.3,184.7 128.3,200.4 128.4,181.0 128.4,202.7 128.5,177.0 128.5,200.9 128.6,194.8 128.7,179.0 128.7,192.4 128.8,173.4 128.9,198.4 128.9,180.4 129.0,190.2 129.0,174.4 129.1,206.8 129.2,171.4 129.2,174.8 129.2,188.2 129.3,175.6 129.4,193.9 129.4,173.3 129.5,196.2 129.5,182.0 129.6,190.4 129.7,178.4 129.7,191.3 129.8,169.8 129.8,191.1 129.9,180.6 130.0,195.5 130.0,200.5 130.0,183.4 130.2,178.8 130.2,188.7 130.2,181.5 130.3,207.5 130.4,179.6 130.4,204.9 130.4,193.3 130.5,186.4 130.6,181.8 130.6,190.7 130.7,174.9 130.7,193.9 130.8,176.7 130.9,197.1 130.9,203.3 131.0,185.8 131.1,194.7 131.1,176.4 131.2,183.1 131.2,201.8 131.3,197.6 131.3,179.9 131.4,208.4 131.4,195.5 131.5,198.4 131.6,184.4 131.6,180.9 131.6,216.4 131.7,181.2 131.8,203.8 131.8,189.5 131.9,178.7 131.9,202.5 132.0,178.2 132.1,207.0 132.1,185.6 132.2,188.4 132.2,213.0 132.3,206.5 132.4,200.6 132.4,193.6 132.5,205.2 132.6,199.4 132.6,222.6 132.7,211.0 132.7,192.5 132.8,215.2 132.8,189.7 132.9,223.3 133.0,195.2 133.0,186.2 133.0,207.5 133.1,203.7 133.2,201.5 133.2,208.1 133.2,198.5 133.4,195.3 133.4,228.6 133.5,203.3 133.5,208.7 133.6,202.5 133.6,196.8 133.7,217.7 133.7,205.8 133.8,196.5 133.9,220.3 133.9,197.8 133.9,229.9 134.1,229.7 134.1,200.4 134.1,217.3 134.2,203.6 134.3,208.7 134.3,230.1 134.4,224.9 134.4,193.1 134.5,214.3 134.6,198.5 134.6,220.6 134.7,198.2 134.8,190.1 134.8,208.0 134.9,201.2 134.9,212.5 135.0,214.2 135.0,192.5 135.1,197.2 135.1,231.1 135.2,196.7 135.2,215.9 135.3,229.3 135.4,211.8 135.4,217.9 135.4,192.2 135.5,211.3 135.6,198.2 135.6,193.6 135.7,210.3 135.8,215.7 135.8,195.4 135.9,213.0 136.0,196.7 136.0,207.5 136.1,223.8 136.1,214.1 136.2,197.6 136.2,216.7 136.3,199.2 136.4,199.3 136.4,217.9 136.5,201.6 136.5,218.7 136.6,197.5 136.6,223.2 136.7,210.1 136.7,217.3 136.8,223.0 136.9,199.1 136.9,199.8 137.0,215.8 137.0,205.3 137.1,226.7 137.2,235.5 137.2,214.5 137.3,211.1 137.3,234.4 137.4,214.5 137.5,231.3 137.5,219.5 137.6,233.9 137.6,210.6 137.6,244.0 137.7,239.3 137.7,225.9 137.9,230.6 137.9,234.7 137.9,261.4 138.0,226.5 138.1,249.1 138.1,231.4 138.2,243.7 138.2,261.3 138.3,258.1 138.4,270.7 138.4,250.4 138.5,272.4 138.6,257.4 138.6,272.2 138.6,253.9 138.7,272.4 138.7,272.4 138.9,272.4 138.9,264.2 139.0,272.4 139.1,272.4 139.2,271.9 139.2,272.4 139.3,272.4 139.4,250.9 139.5,272.4 139.5,253.6 139.6,266.8 139.6,251.1 139.7,260.7 139.8,238.6 139.8,254.3 139.8,237.4 139.9,248.7 140.0,221.7 140.0,216.8 140.1,255.3 140.1,229.2 140.2,221.9 140.3,238.8 140.3,217.5 140.4,222.5 140.4,205.1 140.5,214.8 140.5,196.4 140.6,197.9 140.7,223.7 140.7,210.7 140.8,203.4 140.9,208.6 140.9,201.7 141.0,212.6 141.0,191.8 141.1,215.3 141.1,196.8 141.2,185.3 141.3,204.4 141.3,207.0 141.4,189.7 141.4,195.0 141.5,206.4 141.5,200.0 141.6,186.8 141.7,185.8 141.7,213.3 141.8,183.9 141.8,200.3 141.9,189.0 141.9,194.6 142.0,192.7 142.1,200.5 142.1,195.2 142.2,180.3 142.3,201.9 142.3,181.0 142.3,173.5 142.4,187.0 142.5,210.0 142.5,183.7 142.6,172.2 142.6,194.5 142.7,204.1 142.7,183.9 142.8,183.6 142.8,200.2 142.9,196.0 142.9,174.1 143.0,206.1 143.1,182.1 143.1,204.1 143.2,179.1 143.3,170.0 143.3,190.8 143.4,173.4 143.4,198.7 143.5,205.1 143.6,191.1 143.6,189.4 143.6,181.7 143.7,201.6 143.8,171.8 143.8,184.5 143.9,202.4 144.0,211.7 144.0,182.9 144.1,180.9 144.1,191.7 144.2,192.0 144.2,177.8 144.3,179.4 144.3,197.4 144.4,171.9 144.5,198.3 144.5,201.9 144.6,182.1 144.6,180.7 144.7,194.1 144.7,186.4 144.8,194.2 144.9,185.3 144.9,198.3 145.0,192.0 145.1,171.2 145.1,182.8 145.2,228.9 145.2,182.0 145.2,198.8 145.3,174.8 145.4,200.2 145.5,178.0 145.5,193.8 145.6,185.5 145.6,172.1 145.7,188.0 145.8,176.7 145.8,173.8 145.9,198.7 145.9,178.9 146.0,191.7 146.0,179.9 146.0,193.4 146.2,212.9 146.2,187.6 146.3,177.3 146.3,196.7 146.4,173.0 146.4,198.3 146.5,182.9 146.6,198.3 146.6,174.0 146.6,201.1 146.8,180.4 146.8,203.4 146.8,176.3 146.8,198.9 146.9,206.7 147.0,181.9 147.1,182.5 147.1,205.2 147.2,191.0 147.3,208.7 147.3,213.8 147.4,185.4 147.4,190.8 147.5,230.4 147.5,216.3 147.6,208.2 147.6,228.4 147.7,204.3 147.8,211.8 147.8,230.2 147.9,230.5 147.9,238.3 148.0,216.1 148.1,236.0 148.1,228.9 148.2,249.6 148.2,234.5 148.2,266.6 148.3,250.5 148.4,291.4 148.4,269.2 148.5,305.1 148.5,308.1 148.6,311.5 148.7,311.5 148.8,311.5 148.9,302.1 148.9,285.1 149.0,262.8 149.1,270.2 149.1,256.4 149.2,239.3 149.2,231.8 149.3,234.6 149.3,215.1 149.4,242.7 149.4,208.8 149.5,208.5 149.6,194.9 149.6,190.6 149.6,211.5 149.7,191.9 149.8,216.1 149.8,206.3 149.9,188.1 150.0,199.6 150.0,173.5 150.0,185.3 150.1,176.1 150.2,180.2 150.2,162.7 150.3,163.7 150.3,177.4 150.5,166.5 150.5,152.2 150.5,160.7 150.6,149.7 150.7,144.9 150.7,168.5 150.8,141.8 150.8,159.5 150.9,153.7 150.9,139.9 151.0,160.1 151.1,139.4 151.1,164.7 151.2,139.5 151.2,159.2 151.3,140.8 151.3,166.8 151.4,133.9 151.5,137.3 151.5,140.7 151.6,135.8 151.6,152.7 151.7,134.5 151.7,128.7 151.8,156.2 151.8,139.6 151.9,132.0 152.0,156.5 152.0,153.0 152.0,125.4 152.2,117.8 152.2,130.3 152.3,121.1 152.3,141.4 152.4,126.8 152.4,134.2 152.5,143.6 152.5,123.0 152.6,132.4 152.7,115.3 152.7,139.3 152.8,119.8 152.8,121.7 152.9,146.5 153.0,144.7 153.0,122.0 153.0,132.5 153.1,111.6 153.2,141.9 153.2,122.2 153.3,131.4 153.3,114.5 153.4,115.0 153.4,126.1 153.5,121.5 153.5,131.5 153.6,109.7 153.7,131.6 153.8,138.1 153.8,115.0 153.9,107.9 153.9,126.6 154.0,128.8 154.0,127.1 154.1,133.2 154.2,126.6 154.2,111.2 154.3,125.5 154.3,133.8 154.3,115.4 154.4,112.4 154.5,128.7 154.6,112.5 154.6,164.6 154.7,115.0 154.7,127.4 154.8,112.0 154.8,126.9 154.9,114.8 155.0,123.2 155.0,131.7 155.1,118.1 155.1,109.8 155.2,132.8 155.2,137.1 155.3,123.1 155.4,128.3 155.4,148.0 155.5,121.4 155.6,147.1 155.6,136.1 155.7,120.1 155.7,133.1 155.8,147.9 155.8,139.4 155.9,129.9 155.9,128.7 156.0,116.2 156.1,123.9 156.1,108.6 156.2,133.9 156.2,118.2 156.3,116.8 156.4,142.0 156.4,106.2 156.5,127.7 156.5,113.6 156.6,143.8 156.6,130.8 156.7,113.8 156.7,136.3 156.8,116.9 156.9,109.9 156.9,131.1 157.0,112.1 157.0,133.5 157.1,107.9 157.2,132.1 157.2,106.4 157.2,140.5 157.3,132.9 157.4,106.4 157.5,119.8 157.5,133.8 157.5,112.1 157.6,120.0 157.7,126.5 157.7,105.9 157.8,110.4 157.9,146.3 157.9,111.5 157.9,133.7 158.0,114.0 158.1,126.7 158.2,108.9 158.2,133.4 158.2,127.6 158.3,110.6 158.4,127.7 158.4,134.3 158.5,109.9 158.6,126.1 158.6,114.0 158.7,130.9 158.7,132.5 158.8,110.2 158.8,145.3 158.9,117.9 158.9,127.6 159.0,112.5 159.0,108.4 159.1,125.9 159.2,133.7 159.2,116.7 159.3,129.1 159.3,115.2 159.4,114.1 159.5,135.0 159.5,114.2 159.6,118.7 159.6,124.7 159.7,136.5 159.8,118.7 159.8,129.8 159.9,142.5 159.9,126.0 160.0,136.1 160.0,121.7 160.1,131.6 160.2,117.0 160.3,142.4 160.3,114.3 160.3,133.0 160.3,115.0 160.5,117.2 160.5,128.6 160.6,128.6 160.6,119.3 160.7,116.2 160.7,149.6 160.8,120.5 160.9,140.3 160.9,123.2 160.9,124.2 161.1,118.7 161.1,132.4 161.2,116.5 161.2,132.0 161.2,119.0 161.3,131.0 161.3,134.5 161.4,114.7 161.5,139.1 161.5,121.8 161.6,112.9 161.6,135.3 161.7,120.2 161.7,138.3 161.8,135.8 161.9,125.4 161.9,144.2 162.0,122.0 162.1,127.1 162.1,118.6 162.2,154.5 162.2,115.9 162.3,114.8 162.3,131.0 162.4,141.0 162.4,112.7 162.5,130.7 162.5,113.7 162.6,131.3 162.6,121.9 162.7,139.4 162.8,115.5 162.8,140.4 162.9,116.5 163.0,146.8 163.0,118.1 163.1,131.8 163.1,149.4 163.2,126.6 163.3,141.0 163.3,130.0 163.3,135.7 163.5,126.3 163.5,136.9 163.6,113.0 163.6,139.3 163.7,130.1 163.7,123.0 163.8,120.7 163.9,142.1 163.9,136.1 163.9,125.1 164.0,141.5 164.1,121.0 164.1,135.6 164.2,118.6 164.2,132.8 164.3,116.2 164.4,123.4 164.4,146.6 164.5,141.4 164.5,112.2 164.6,116.6 164.7,127.6 164.7,120.5 164.8,143.8 164.9,134.5 164.9,122.4 164.9,126.8 165.0,141.9 165.1,121.4 165.1,138.1 165.2,136.2 165.2,123.8 165.3,129.1 165.4,148.5 165.4,134.2 165.5,124.6 165.5,154.4 165.6,120.5 165.6,138.4 165.7,124.4 165.8,121.5 165.8,141.1 165.9,142.6 165.9,117.7 166.0,146.0 166.0,122.9 166.1,131.2 166.1,140.9 166.2,121.9 166.3,130.5 166.3,139.9 166.4,133.6 166.4,143.9 166.5,127.4 166.6,143.8 166.6,114.2 166.6,130.9 166.7,117.1 166.8,130.4 166.9,121.5 166.9,126.3 167.0,138.8 167.0,138.4 167.1,124.6 167.1,124.3 167.2,136.5 167.2,136.9 167.3,118.2 167.4,134.3 167.4,121.0 167.5,152.5 167.5,125.3 167.6,139.7 167.7,111.4 167.7,148.1 167.8,118.3 167.9,141.1 167.9,120.2 167.9,126.0 168.0,147.0 168.1,115.5 168.1,137.3 168.1,126.1 168.2,122.0 168.3,128.1 168.4,135.3 168.4,121.6 168.4,137.7 168.6,140.0 168.6,116.0 168.6,137.7 168.7,121.9 168.7,116.7 168.8,136.5 168.8,137.9 168.9,120.0 169.0,123.2 169.0,113.2 169.1,119.6 169.2,154.9 169.2,118.9 169.3,148.0 169.3,116.6 169.3,134.6 169.4,118.5 169.5,156.0 169.6,140.5 169.6,115.2 169.6,137.1 169.7,141.4 169.8,116.4 169.8,135.8 169.9,140.2 169.9,120.8 170.0,119.9 170.1,132.1 170.1,139.3 170.2,122.9 170.3,143.8 170.3,116.0 170.4,144.6 170.4,122.1 170.5,149.2 170.5,120.6 170.6,154.3 170.7,117.8 170.7,146.9 170.8,122.2 170.8,114.8 170.9,147.3 171.0,115.5 171.0,124.9 171.1,135.5 171.1,113.5 171.2,152.7 171.2,132.9 171.3,110.0 171.3,119.3 171.4,114.3 171.5,132.9 171.5,119.0 171.6,143.3 171.6,145.9 171.6,116.3 171.7,119.4 171.8,122.2 171.9,121.9 171.9,136.0 172.0,135.3 172.0,117.5 172.1,116.5 172.1,134.3 172.2,116.0 172.3,149.1 172.4,117.7 172.4,146.4 172.4,137.4 172.4,118.5 172.6,139.0 172.6,109.8 172.6,121.8 172.7,138.1 172.8,147.4 172.8,119.6 172.9,116.2 173.0,133.5 173.0,151.1 173.0,124.6 173.1,118.2 173.2,133.2 173.2,115.2 173.3,141.2 173.3,124.8 173.4,137.0 173.5,108.3 173.5,147.6 173.6,118.4 173.7,142.4 173.7,145.8 173.8,110.5 173.8,139.9 173.9,111.0 173.9,110.6 174.0,132.2 174.1,112.0 174.1,123.6 174.1,140.9 174.2,126.3 174.3,136.5 174.3,113.0 174.4,127.0 174.5,143.0 174.5,127.8 174.6,122.6 174.7,111.1 174.7,144.0 174.8,135.6 174.8,120.2 174.8,108.7 174.9,122.9 175.0,134.5 175.0,114.6 175.1,117.2 175.2,137.4 175.2,137.2 175.2,121.1 175.3,128.2 175.3,148.2 175.5,113.5 175.5,133.5 175.5,115.9 175.6,130.8 175.6,121.7 175.7,135.3 175.8,144.1 175.8,117.0 175.9,134.4 175.9,114.3 176.0,135.8 176.1,115.3 176.2,140.2 176.2,119.1 176.2,122.1 176.3,151.2 176.3,133.2 176.4,121.5 176.5,157.7 176.5,122.0 176.6,137.8 176.7,116.8 176.7,122.9 176.7,141.0 176.8,116.0 176.9,130.8 176.9,117.6 177.0,123.3 177.1,121.0 177.1,134.3 177.2,137.6 177.2,118.7 177.3,150.0 177.3,121.1 177.4,148.7 177.5,118.0 177.5,119.4 177.5,140.2 177.6,123.3 177.6,135.3 177.8,134.1 177.8,120.5 177.9,115.4 177.9,130.7 178.0,127.4 178.0,143.3 178.1,138.6 178.2,116.5 178.2,119.1 178.3,127.6 178.3,127.5 178.4,142.9 178.4,123.4 178.5,152.7 178.6,150.3 178.6,120.6 178.7,149.0 178.7,125.1 178.8,137.7 178.8,115.9 178.9,121.2 178.9,154.7 179.0,124.2 179.1,133.9 179.1,138.2 179.1,119.3 179.2,119.7 179.3,141.0 179.3,136.7 179.4,123.4 179.4,146.9 179.5,113.6 179.6,144.2 179.6,122.0 179.7,130.1 179.8,140.2 179.9,122.5 179.9,130.2 179.9,131.0 179.9,120.3 180.0,154.8 180.1,120.5 180.1,134.2 180.2,122.2 180.3,119.1 180.3,145.7 180.4,154.5 180.5,126.6 180.5,120.0 180.5,138.7 180.6,130.5 180.7,115.8 180.7,140.4 180.7,130.5 180.8,145.4 180.9,122.6 180.9,118.2 181.0,136.8 181.1,116.7 181.1,137.2 181.2,119.3 181.3,137.1 181.4,145.8 181.4,124.2 181.4,145.6 181.5,120.8 181.6,123.3 181.6,112.0 181.6,125.9 181.7,141.1 181.8,114.0 181.8,136.1 181.9,118.5 182.0,138.3 182.0,118.2 182.1,132.4 182.2,119.8 182.2,147.8 182.3,119.0 182.3,148.3 182.4,115.4 182.4,139.1 182.4,152.5 182.5,122.9 182.6,130.4 182.6,139.1 182.7,137.5 182.8,121.1 182.8,137.1 182.9,114.7 182.9,133.9 183.0,122.1 183.1,126.0 183.1,143.3 183.1,137.1 183.2,142.4 183.3,127.3 183.3,118.3 183.4,121.3 183.5,135.0 183.5,139.6 183.5,123.1 183.6,127.6 183.7,111.9 183.7,119.4 183.8,143.4 183.8,144.8 183.9,115.9 184.0,126.9 184.0,144.7 184.1,127.7 184.1,117.7 184.2,142.5 184.3,122.7 184.3,120.3 184.4,140.2 184.4,146.0 184.5,126.0 184.5,119.7 184.6,145.2 184.7,144.8 184.7,117.1 184.8,120.9 184.8,147.3 184.9,146.3 184.9,122.8 185.0,126.3 185.0,138.0 185.1,119.9 185.2,141.6 185.2,138.4 185.2,122.5 185.3,144.8 185.4,117.1 185.4,121.1 185.5,138.6 185.6,138.9 185.6,117.7 185.7,113.4 185.7,143.1 185.8,129.3 185.8,143.8 186.0,122.8 186.0,146.3 186.0,126.3 186.0,149.7 186.1,127.8 186.2,139.0 186.3,117.5 186.3,150.2 186.4,141.2 186.5,149.5 186.5,125.0 186.5,152.1 186.6,118.7 186.7,149.7 186.7,121.8 186.8,144.0 186.9,136.6 186.9,122.0 187.0,119.8 187.0,137.4 187.1,141.7 187.1,119.8 187.2,123.2 187.2,138.9 187.3,114.7 187.3,145.4 187.5,146.8 187.5,121.2 187.5,154.1 187.6,117.1 187.7,116.8 187.7,145.3 187.7,119.4 187.8,151.5 187.9,119.2 187.9,150.8 188.0,131.9 188.0,125.2 188.2,146.3 188.2,124.6 188.3,129.4 188.3,145.0 188.3,127.3 188.4,144.5 188.4,121.5 188.5,159.9 188.6,133.3 188.6,152.7 188.7,131.5 188.7,124.8 188.8,121.1 188.8,140.8 188.9,189.4 189.0,127.0 189.1,115.4 189.1,145.3 189.2,116.7 189.2,124.6 189.2,116.3 189.3,157.1 189.4,146.6 189.4,127.2 189.5,139.5 189.6,120.2 189.6,121.0 189.6,159.7 189.7,151.2 189.7,121.1 189.9,128.0 189.9,138.9 190.0,153.3 190.0,123.4 190.1,137.5 190.1,127.4 190.2,142.7 190.2,127.4 190.3,140.0 190.4,116.9 190.5,140.6 190.5,118.9 190.5,116.8 190.6,152.8 190.7,132.7 190.7,118.6 190.8,132.3 190.8,118.4 190.9,145.6 190.9,120.7 191.0,132.3 191.0,127.4 191.2,126.6 191.2,147.9 191.2,118.8 191.3,131.1 191.3,139.5 191.4,124.3 191.5,125.3 191.5,140.5 191.6,120.9 191.6,140.1 191.7,122.0 191.7,146.1 191.8,138.9 191.9,130.1 191.9,121.7 192.0,144.3 192.0,136.6 192.0,121.4 192.2,132.2 192.2,117.5 192.2,144.2 192.3,123.7 192.4,120.8 192.4,147.3 192.5,121.4 192.6,136.7 192.6,143.4 192.6,127.9 192.7,139.2 192.8,127.2 192.9,120.4 192.9,132.5 193.0,127.7 193.0,119.1 193.1,131.1 193.1,120.6 193.2,146.1 193.2,125.5 193.3,123.6 193.3,142.4 193.4,137.3 193.5,121.3 193.5,133.1 193.6,119.7 193.6,135.2 193.7,146.6 193.8,142.4 193.8,112.0 193.9,134.9 193.9,122.5 194.0,130.7 194.0,121.4 194.1,120.8 194.1,141.5 194.2,131.5 194.3,154.2 194.3,144.4 194.4,130.7 194.5,136.5 194.5,123.7 194.6,124.4 194.6,143.0 194.7,127.0 194.7,132.6 194.8,116.5 194.8,135.4 194.9,139.6 195.0,126.9 195.1,137.1 195.1,122.0 195.2,113.2 195.2,133.3 195.2,132.1 195.3,139.4 195.4,134.7 195.4,127.6 195.5,146.3 195.6,126.2 195.6,150.1 195.7,128.2 195.7,133.6 195.8,143.2 195.8,174.5 195.9,130.5 196.0,150.7 196.0,117.2 196.1,123.0 196.1,151.7 196.2,142.2 196.3,123.5 196.3,124.7 196.3,156.1 196.5,130.9 196.5,147.0 196.5,128.3 196.6,145.9 196.7,117.8 196.7,150.8 196.7,139.0 196.8,127.1 196.9,151.6 196.9,119.5 197.0,129.9 197.0,155.3 197.1,129.2 197.2,145.3 197.2,131.8 197.3,120.2 197.3,126.2 197.4,151.5 197.4,140.9 197.5,114.9 197.5,131.4 197.6,122.3 197.7,136.8 197.8,122.7 197.8,127.0 197.8,147.2 197.9,118.2 197.9,157.1 198.0,135.5 198.1,145.5 198.2,128.5 198.2,116.9 198.3,127.3 198.3,146.5 198.4,117.4 198.4,144.1 198.5,121.3 198.6,146.7 198.6,141.2 198.7,131.8 198.7,124.4 198.8,142.5 198.8,133.6 198.9,143.3 199.0,131.3 199.0,123.4 199.0,156.6 199.1,116.4 199.2,114.0 199.2,127.8 199.3,125.5 199.3,152.2 199.4,142.3 199.5,126.9 199.5,115.3 199.5,150.5 199.7,136.1 199.7,118.6 199.7,131.1 199.8,138.9 199.9,150.6 199.9,116.8 200.0,114.8 200.0,135.8 200.1,125.1 200.1,136.2 200.2,111.1 200.3,133.3 200.3,116.1 200.4,129.6 200.5,136.5 200.5,115.5 200.6,121.6 200.6,113.4 200.7,143.2 200.7,115.6 200.8,130.9 200.8,120.2 200.9,120.1 201.0,130.5 201.1,133.2 201.1,118.3 201.1,111.6 201.2,145.6 201.2,143.5 201.3,115.7 201.4,140.2 201.4,117.1 201.5,126.2 201.5,112.4 201.6,129.3 201.6,109.3 201.7,109.6 201.8,134.8 201.8,138.6 201.8,118.5 202.0,112.1 202.0,141.9 202.1,130.1 202.1,120.0 202.2,130.3 202.2,117.9 202.3,133.8 202.3,121.0 202.4,107.2 202.4,140.8 202.5,132.8 202.6,125.4 202.7,137.8 202.7,123.6 202.8,119.1 202.8,128.7 202.9,133.7 202.9,117.6 203.0,133.1 203.1,120.3 203.1,113.7 203.2,127.0 203.3,127.1 203.3,143.1 203.3,116.1 203.4,134.5 203.4,119.9 203.5,144.5 203.6,134.2 203.6,115.8 203.7,142.7 203.7,118.2 203.8,141.9 203.8,116.9 203.9,116.9 203.9,145.8 204.0,135.6 204.1,119.0 204.2,153.9 204.2,115.5 204.3,133.8 204.3,119.5 204.4,137.4 204.4,119.8 204.5,115.5 204.6,140.0 204.6,115.0 204.7,135.9 204.8,154.2 204.8,123.6 204.9,146.6 204.9,132.1 204.9,124.3 205.0,140.4 205.0,138.9 205.1,114.4 205.2,134.2 205.2,154.8 205.3,139.7 205.3,131.8 205.4,137.5 205.4,120.9 205.5,115.3 205.6,152.0 205.6,137.3 205.6,127.1 205.8,126.9 205.8,147.8 205.9,124.2 205.9,149.7 206.0,120.2 206.0,134.4 206.1,118.4 206.1,134.9 206.2,115.9 206.2,142.2 206.4,147.8 206.4,137.2 206.5,124.7 206.5,160.4 206.6,124.0 206.6,149.5 206.7,125.7 206.7,148.0 206.8,119.3 206.8,139.3 206.9,120.0 206.9,143.3 207.1,157.1 207.1,124.0 207.2,125.1 207.2,138.5 207.3,125.8 207.3,141.2 207.4,122.6 207.4,138.9 207.5,128.0 207.5,134.6 207.6,120.3 207.7,144.4 207.7,116.1 207.8,142.2 207.8,132.9 207.9,149.7 208.0,116.6 208.0,139.3 208.0,158.1 208.1,132.9 208.2,118.0 208.2,174.6 208.3,117.8 208.3,141.5 208.4,122.2 208.5,151.3 208.5,138.8 208.5,126.7 208.6,116.7 208.7,144.3 208.7,147.0 208.8,124.7 208.8,132.3 208.9,122.6 209.0,115.2 209.0,138.0 209.1,135.7 209.2,122.8 209.2,142.7 209.3,135.1 209.3,142.4 209.4,116.8 209.5,130.7 209.5,140.3 209.6,120.5 209.6,141.1 209.7,124.1 209.7,147.3 209.8,131.9 209.8,139.3 209.9,121.6 209.9,135.4 210.0,137.5 210.1,128.8 210.1,137.5 210.2,123.3 210.2,146.4 210.3,127.9 210.3,117.1 210.4,140.3 210.5,142.0 210.5,122.2 210.6,117.6 210.7,142.3 210.7,117.2 210.8,149.5 210.8,146.5 210.9,117.2 210.9,118.1 211.0,138.7 211.1,125.8 211.1,150.4 211.2,141.8 211.2,115.2 211.3,119.9 211.3,135.8 211.4,116.8 211.4,133.7 211.5,119.1 211.5,141.7 211.6,143.4 211.7,120.3 211.8,145.3 211.8,120.6 211.8,115.1 211.9,134.9 212.0,117.5 212.0,125.0 212.1,115.2 212.2,143.1 212.2,128.6 212.2,114.9 212.4,141.3 212.4,132.5 212.4,118.4 212.5,145.7 212.5,127.6 212.6,142.8 212.7,145.9 212.7,116.5 212.8,118.2 212.8,144.3 212.9,142.0 212.9,114.2 213.0,135.1 213.1,119.3 213.1,124.9 213.1,131.5 213.3,135.4 213.3,113.6 213.4,132.6 213.4,114.2 213.5,118.8 213.5,149.2 213.6,107.7 213.6,137.0 213.7,113.0 213.8,134.9 213.8,141.6 213.9,113.6 213.9,150.4 214.0,120.6 214.1,110.4 214.1,133.9 214.2,110.5 214.2,131.7 214.3,136.3 214.3,108.1 214.4,111.9 214.5,137.0 214.5,127.0 214.6,123.3 214.7,125.1 214.7,113.8 214.7,108.8 214.8,120.3 214.8,134.6 214.9,107.4 215.0,103.7 215.0,130.6 215.1,144.5 215.2,125.7 215.2,118.6 215.2,136.3 215.3,130.5 215.4,109.8 215.4,108.7 215.5,122.6 215.5,134.0 215.6,112.1 215.7,139.8 215.7,109.5 215.8,135.4 215.8,118.6 215.9,114.4 215.9,127.8 216.0,142.2 216.0,116.4 216.1,114.0 216.2,133.7 216.2,132.7 216.3,108.7 216.4,134.0 216.4,124.0 216.5,107.9 216.5,127.0 216.6,130.5 216.6,117.1 216.7,132.1 216.8,138.1 216.8,107.0 216.8,129.7 216.9,101.5 217.0,139.0 217.0,109.5 217.1,122.7 217.1,108.4 217.2,127.4 217.3,106.2 217.4,122.9 217.4,113.5 217.5,135.9 217.5,117.4 217.6,139.5 217.6,121.5 217.7,107.6 217.8,131.9 217.8,114.9 217.9,127.6 217.9,115.5 218.0,141.1 218.0,107.3 218.1,110.9 218.1,139.1 218.2,111.7 218.2,132.1 218.3,121.7 218.4,105.1 218.4,113.2 218.4,131.1 218.5,111.4 218.6,136.5 218.7,108.5 218.7,128.5 218.8,133.6 218.8,115.3 218.9,115.9 219.0,132.2 219.0,131.3 219.1,112.6 219.1,114.8 219.2,147.8 219.2,138.7 219.3,116.9 219.3,123.6 219.4,144.1 219.5,131.2 219.5,123.6 219.6,137.1 219.7,116.5 219.7,120.9 219.8,131.9 219.8,116.4 219.9,143.3 219.9,113.9 219.9,130.4 220.1,124.4 220.1,111.2 220.2,130.2 220.2,141.5 220.3,130.5 220.3,122.4 220.4,113.6 220.5,121.1 220.5,139.3 220.6,119.7 220.6,115.4 220.7,143.2 220.7,108.5 220.8,128.0 220.9,115.5 220.9,136.9 221.0,112.5 221.0,132.6 221.1,113.0 221.1,135.0 221.2,137.3 221.3,124.9 221.3,135.1 221.4,120.8 221.4,126.7 221.5,134.4 221.5,131.2 221.6,115.9 221.7,110.6 221.7,123.4 221.8,120.9 221.8,132.7 221.9,132.2 222.0,112.0 222.0,150.6 222.1,108.8 222.1,120.4 222.2,130.8 222.2,143.8 222.3,116.1 222.3,138.4 222.4,110.1 222.5,112.6 222.5,136.4 222.6,113.2 222.6,140.1 222.7,148.8 222.8,117.1 222.9,115.2 222.9,138.0 222.9,124.8 223.0,136.3 223.0,132.0 223.1,119.8 223.1,137.0 223.2,117.8 223.3,142.0 223.3,126.7 223.4,111.7 223.4,136.2 223.5,117.8 223.5,139.4 223.6,120.0 223.7,134.5 223.7,119.8 223.8,142.1 223.8,136.3 223.9,112.7 224.0,115.4 224.0,134.3 224.1,115.9 224.2,137.2 224.2,114.0 224.3,136.5 224.3,113.6 224.4,128.5 224.4,116.8 224.5,151.1 224.6,139.6 224.6,112.0 224.6,121.2 224.7,131.6 224.8,116.3 224.8,124.3 224.9,118.4 224.9,141.5 225.0,138.5 225.1,110.9 225.1,119.9 225.2,133.1 225.2,142.2 225.3,124.2 225.3,137.1 225.4,121.6 225.5,116.5 225.5,125.0 225.6,143.8 225.7,114.7 225.7,133.0 225.7,113.2 225.8,127.4 225.9,148.7 226.0,143.6 226.0,113.6 226.0,112.4 226.1,147.5 226.2,115.8 226.2,149.7 226.3,124.5 226.3,113.2 226.4,116.9 226.4,134.3 226.5,128.5 226.5,151.2 226.7,126.8 226.7,139.4 226.7,133.0 226.8,121.7 226.8,138.0 226.9,123.0 227.0,114.3 227.0,132.0 227.1,113.8 227.1,134.3 227.2,118.4 227.3,139.9 227.3,123.4 227.4,132.3 227.4,131.9 227.5,139.6 227.5,124.0 227.6,137.5 227.6,132.8 227.7,114.5 227.8,133.1 227.8,121.1 227.9,115.2 227.9,144.6 228.0,116.3 228.0,145.2 228.1,120.4 228.2,116.0 228.3,119.5 228.3,134.5 228.4,149.4 228.4,121.2 228.5,112.9 228.5,145.6 228.6,135.4 228.6,127.0 228.7,131.8 228.8,172.4 228.8,139.3 228.9,117.4 228.9,152.0 229.0,113.2 229.0,123.0 229.1,107.6 229.2,121.7 229.2,132.5 229.3,145.0 229.3,118.8 229.4,132.4 229.4,121.8 229.5,137.7 229.6,124.4 229.7,138.0 229.7,119.9 229.7,111.5 229.7,134.8 229.8,138.7 229.9,126.6 230.0,142.4 230.0,124.4 230.1,120.0 230.1,134.2 230.2,119.9 230.2,130.0 230.3,140.8 230.4,116.6 230.4,118.4 230.4,155.7 230.6,112.3 230.6,137.8 230.7,119.8 230.7,140.7 230.8,127.5 230.8,114.8 230.9,118.9 231.0,132.2 231.0,140.3 231.1,110.2 231.1,118.1 231.1,124.6 231.2,108.3 231.3,124.7 231.3,134.6 231.4,115.3 231.5,117.8 231.5,133.5 231.6,131.1 231.6,125.8 231.7,120.4 231.7,132.3 231.8,136.8 231.8,118.5 231.9,135.5 232.0,119.9 232.0,151.2 232.1,116.4 232.2,132.0 232.2,113.3 232.3,126.7 232.3,119.4 232.4,122.6 232.5,140.8 232.5,116.4 232.6,135.0 232.6,120.1 232.7,142.6 232.7,115.8 232.8,130.9 232.8,122.4 232.9,120.2 232.9,117.7 233.0,133.6 233.1,115.8 233.1,143.2 233.2,146.5 233.2,130.0 233.3,127.4 233.3,119.8 233.4,149.3 233.5,121.9 233.6,113.8 233.6,148.5 233.6,137.0 233.7,123.3 233.8,121.6 233.8,149.0 233.9,118.2 234.0,137.0 234.0,119.2 234.1,130.4 234.1,131.0 234.2,116.5 234.2,142.1 234.3,125.1 234.4,118.7 234.4,126.5 234.5,130.5 234.5,115.6 234.6,145.4 234.6,118.7 234.7,155.6 234.8,129.8 234.8,120.4 234.9,136.6 234.9,151.2 234.9,119.5 235.0,122.8 235.1,138.7 235.1,134.9 235.2,124.1 235.3,126.2 235.3,117.8 235.4,129.8 235.4,151.1 235.5,144.2 235.6,113.8 235.6,135.6 235.7,126.6 235.7,133.9 235.7,120.2 235.9,136.4 235.9,117.2 235.9,117.5 236.0,136.7 236.1,124.3 236.1,134.7 236.2,137.9 236.3,127.0 236.3,136.6 236.3,118.0 236.4,141.6 236.4,121.8 236.5,120.5 236.5,140.9 236.7,139.0 236.7,117.4 236.7,129.6 236.8,122.4 236.9,114.1 236.9,143.2 237.0,115.8 237.0,126.8 237.1,142.2 237.1,124.0 237.2,136.3 237.2,124.0 237.3,127.9 237.4,146.2 237.5,131.2 237.5,114.6 237.6,121.6 237.6,143.8 237.7,142.6 237.7,117.3 237.8,150.3 237.9,127.9 238.0,121.3 238.0,140.1 238.0,114.9 238.0,147.2 238.1,122.9 238.2,138.5 238.2,121.5 238.3,146.4 238.4,150.1 238.5,129.7 238.5,132.6 238.5,144.3 238.6,138.6 238.6,126.2 238.8,125.9 238.8,117.0 238.9,142.9 238.9,122.8 238.9,127.9 239.0,153.0 239.1,140.6 239.1,116.1 239.2,140.1 239.3,124.5 239.3,142.5 239.3,119.5 239.4,118.1 239.5,149.5 239.5,121.9 239.5,141.1 239.6,118.2 239.7,135.3 239.7,129.0 239.8,116.0 239.9,146.7 239.9,112.2 240.0,115.4 240.1,135.6 240.1,146.1 240.2,128.6 240.3,150.0 240.3,123.6 240.3,132.0 240.4,118.4 240.5,115.4 240.5,151.4 240.6,116.2 240.6,143.0 240.7,117.8 240.7,141.5 240.8,140.6 240.9,120.8 241.0,138.2 241.0,115.9 241.0,127.3 241.1,138.7 241.1,138.8 241.2,115.7 241.2,142.6 241.3,119.2 241.4,132.9 241.4,122.5 241.5,152.6 241.5,113.9 241.6,131.7 241.6,123.2 241.7,133.8 241.8,145.3 241.9,119.9 241.9,143.4 242.0,131.4 242.0,114.1 242.1,124.8 242.1,153.8 242.2,116.3 242.2,127.7 242.3,118.4 242.4,140.5 242.4,111.0 242.4,125.5 242.5,138.0 242.6,118.6 242.6,146.9 242.7,118.6 242.7,128.0 242.8,125.9 242.9,138.0 242.9,117.7 243.0,144.4 243.0,110.7 243.1,141.6 243.2,115.7 243.2,114.5 243.3,149.0 243.4,136.7 243.4,116.4 243.4,135.0 243.5,112.2 243.6,119.6 243.6,126.5 243.7,111.9 243.7,134.4 243.8,115.3 243.9,124.6 243.9,144.4 244.0,115.2 244.0,121.7 244.1,152.5 244.1,128.8 244.2,113.4 244.3,108.8 244.3,140.0 244.4,126.8 244.4,114.2 244.5,134.7 244.6,106.1 244.6,124.1 244.6,151.2 244.7,116.0 244.8,137.7 244.8,130.9 244.9,111.0 244.9,138.7 245.0,114.1 245.1,112.5 245.1,130.5 245.2,107.9 245.3,126.6 245.3,123.8 245.3,147.8 245.4,127.3 245.5,123.1 245.5,106.7 245.6,123.3 245.7,110.5 245.7,140.6 245.8,143.2 245.8,125.9 245.9,135.0 245.9,124.1 246.0,129.2 246.1,120.4 246.1,119.7 246.2,128.1 246.3,136.0 246.3,121.8 246.3,135.8 246.4,118.8 246.5,107.5 246.5,131.9 246.6,117.4 246.6,135.8 246.7,120.8 246.7,132.7 246.8,142.1 246.8,132.9 246.9,140.0 247.0,118.1 247.0,148.9 247.1,117.6 247.1,117.2 247.2,140.9 247.3,139.5 247.3,115.8 247.4,121.7 247.4,139.5 247.5,127.0 247.6,113.9 247.6,113.6 247.7,136.3 247.7,130.5 247.8,142.2 247.8,144.9 247.9,122.6 248.0,121.1 248.0,142.8 248.1,118.4 248.1,153.2 248.2,136.9 248.3,116.4 248.3,119.4 248.3,129.9 248.4,153.0 248.5,119.5 248.5,142.2 248.6,114.6 248.7,113.4 248.7,143.6 248.7,138.4 248.8,120.5 248.9,138.7 248.9,114.8 249.0,119.1 249.0,134.4 249.1,120.9 249.1,142.2 249.2,122.3 249.3,149.3 249.3,158.0 249.4,117.4 249.5,149.1 249.5,123.5 249.5,140.0 249.6,145.9 249.7,139.4 249.7,118.5 249.8,134.5 249.8,156.1 249.9,136.0 250.0,119.0 250.0,142.4 250.1,126.0 250.1,131.6 250.2,144.8 250.2,123.4 250.3,137.7 250.4,123.8 250.4,129.1 250.5,114.8 250.5,139.4 250.6,129.1 250.6,114.7 250.7,143.0 250.8,128.6 250.9,115.7 250.9,141.6 250.9,125.8 251.0,146.4 251.0,132.1 251.1,112.2 251.2,137.0 251.2,118.0 251.3,123.1 251.3,133.0 251.4,136.2 251.4,125.1 251.5,115.8 251.6,131.0 251.6,118.6 251.7,128.9 251.8,128.4 251.8,142.6 251.9,119.0 251.9,138.6 252.0,116.9 252.1,137.9 252.1,124.5 252.2,159.1 252.2,141.9 252.2,131.5 252.3,122.1 252.4,132.4 252.5,135.3 252.5,121.5 252.5,145.9 252.6,120.5 252.7,117.4 252.7,134.2 252.8,116.8 252.8,136.7 252.9,128.7 253.0,138.9 253.1,151.8 253.1,124.2 253.1,114.9 253.2,131.1 253.2,132.6 253.3,120.3 253.4,122.4 253.4,135.2 253.5,148.7 253.6,132.9 253.6,145.0 253.6,131.0 253.7,147.2 253.8,121.0 253.9,145.4 253.9,121.0 253.9,119.9 254.0,143.3 254.0,112.5 254.1,128.5 254.2,118.9 254.2,137.5 254.3,136.6 254.3,118.2 254.4,120.3 254.4,139.6 254.5,162.7 254.6,139.4 254.6,142.5 254.7,114.3 254.7,126.1 254.8,132.4 254.9,129.8 254.9,114.0 255.0,113.5 255.0,132.3 255.1,145.5 255.1,124.8 255.2,117.6 255.3,143.8 255.3,122.5 255.3,135.0 255.4,134.8 255.5,115.6 255.5,145.5 255.6,128.7 255.7,142.6 255.7,112.0 255.8,117.8 255.8,139.6 255.9,127.7 256.0,140.2 256.0,118.8 256.1,141.0 256.1,119.0 256.1,143.1 256.2,135.5 256.3,119.2 256.4,118.5 256.4,147.2 256.5,117.2 256.6,140.8 256.6,149.9 256.7,121.8 256.7,120.0 256.8,146.1 256.8,119.8 256.8,116.9 257.0,144.1 257.0,133.2 257.1,152.2 257.1,125.0 257.2,132.1 257.2,118.5 257.3,141.6 257.4,122.2 257.4,150.1 257.4,123.1 257.5,125.2 257.5,146.3 257.6,138.6 257.7,121.3 257.8,121.0 257.8,138.7 257.9,137.4 257.9,116.8 258.0,119.4 258.1,141.5 258.1,148.3 258.2,120.6 258.2,124.6 258.3,153.1 258.3,120.1 258.3,144.3 258.4,133.1 258.5,153.6 258.5,116.5 258.6,148.9 258.7,139.7 258.7,116.8 258.8,151.3 258.9,114.6 258.9,112.1 258.9,140.6 259.0,119.3 259.0,152.1 259.1,116.6 259.1,145.1 259.3,140.7 259.3,126.8 259.3,126.8 259.4,134.9 259.5,148.3 259.5,120.8 259.6,152.8 259.6,118.8 259.7,134.9 259.8,119.5 259.8,121.9 259.9,136.7 259.9,125.2 260.0,147.4 260.0,141.4 260.1,124.8 260.2,124.5 260.2,137.2 260.3,140.5 260.3,119.1 260.4,119.1 260.5,132.4 260.5,127.3 260.5,144.0 260.6,136.7 260.6,119.2 260.8,150.5 260.8,127.0 260.9,119.5 260.9,148.6 261.0,127.1 261.0,136.9 261.1,142.0 261.2,125.2 261.2,119.0 261.3,156.4 261.3,132.9 261.3,143.1 261.4,121.8 261.5,140.5 261.5,139.6 261.6,128.0 261.7,133.0 261.7,145.1 261.8,133.8 261.9,118.1 261.9,124.5 262.0,135.1 262.1,146.3 262.1,136.4 262.1,125.4 262.2,136.9 262.3,144.7 262.3,128.0 262.4,138.6 262.4,133.4 262.5,137.3 262.5,157.6 262.6,153.1 262.7,127.9 262.7,125.6 262.7,134.6 262.8,132.4 262.9,150.1 263.0,145.5 263.0,128.1 263.1,127.5 263.1,141.7 263.2,123.2 263.2,137.0 263.3,146.0 263.3,128.1 263.4,127.7 263.4,145.2 263.5,135.2 263.6,151.7 263.6,157.2 263.6,134.9 263.8,127.9 263.8,153.2 263.8,155.7 263.9,123.5 264.0,150.2 264.0,126.7 264.1,150.3 264.2,123.2 264.2,125.1 264.3,143.5 264.3,129.0 264.4,143.0 264.4,134.6 264.4,149.4 264.6,136.0 264.6,126.9 264.7,127.9 264.7,146.2 264.8,126.3 264.8,148.1 264.9,128.7 265.0,136.9 265.0,139.9 265.1,119.8 265.1,123.3 265.1,136.4 265.2,127.3 265.3,134.5 265.4,128.5 265.4,120.0 265.5,118.9 265.5,143.1 265.6,140.5 265.6,120.6 265.7,114.6 265.8,124.0 265.9,134.4 265.9,116.4 265.9,137.9 266.0,128.4 266.0,122.0 266.1,157.4 266.2,124.9 266.2,142.8 266.3,117.9 266.4,153.0 266.4,128.3 266.5,146.1 266.5,112.8 266.6,125.7 266.6,136.3 266.7,116.2 266.8,125.0 266.8,145.6 266.8,115.9 266.9,135.3 267.0,137.2 267.0,129.2 267.1,120.5 267.1,136.2 267.2,115.5 267.2,134.5 267.4,138.3 267.4,117.7 267.4,131.8 267.5,119.6 267.6,114.7 267.6,129.5 267.7,113.6 267.7,131.1 267.8,132.3 267.9,117.7 267.9,127.5 268.0,135.9 268.0,126.4 268.1,136.3 268.1,136.8 268.2,114.0 268.3,144.5 268.3,123.7 268.4,133.0 268.4,114.0 268.5,140.8 268.5,133.0 268.6,142.7 268.7,118.9 268.7,146.6 268.8,131.7 268.8,115.8 268.8,127.2 268.9,139.5 269.0,123.1 269.0,133.7 269.1,117.8 269.1,121.9 269.2,144.2 269.3,136.3 269.3,127.0 269.4,144.3 269.4,114.0 269.6,126.2 269.6,139.6 269.6,120.7 269.6,139.1 269.7,139.5 269.8,125.2 269.8,149.6 269.9,117.9 270.0,122.6 270.0,141.5 270.1,136.0 270.1,109.4 270.2,142.4 270.2,127.0 270.3,112.3 270.4,131.5 270.4,130.3 270.4,142.7 270.6,118.0 270.6,142.3 270.6,122.9 270.7,128.9 270.8,138.1 270.8,121.9 270.9,126.8 270.9,158.3 271.0,123.6 271.0,152.0 271.1,120.8 271.2,142.9 271.2,140.9 271.3,118.1 271.3,123.4 271.4,151.3 271.5,148.2 271.5,126.8 271.6,128.7 271.7,135.7 271.7,120.1 271.8,135.7 271.8,117.3 271.9,145.1 271.9,135.8 272.0,122.7 272.0,154.2 272.1,119.8 272.1,147.4 272.2,121.5 272.3,160.5 272.3,125.9 272.4,120.0 272.4,162.6 272.5,117.1 272.5,151.5 272.6,142.3 272.6,119.4 272.8,141.9 272.8,125.2 272.9,155.6 272.9,120.1 273.0,136.8 273.0,122.4 273.1,121.7 273.2,141.1 273.2,137.5 273.3,131.2 273.3,113.3 273.4,148.2 273.4,128.7 273.5,147.2 273.6,117.7 273.6,131.2 273.6,135.0 273.7,144.3 273.8,148.5 273.8,128.4 273.9,145.9 273.9,124.7 274.0,150.1 274.1,121.7 274.1,122.9 274.2,133.1 274.3,120.4 274.3,141.2 274.3,155.2 274.4,128.9 274.5,126.6 274.5,154.2 274.6,118.4 274.6,142.0 274.7,142.0 274.7,117.4 274.8,113.8 274.9,131.0 274.9,148.7 275.0,124.0 275.0,113.3 275.1,142.6 275.1,121.4 275.2,144.0 275.3,118.2 275.3,144.8 275.4,145.4 275.4,118.9 275.5,132.0 275.6,135.1 275.7,136.3 275.7,121.6 275.8,109.7 275.8,145.9 275.9,130.1 275.9,122.1 276.0,142.4 276.0,124.8 276.1,112.7 276.2,137.6 276.2,131.4 276.2,115.9 276.3,125.9 276.3,115.3 276.4,127.7 276.5,149.9 276.5,124.5 276.6,139.5 276.7,147.8 276.7,126.2 276.8,137.9 276.8,123.7 276.9,125.4 277.0,149.0 277.0,140.6 277.0,116.3 277.1,117.1 277.2,134.9 277.2,126.2 277.2,156.9 277.3,136.5 277.4,124.3 277.4,134.5 277.5,143.5 277.6,122.2 277.6,138.0 277.7,113.4 277.8,136.8 277.8,124.2 277.8,134.2 277.9,139.3 278.0,123.6 278.1,140.5 278.1,127.7 278.1,141.5 278.2,118.8 278.3,119.7 278.3,138.6 278.4,119.2 278.5,140.9 278.5,118.5 278.5,131.2 278.6,117.3 278.7,139.8 278.8,131.4 278.8,136.5 278.8,138.2 278.9,126.2 279.0,134.0 279.0,118.3 279.1,125.9 279.1,122.4 279.2,141.4 279.3,125.2 279.3,137.4 279.3,122.1 279.4,131.2 279.5,122.1 279.6,109.0 279.6,133.5 279.7,127.5 279.7,118.0 279.8,146.5 279.8,112.6 279.9,120.3 279.9,144.9 280.0,131.8 280.0,119.1 280.1,111.1 280.1,140.3 280.2,141.8 280.3,121.4 280.4,135.8 280.4,122.0 280.5,126.8 280.5,135.4 280.6,138.1 280.6,124.5 280.7,122.8 280.7,135.9 280.8,137.0 280.9,118.9 280.9,134.6 281.0,112.5 281.0,125.7 281.1,132.4 281.2,121.6 281.2,137.6 281.3,148.6 281.3,142.2 281.4,142.0 281.4,132.1 281.5,140.9 281.5,120.9 281.7,139.8 281.7,112.8 281.8,144.7 281.8,124.0 281.8,157.2 281.9,138.8 282.0,149.0 282.0,118.9 282.1,137.1 282.1,119.3 282.2,132.6 282.3,148.7 282.3,124.1 282.3,137.3 282.5,142.5 282.5,129.5 282.5,145.8 282.6,133.9 282.7,118.4 282.7,150.5 282.8,138.3 282.8,132.5 282.9,133.7 283.0,122.5 283.0,138.4 283.1,120.7 283.1,128.1 283.2,151.2 283.3,121.1 283.3,140.3 283.4,138.8 283.4,128.9 283.5,123.9 283.5,137.5 283.6,142.5 283.6,118.9 283.7,145.0 283.7,118.8 283.8,147.8 283.8,122.5 283.9,137.5 284.0,130.3 284.1,139.2 284.1,119.0 284.2,147.4 284.2,117.2 284.3,131.7 284.3,125.9 284.4,146.3 284.4,122.0 284.5,121.5 284.5,135.0 284.6,122.0 284.7,141.1 284.7,122.9 284.7,140.1 284.9,139.9 284.9,118.5 284.9,124.8 285.0,137.7 285.1,138.4 285.1,111.5 285.2,117.0 285.3,150.6 285.3,116.0 285.4,148.2 285.4,126.4 285.5,148.9 285.5,146.3 285.6,117.2 285.6,123.4 285.7,137.5 285.8,117.4 285.8,142.6 285.9,135.9 286.0,112.7 286.0,122.5 286.1,141.5 286.1,141.0 286.2,122.1 286.2,142.8 286.3,113.3 286.4,116.8 286.4,144.0 286.5,130.2 286.5,112.4 286.6,136.6 286.6,123.0 286.7,149.6 286.8,127.6 286.8,124.5 286.8,136.2 286.9,121.2 287.0,128.9 287.0,140.4 287.1,122.7 287.1,119.5 287.2,134.9 287.3,115.5 287.3,141.7 287.4,126.7 287.4,121.1 287.5,136.3 287.5,123.2 287.6,111.0 287.7,140.4 287.7,112.1 287.8,131.9 287.9,116.1 287.9,148.3 288.0,109.6 288.0,152.1 288.1,151.3 288.1,114.7 288.2,130.2 288.3,151.5 288.3,141.6 288.4,127.6 288.4,114.6 288.5,136.6 288.5,112.6 288.5,130.9 288.7,128.4 288.7,140.9 288.7,128.4 288.8,105.5 288.9,136.8 288.9,115.9 289.0,117.7 289.0,127.5 289.1,111.3 289.1,128.7 289.2,113.0 289.3,130.4 289.4,119.0 289.4,130.0 289.4,128.4 289.5,106.8 289.6,108.0 289.6,134.0 289.7,111.9 289.8,125.2 289.8,131.6 289.9,118.1 289.9,113.4 290.0,126.9 290.1,131.7 290.1,108.9 290.1,109.9 290.2,118.4 290.2,108.6 290.3,122.4 290.4,109.5 290.4,123.4 290.5,139.6 290.5,113.0 290.6,136.1 290.7,123.3 290.8,111.1 290.8,137.1 290.8,145.3 290.9,123.7 291.0,126.5 291.0,108.2 291.1,115.3 291.1,144.6 291.2,111.0 291.2,125.5 291.3,134.5 291.3,114.7 291.4,110.6 291.4,137.9 291.5,116.5 291.6,146.4 291.7,131.8 291.7,121.8 291.8,140.0 291.8,115.2 291.9,116.3 291.9,133.7 292.0,130.6 292.0,116.9 292.1,117.9 292.2,129.3 292.2,141.6 292.3,128.8 292.4,126.8 292.4,133.0 292.4,139.4 292.5,119.7 292.6,141.8 292.6,118.5 292.7,115.6 292.7,131.0 292.8,115.4 292.9,133.7 292.9,139.2 293.0,117.1 293.1,131.9 293.1,116.7 293.2,136.4 293.2,115.5 293.2,119.0 293.3,146.0 293.4,126.6 293.4,144.3 293.5,111.1 293.5,128.9 293.6,121.1 293.7,119.6 293.7,129.5 293.8,119.9 293.9,131.6 293.9,105.1 294.0,141.6 294.0,115.8 294.1,144.0 294.1,116.0 294.2,129.9 294.2,114.2 294.3,112.5 294.3,139.0 294.4,118.8 294.5,136.4 294.5,134.3 294.6,120.6 294.7,139.2 294.7,110.2 294.7,129.8 294.8,106.0 294.9,127.5 294.9,102.9 295.0,136.6 295.0,111.7 295.1,130.7 295.2,116.5 295.3,136.3 295.3,112.3 295.3,113.6 295.4,127.5 295.4,114.0 295.5,136.7 295.6,135.1 295.6,107.1 295.7,134.0 295.8,114.5 295.8,130.4 295.9,115.9 295.9,111.7 296.0,119.7 296.0,143.7 296.1,128.8 296.2,118.7 296.2,139.5 296.3,116.2 296.3,148.7 296.4,138.1 296.4,119.9 296.5,139.8 296.6,126.6 296.6,119.2 296.7,149.2 296.7,128.9 296.8,132.4 296.9,131.2 296.9,144.3 296.9,152.6 297.0,125.5 297.0,143.4 297.1,120.8 297.2,131.0 297.3,153.9 297.3,142.6 297.4,119.8 297.4,146.2 297.5,117.6 297.5,136.2 297.6,147.6 297.7,144.4 297.7,125.3 297.7,139.1 297.8,127.3 297.9,135.9 297.9,128.1 298.0,124.2 298.0,159.3 298.1,119.9 298.2,137.1 298.2,151.6 298.3,126.0 298.3,137.6 298.4,109.7 298.5,146.1 298.5,117.4 298.5,115.3 298.6,126.0 298.7,133.9 298.7,124.9 298.8,112.9 298.8,126.8 298.9,118.0 298.9,142.4 299.0,118.3 299.1,133.6 299.1,133.1 299.2,110.6 299.3,118.0 299.3,107.8 299.4,134.3 299.4,115.9 299.5,106.9 299.5,131.1 299.6,105.6 299.6,118.3 299.8,123.2 299.8,115.4 299.8,101.2 299.9,138.1 299.9,123.5 300.0,109.6 300.1,110.2 300.1,127.3 300.2,126.0 300.2,101.2 300.3,136.8 300.4,115.2 300.4,130.1 300.5,103.5 300.5,114.2 300.6,130.8 300.7,115.3 300.7,128.0 300.8,132.0 300.8,120.8 300.9,123.4 300.9,133.0 301.0,112.0 301.1,129.1 301.1,109.5 301.2,139.3 301.2,121.6 301.3,135.0 301.3,119.7 301.4,142.3 301.4,142.8 301.5,123.9 301.6,145.3 301.6,120.5 301.7,120.7 301.7,148.8 301.8,127.6 301.8,154.2 301.9,139.6 302.0,148.8 302.1,158.9 302.1,135.3 302.2,135.8 302.2,156.7 302.2,144.3 302.3,174.4 302.4,165.9 302.4,152.1 302.5,164.0 302.5,167.5 302.6,169.8 302.6,199.1 302.7,173.6 302.8,200.4 302.8,185.3 302.9,230.6 302.9,208.2 303.0,232.1 303.0,232.8 303.1,256.3 303.2,256.3 303.3,256.3 303.4,256.3 303.5,248.5 303.5,232.8 303.6,213.9 303.6,230.6 303.7,185.3 303.8,200.4 303.8,180.0 303.9,199.1 303.9,169.8 304.0,175.1 304.1,165.7 304.1,152.1 304.2,165.9 304.2,162.3 304.3,174.4 304.4,156.7 304.4,135.8 304.5,135.3 304.5,158.9 304.5,153.2 304.6,139.6 304.7,141.1 304.7,154.2 304.8,126.2 304.9,148.8 304.9,120.5 304.9,145.3 305.0,120.6 305.1,141.3 305.1,142.8 305.2,119.7 305.2,125.0 305.3,135.0 305.4,139.3 305.4,109.5 305.5,129.1 305.6,112.0 305.6,118.6 305.6,133.0 305.8,120.8 305.8,132.0 305.9,128.0 305.9,115.3 306.0,130.8 306.0,116.9 306.1,103.5 306.1,125.7 306.2,115.2 306.2,136.8 306.3,123.8 306.3,101.2 306.4,127.3 306.5,110.2 306.5,109.6 306.6,120.7 306.7,138.1 306.7,101.2 306.8,115.4 306.8,123.2 306.8,119.8 306.9,115.3 307.0,105.6 307.0,131.1 307.1,106.9 307.2,134.3 307.2,134.2 307.2,107.8 307.3,110.6 307.4,127.8 307.5,133.6 307.5,120.0 307.5,118.3 307.6,142.4 307.7,117.7 307.7,126.8 307.8,112.9 307.8,133.9 307.9,128.8 307.9,122.9 308.0,115.3 308.1,146.1 308.1,133.1 308.2,109.7 308.3,126.0 308.3,151.6 308.4,137.1 308.4,125.1 308.5,119.9 308.5,159.3 308.6,153.6 308.6,128.1 308.7,127.3 308.8,130.4 308.8,125.3 308.9,144.4 308.9,129.6 309.0,147.6 309.0,144.5 309.1,117.6 309.2,146.2 309.2,119.8 309.3,153.9 309.3,137.6 309.4,131.0 309.5,120.8 309.5,146.6 309.6,125.5 309.6,152.6 309.7,131.2 309.7,142.6 309.8,129.0 309.9,149.2 309.9,119.2 310.0,126.6 310.0,139.8 310.1,129.4 310.2,119.9 310.2,148.7 310.3,116.2 310.3,139.5 310.4,118.7 310.4,121.7 310.5,143.7 310.5,140.7 310.6,111.7 310.7,115.7 310.7,130.4 310.8,114.5 310.8,134.0 310.9,121.2 311.0,107.1 311.0,119.5 311.1,136.7 311.1,127.5 311.2,113.6 311.3,112.3 311.3,136.3 311.4,116.5 311.4,129.1 311.5,132.3 311.5,111.7 311.6,136.6 311.7,102.9 311.7,127.5 311.7,106.0 311.8,110.2 311.9,139.2 311.9,119.4 312.0,130.4 312.1,136.4 312.1,118.8 312.2,139.0 312.2,112.5 312.3,114.2 312.4,129.9 312.4,116.0 312.5,126.5 312.5,144.0 312.5,115.8 312.6,105.1 312.7,131.6 312.8,119.9 312.8,129.5 312.8,124.5 312.9,119.6 313.0,120.1 313.0,128.9 313.1,111.1 313.1,144.3 313.2,124.4 313.3,146.0 313.3,115.5 313.4,136.4 313.4,116.7 313.5,131.9 313.6,136.7 313.6,117.1 313.7,139.2 313.7,115.4 313.8,133.1 313.8,121.3 313.9,115.6 313.9,141.2 314.0,141.8 314.1,119.7 314.1,139.4 314.2,126.8 314.3,128.8 314.3,139.3 314.3,141.6 314.4,117.9 314.5,116.9 314.5,130.6 314.6,133.7 314.7,116.3 314.7,115.2 314.7,140.0 314.9,121.8 314.9,131.8 314.9,146.4 315.0,129.5 315.0,116.5 315.1,137.9 315.2,110.6 315.2,126.1 315.3,134.5 315.4,111.0 315.4,119.2 315.4,144.6 315.6,108.2 315.6,126.5 315.6,113.4 315.7,142.4 315.7,145.3 315.8,111.1 315.8,122.9 315.9,136.1 316.0,113.0 316.0,139.6 316.1,132.0 316.1,109.7 316.2,109.5 316.3,122.4 316.3,108.6 316.3,118.4 316.4,108.9 316.5,131.7 316.6,126.9 316.6,113.4 316.7,118.1 316.7,125.2 316.8,131.6 316.8,111.9 316.9,134.0 317.0,108.0 317.1,122.8 317.1,106.8 317.1,130.0 317.2,119.0 317.3,130.4 317.3,114.4 317.3,113.0 317.4,128.7 317.5,111.3 317.5,127.5 317.6,115.9 317.6,133.1 317.7,136.8 317.8,105.5 317.8,140.9 317.9,128.4 317.9,138.5 318.0,122.4 318.0,112.6 318.1,136.6 318.1,114.6 318.2,135.3 318.3,151.5 318.3,130.2 318.4,137.8 318.4,114.7 318.5,152.1 318.6,109.6 318.6,114.3 318.6,148.3 318.8,131.9 318.8,112.1 318.9,140.4 318.9,111.0 319.0,121.2 319.0,126.5 319.1,136.3 319.2,121.1 319.2,141.7 319.3,115.5 319.3,134.9 319.4,124.8 319.4,119.5 319.5,140.4 319.5,126.3 319.6,128.9 319.6,121.2 319.7,136.2 319.8,127.6 319.8,149.6 319.9,137.6 319.9,123.0 320.0,136.6 320.0,112.4 320.1,144.0 320.2,116.8 320.2,137.3 320.3,113.3 320.3,142.8 320.4,122.1 320.5,141.5 320.5,129.4 320.6,112.7 320.7,135.9 320.7,126.4 320.8,142.6 320.8,117.4 320.9,137.5 321.0,117.2 321.0,146.3 321.1,148.9 321.1,126.4 321.2,148.2 321.2,116.0 321.3,150.6 321.3,118.3 321.4,130.2 321.5,111.5 321.5,138.4 321.5,128.2 321.7,118.5 321.7,139.9 321.7,120.8 321.8,140.1 321.8,122.9 321.9,141.1 322.0,122.0 322.0,135.0 322.1,121.5 322.2,146.3 322.2,125.4 322.3,131.7 322.4,117.2 322.4,147.4 322.4,119.0 322.5,139.2 322.5,125.9 322.6,136.9 322.7,137.9 322.7,122.5 322.8,147.8 322.8,118.8 322.9,145.0 322.9,118.9 323.0,141.3 323.1,123.9 323.1,128.9 323.2,138.8 323.2,140.3 323.3,121.1 323.3,125.9 323.4,151.2 323.5,145.4 323.5,120.7 323.6,131.4 323.6,122.5 323.7,132.5 323.8,138.3 323.8,150.5 323.9,118.4 323.9,133.9 324.0,144.0 324.0,145.8 324.1,129.5 324.1,140.8 324.2,126.8 324.3,124.1 324.3,148.7 324.4,119.3 324.5,137.1 324.5,118.9 324.5,149.0 324.6,122.0 324.6,144.8 324.7,157.2 324.7,124.0 324.9,112.8 324.9,139.8 325.0,117.0 325.0,140.9 325.1,141.0 325.2,132.1 325.2,142.0 325.3,148.6 325.3,147.4 325.4,121.6 325.4,123.7 325.5,132.4 325.6,112.5 325.6,134.6 325.6,116.0 325.7,128.6 325.8,137.0 325.8,128.0 325.9,122.8 325.9,135.3 326.0,138.1 326.1,126.8 326.2,122.0 326.2,135.8 326.3,121.4 326.3,136.7 326.3,141.8 326.4,125.6 326.4,111.1 326.5,125.3 326.6,121.8 326.7,144.9 326.7,112.6 326.7,146.5 326.8,133.0 326.8,118.0 327.0,133.5 327.0,109.0 327.0,117.6 327.1,131.2 327.2,129.7 327.2,122.1 327.3,125.2 327.3,141.4 327.4,125.4 327.4,122.4 327.5,118.3 327.6,134.0 327.6,123.4 327.6,131.8 327.7,138.2 327.8,131.4 327.9,139.8 327.9,117.3 328.0,131.2 328.0,118.5 328.1,140.9 328.1,119.2 328.2,138.6 328.3,119.7 328.3,135.9 328.4,118.8 328.4,141.5 328.4,127.7 328.6,123.6 328.6,139.3 328.7,125.2 328.7,134.2 328.8,136.8 328.8,113.4 328.9,116.2 328.9,138.0 329.0,123.6 329.1,143.5 329.1,134.5 329.2,124.3 329.2,131.9 329.3,156.9 329.4,134.9 329.4,119.5 329.5,116.3 329.5,123.9 329.6,149.0 329.6,125.4 329.7,139.1 329.8,123.7 329.8,126.2 329.9,147.8 329.9,127.1 330.0,139.5 330.0,124.5 330.1,149.9 330.1,127.7 330.2,115.3 330.3,125.9 330.3,115.9 330.4,137.6 330.5,112.7 330.5,118.3 330.6,142.4 330.6,134.9 330.6,122.1 330.7,145.9 330.8,109.7 330.9,121.6 330.9,136.3 331.0,135.1 331.0,132.0 331.1,132.8 331.1,118.9 331.2,145.4 331.2,118.2 331.3,123.7 331.4,144.0 331.4,121.4 331.5,142.6 331.5,113.3 331.6,148.7 331.6,138.4 331.7,113.8 331.8,134.2 331.8,117.4 331.9,125.3 332.0,142.0 332.0,118.4 332.0,154.2 332.1,141.3 332.1,128.9 332.2,155.2 332.3,120.4 332.4,133.1 332.4,125.4 332.5,121.7 332.5,150.1 332.6,124.7 332.6,145.9 332.7,128.4 332.8,148.5 332.8,132.6 332.8,144.3 332.9,135.0 333.0,117.7 333.0,127.5 333.1,147.2 333.1,128.7 333.2,148.2 333.3,113.3 333.3,133.5 333.4,141.1 333.5,133.1 333.5,121.7 333.5,135.4 333.6,120.1 333.7,155.6 333.7,144.5 333.7,125.2 333.9,132.9 333.9,119.4 334.0,125.9 334.0,151.5 334.1,117.1 334.1,162.6 334.2,120.0 334.2,160.5 334.3,121.5 334.4,145.3 334.4,147.4 334.5,119.8 334.5,154.2 334.5,122.7 334.7,145.1 334.7,117.3 334.8,135.7 334.8,120.1 334.9,135.7 334.9,128.7 335.0,145.6 335.1,126.8 335.1,151.3 335.2,134.9 335.2,137.3 335.3,118.1 335.4,142.9 335.4,129.4 335.4,120.8 335.5,152.0 335.6,123.6 335.6,158.3 335.7,121.9 335.8,138.1 335.8,134.0 335.9,125.0 335.9,142.3 336.0,118.0 336.0,131.8 336.1,142.7 336.2,131.5 336.2,112.3 336.3,130.5 336.3,127.0 336.4,142.4 336.4,109.4 336.5,130.5 336.6,141.5 336.6,134.7 336.7,117.9 336.7,149.6 336.7,125.2 336.8,139.5 336.9,127.1 336.9,120.7 337.0,139.6 337.1,131.1 337.1,114.0 337.2,144.3 337.2,127.0 337.3,133.1 337.3,144.2 337.5,128.1 337.5,117.8 337.6,123.1 337.6,139.5 337.7,121.5 337.7,127.2 337.7,115.8 337.8,146.6 337.9,118.9 337.9,142.7 338.0,127.7 338.1,140.8 338.1,140.2 338.1,114.0 338.2,123.7 338.3,144.5 338.4,135.5 338.4,114.0 338.4,136.8 338.5,130.3 338.6,126.4 338.6,135.9 338.7,135.8 338.7,117.7 338.8,131.1 338.9,113.6 338.9,129.5 339.0,114.7 339.0,125.6 339.1,119.6 339.2,117.7 339.2,138.3 339.3,134.5 339.3,115.5 339.4,136.2 339.4,120.5 339.5,129.2 339.6,137.2 339.6,137.1 339.6,125.5 339.7,115.9 339.7,145.6 339.8,142.5 339.9,116.2 339.9,136.3 340.0,125.2 340.1,112.8 340.1,146.1 340.2,130.7 340.2,153.0 340.3,117.9 340.3,142.8 340.4,126.6 340.4,157.4 340.5,122.0 340.6,137.9 340.7,116.4 340.7,134.4 340.8,124.0 340.8,114.6 340.9,120.6 340.9,140.5 341.0,143.1 341.1,118.9 341.1,120.0 341.2,128.5 341.2,121.6 341.3,134.5 341.4,124.4 341.4,136.4 341.5,130.5 341.5,119.8 341.6,139.9 341.6,128.7 341.7,130.1 341.8,148.1 341.8,126.3 341.8,146.2 341.9,126.9 342.0,136.0 342.0,131.2 342.1,149.4 342.2,143.0 342.2,129.0 342.3,143.5 342.3,125.1 342.4,123.2 342.4,150.3 342.5,126.7 342.6,148.7 342.6,150.2 342.6,123.5 342.7,155.7 342.8,127.9 342.8,133.8 342.9,147.2 342.9,157.2 343.0,135.2 343.1,145.2 343.1,127.7 343.2,128.1 343.3,146.0 343.3,137.0 343.3,123.2 343.4,141.7 343.5,127.5 343.5,128.1 343.6,145.5 343.7,150.1 343.7,132.4 343.7,141.1 343.8,125.6 343.9,127.9 343.9,153.1 344.0,132.3 344.0,157.6 344.1,133.4 344.2,138.6 344.2,128.0 344.3,144.7 344.4,136.9 344.4,125.4 344.4,128.1 344.5,146.3 344.6,136.6 344.6,124.5 344.7,118.1 344.8,132.4 344.8,145.1 344.9,133.0 344.9,134.5 345.0,128.0 345.0,140.5 345.1,129.9 345.1,121.8 345.2,143.1 345.3,156.4 345.3,119.0 345.4,124.2 345.4,142.0 345.5,136.9 345.6,127.1 345.6,148.6 345.6,119.5 345.7,127.0 345.8,150.5 345.8,140.1 345.9,119.2 346.0,132.5 346.0,144.0 346.1,132.4 346.1,119.1 346.2,119.1 346.3,140.2 346.3,140.5 346.4,124.5 346.5,124.8 346.5,140.8 346.5,128.7 346.6,147.4 346.6,125.2 346.7,136.7 346.8,119.5 346.8,134.9 346.9,135.8 346.9,118.8 347.0,152.8 347.0,120.8 347.1,128.8 347.2,134.9 347.2,126.8 347.3,140.7 347.4,121.5 347.4,145.1 347.4,116.6 347.5,152.1 347.5,119.3 347.6,140.6 347.7,112.1 347.7,151.3 347.8,116.8 347.8,139.7 348.0,148.9 348.0,118.5 348.0,116.5 348.1,153.6 348.2,125.4 348.2,144.3 348.2,120.1 348.3,153.1 348.4,120.6 348.4,148.3 348.5,141.5 348.5,119.4 348.6,116.8 348.7,137.4 348.7,138.7 348.8,121.0 348.9,121.3 348.9,138.6 348.9,134.5 349.0,146.3 349.1,123.1 349.1,150.1 349.2,122.2 349.2,140.8 349.3,141.6 349.4,118.5 349.5,125.0 349.5,152.2 349.5,146.7 349.5,133.2 349.6,135.2 349.7,116.9 349.7,119.8 349.8,146.1 349.9,120.0 349.9,149.9 350.0,140.8 350.0,117.2 350.1,147.2 350.2,118.5 350.2,134.1 350.3,119.2 350.4,126.3 350.4,143.1 350.4,119.0 350.5,141.0 350.5,118.8 350.6,140.2 350.7,119.7 350.7,139.6 350.8,140.0 350.9,112.0 350.9,142.6 351.0,128.7 351.0,145.5 351.0,115.6 351.2,122.7 351.2,135.0 351.3,143.8 351.3,117.6 351.4,118.3 351.4,145.5 351.5,141.7 351.5,116.1 351.6,113.5 351.6,120.8 351.7,128.4 351.8,132.4 351.9,114.3 351.9,142.5 351.9,134.7 352.0,149.3 352.0,162.7 352.1,129.3 352.2,118.2 352.2,136.6 352.3,122.9 352.3,137.5 352.4,128.5 352.4,118.1 352.5,112.5 352.6,143.3 352.6,119.9 352.7,145.4 352.8,121.0 352.8,147.2 352.9,126.2 352.9,140.8 353.0,132.9 353.1,148.7 353.1,140.5 353.1,124.9 353.2,120.3 353.3,127.5 353.3,132.6 353.4,128.9 353.4,114.9 353.5,151.8 353.5,127.8 353.6,138.9 353.7,136.7 353.7,121.7 353.8,116.8 353.9,134.2 353.9,117.4 353.9,138.2 354.0,145.9 354.0,121.5 354.1,122.8 354.1,132.4 354.2,122.1 354.3,139.8 354.4,159.1 354.4,124.5 354.5,141.2 354.5,116.9 354.6,138.6 354.7,119.0 354.7,142.6 354.8,128.4 354.8,134.9 354.9,121.0 354.9,118.6 355.0,131.0 355.0,115.8 355.1,133.4 355.2,136.2 355.2,123.3 355.3,118.0 355.3,137.0 355.4,130.4 355.5,112.2 355.5,132.1 355.6,146.4 355.6,141.6 355.7,115.7 355.8,138.5 355.8,128.6 355.8,143.0 355.9,114.7 356.0,128.3 356.1,139.4 356.1,114.8 356.1,129.1 356.2,123.8 356.2,137.7 356.3,123.4 356.3,144.8 356.5,126.0 356.5,142.4 356.6,119.0 356.6,136.0 356.7,134.2 356.7,156.1 356.8,136.7 356.9,118.5 356.9,139.4 356.9,145.9 357.0,123.5 357.1,149.1 357.1,146.9 357.2,117.4 357.2,158.0 357.3,123.1 357.4,142.2 357.4,120.9 357.5,134.4 357.6,119.1 357.6,129.8 357.6,114.8 357.7,138.7 357.7,120.5 357.8,143.6 357.9,113.4 358.0,114.6 358.0,142.2 358.0,140.0 358.1,119.5 358.2,153.0 358.2,121.5 358.3,116.4 358.4,130.1 358.4,153.2 358.5,118.4 358.5,142.8 358.6,121.1 358.6,122.6 358.7,140.9 358.7,144.9 358.8,130.7 358.9,136.3 358.9,121.7 359.0,113.6 359.0,126.2 359.1,139.5 359.1,121.7 359.2,115.8 359.3,139.5 359.3,122.3 359.4,140.9 359.4,117.2 359.5,129.4 359.5,148.9 359.6,118.1 359.7,129.2 359.7,142.1 359.8,136.9 359.9,123.2 359.9,135.8 360.0,117.4 360.0,131.9 360.1,107.5 360.1,118.8 360.2,132.8 360.3,121.8 360.3,136.0 360.3,130.6 360.4,126.0 360.5,119.7 360.5,129.2 360.6,125.6 360.7,124.1 360.7,125.9 360.8,143.2 360.8,140.6 360.9,110.5 361.0,123.3 361.0,106.7 361.0,112.2 361.1,124.3 361.2,127.3 361.2,147.8 361.3,126.6 361.4,117.1 361.4,107.9 361.4,130.5 361.5,131.4 361.6,114.1 361.6,138.7 361.6,111.0 361.8,137.7 361.8,116.0 361.8,124.5 361.9,151.2 362.0,106.1 362.0,134.7 362.1,114.2 362.1,126.8 362.2,140.0 362.2,108.8 362.3,113.4 362.4,125.5 362.5,152.5 362.5,121.7 362.6,115.2 362.6,144.4 362.7,124.6 362.7,115.3 362.8,134.4 362.9,111.9 362.9,113.5 362.9,126.5 363.0,127.4 363.1,112.2 363.1,116.4 363.2,136.7 363.3,149.0 363.3,114.5 363.4,115.7 363.4,141.6 363.5,142.9 363.5,110.7 363.6,144.4 363.6,117.7 363.7,125.5 363.8,126.8 363.8,118.6 363.9,128.4 363.9,146.9 363.9,118.6 364.0,126.5 364.1,114.9 364.2,111.0 364.2,140.5 364.3,127.7 364.4,116.4 364.4,116.3 364.5,153.8 364.6,114.1 364.6,131.4 364.6,143.4 364.7,119.9 364.7,122.7 364.8,145.3 364.8,136.3 364.9,123.2 365.0,132.1 365.0,113.9 365.1,152.6 365.1,122.5 365.2,140.1 365.2,119.2 365.3,142.6 365.4,115.7 365.4,138.8 365.5,128.3 365.6,115.9 365.6,138.2 365.7,120.8 365.7,134.7 365.8,141.5 365.9,134.6 365.9,117.8 366.0,143.0 366.0,151.4 366.1,115.4 366.1,116.3 366.2,129.2 366.3,123.6 366.3,150.0 366.4,128.6 366.4,146.1 366.5,135.6 366.5,115.4 366.6,112.2 366.6,146.7 366.7,136.9 366.7,116.0 366.8,122.3 366.9,135.3 366.9,118.2 367.0,141.1 367.1,118.7 367.1,149.5 367.1,118.1 367.2,139.1 367.3,142.5 367.3,124.5 367.4,116.1 367.5,140.6 367.5,129.2 367.6,153.0 367.6,122.8 367.7,142.9 367.7,129.1 367.8,117.0 367.8,121.0 367.9,136.5 368.0,135.0 368.0,144.3 368.1,129.7 368.1,150.1 368.2,146.7 368.2,122.8 368.3,121.5 368.3,138.5 368.4,122.2 368.5,147.2 368.5,114.9 368.6,140.1 368.7,127.9 368.7,150.3 368.8,117.3 368.8,136.6 368.9,143.8 368.9,134.9 369.0,114.6 369.1,131.2 369.1,129.1 369.2,146.2 369.3,129.1 369.3,124.0 369.3,136.3 369.4,124.0 369.5,142.2 369.5,116.4 369.6,143.2 369.7,114.1 369.7,128.4 369.7,122.4 369.9,117.4 369.9,139.0 370.0,124.0 370.0,140.9 370.0,120.5 370.1,136.1 370.1,141.6 370.2,118.0 370.3,127.0 370.3,137.9 370.4,135.1 370.4,125.3 370.5,121.9 370.5,136.7 370.6,117.2 370.7,136.4 370.8,129.6 370.8,120.2 370.8,133.9 370.9,126.6 371.0,113.8 371.0,144.2 371.1,119.6 371.1,151.1 371.2,131.7 371.2,117.8 371.3,124.1 371.4,134.6 371.5,138.7 371.5,122.8 371.6,145.0 371.6,119.5 371.6,151.2 371.7,120.4 371.8,124.6 371.8,155.6 371.9,118.7 372.0,142.6 372.0,145.4 372.0,115.6 372.1,126.5 372.2,118.7 372.2,119.1 372.3,142.1 372.4,116.5 372.4,127.8 372.5,131.0 372.5,119.2 372.6,137.0 372.6,118.2 372.7,149.0 372.7,121.6 372.8,133.3 372.9,123.3 372.9,148.5 373.0,113.8 373.0,137.6 373.1,121.9 373.1,149.3 373.2,119.8 373.3,120.3 373.3,140.9 373.4,146.5 373.4,115.8 373.5,118.5 373.6,133.6 373.6,117.7 373.7,122.1 373.7,130.9 373.8,118.5 373.8,115.8 373.9,142.6 374.0,135.0 374.0,116.4 374.1,140.8 374.1,129.3 374.2,124.0 374.3,119.4 374.3,113.3 374.4,132.0 374.5,133.2 374.5,116.4 374.5,151.2 374.6,119.9 374.7,118.5 374.7,136.8 374.8,132.3 374.8,120.4 374.9,125.2 374.9,126.6 375.0,133.5 375.1,117.8 375.1,124.1 375.2,115.3 375.2,134.6 375.2,112.2 375.3,108.3 375.4,124.6 375.5,110.2 375.5,140.3 375.6,132.2 375.6,118.9 375.7,123.3 375.8,114.8 375.8,140.7 375.9,119.8 375.9,139.4 376.0,112.3 376.0,113.0 376.1,155.7 376.2,116.6 376.2,140.8 376.3,117.0 376.3,130.0 376.4,119.9 376.4,134.2 376.5,120.8 376.5,142.4 376.6,124.5 376.7,136.2 376.7,138.7 376.7,114.0 376.8,111.5 376.9,138.0 377.0,124.4 377.0,133.1 377.1,137.7 377.1,121.8 377.2,118.8 377.3,145.0 377.3,134.0 377.4,121.7 377.4,129.9 377.5,107.6 377.6,113.2 377.6,136.3 377.6,152.0 377.7,117.4 377.8,172.4 377.8,132.4 377.9,133.6 377.9,127.0 378.0,145.6 378.0,112.9 378.1,121.0 378.2,149.4 378.2,134.5 378.3,119.5 378.4,116.0 378.4,120.4 378.4,118.4 378.5,145.2 378.6,144.6 378.6,115.2 378.7,134.0 378.7,121.1 378.8,132.1 378.9,114.5 379.0,137.5 379.0,126.4 379.0,124.0 379.1,139.6 379.2,132.3 379.2,123.8 379.3,139.9 379.3,119.5 379.4,114.6 379.4,134.3 379.5,113.8 379.5,132.0 379.6,130.3 379.7,123.0 379.7,138.0 379.8,121.7 379.9,139.4 379.9,126.8 380.0,129.4 380.0,151.2 380.1,134.3 380.1,123.6 380.2,113.2 380.3,124.5 380.3,149.7 380.3,115.8 380.4,147.5 380.5,115.1 380.5,112.4 380.6,143.6 380.7,148.7 380.7,127.4 380.8,135.1 380.8,113.2 380.9,114.7 381.0,143.8 381.0,125.0 381.1,116.5 381.1,117.4 381.1,132.8 381.2,137.1 381.2,124.2 381.3,142.2 381.4,121.3 381.5,110.9 381.5,130.7 381.6,122.1 381.6,141.5 381.7,124.3 381.7,116.3 381.8,119.9 381.8,131.6 381.9,112.0 382.0,139.6 382.1,151.1 382.1,116.8 382.1,151.1 382.2,113.6 382.3,136.5 382.3,114.3 382.4,114.0 382.4,137.2 382.5,115.9 382.5,134.3 382.7,136.1 382.7,112.7 382.8,142.1 382.8,123.6 382.8,119.8 382.9,134.5 382.9,120.0 383.0,139.4 383.1,136.2 383.1,113.0 383.2,111.7 383.3,142.0 383.3,117.8 383.3,136.9 383.4,137.0 383.4,119.8 383.6,136.3 383.6,124.8 383.7,138.0 383.7,115.2 383.8,117.1 383.8,148.8 383.9,142.3 384.0,113.2 384.0,136.4 384.0,112.6 384.1,110.1 384.2,136.2 384.2,138.4 384.3,116.1 384.3,143.8 384.4,120.4 384.5,108.8 384.5,150.6 384.6,112.0 384.6,132.2 384.7,132.7 384.7,120.9 384.8,129.6 384.9,110.6 385.0,126.0 385.0,115.9 385.0,134.4 385.1,126.7 385.2,133.4 385.2,120.8 385.3,124.9 385.3,137.3 385.4,135.0 385.5,113.0 385.5,117.4 385.5,132.6 385.6,112.5 385.6,136.9 385.8,128.0 385.8,121.6 385.8,108.5 385.9,143.2 385.9,115.4 386.0,139.3 386.1,121.2 386.1,113.6 386.2,115.4 386.3,130.5 386.3,128.9 386.3,141.5 386.4,140.1 386.5,111.2 386.5,114.5 386.6,130.4 386.6,113.9 386.7,143.3 386.7,142.2 386.8,123.1 386.9,116.5 387.0,133.0 387.0,137.1 387.0,123.6 387.2,144.1 387.2,123.8 387.2,116.9 387.3,133.9 387.4,147.8 387.4,114.8 387.5,112.6 387.5,128.1 387.6,132.2 387.6,115.9 387.7,128.4 387.7,115.3 387.8,133.6 387.9,108.5 387.9,120.1 388.0,136.5 388.0,111.4 388.1,131.1 388.2,105.1 388.2,121.7 388.2,107.1 388.3,132.1 388.4,139.1 388.4,110.9 388.5,116.7 388.6,107.3 388.6,141.1 388.7,115.5 388.7,114.9 388.8,131.9 388.9,107.6 388.9,121.5 388.9,118.1 389.0,139.5 389.1,135.9 389.1,116.2 389.2,122.9 389.2,108.7 389.3,106.2 389.3,127.4 389.4,108.4 389.4,122.7 389.5,139.0 389.6,101.5 389.7,116.9 389.7,129.7 389.7,107.0 389.8,138.1 389.9,132.1 389.9,117.1 390.0,130.5 390.1,107.9 390.1,114.5 390.2,134.0 390.3,130.3 390.3,108.7 390.4,133.7 390.4,118.7 390.4,114.0 390.5,126.1 390.6,142.2 390.6,116.7 390.7,114.4 390.8,125.7 390.8,109.5 390.9,139.8 390.9,134.8 391.0,112.1 391.0,134.0 391.1,111.8 391.1,108.7 391.2,114.8 391.3,136.3 391.3,118.6 391.4,125.7 391.4,134.2 391.5,144.5 391.5,116.7 391.6,103.7 391.7,110.9 391.7,134.6 391.8,112.2 391.8,108.8 391.9,125.1 391.9,118.4 392.0,127.0 392.1,137.0 392.1,111.9 392.2,108.1 392.3,136.3 392.3,131.7 392.4,110.5 392.5,133.9 392.5,110.4 392.5,114.5 392.6,142.9 392.6,150.4 392.7,113.6 392.7,141.6 392.8,113.0 392.9,111.8 392.9,137.0 393.0,107.7 393.1,149.2 393.1,114.2 393.2,132.6 393.2,113.6 393.3,135.4 393.3,121.3 393.4,131.5 393.5,128.4 393.5,119.3 393.6,114.2 393.6,142.0 393.7,144.3 393.8,118.2 393.8,119.7 393.8,116.5 393.9,145.9 394.0,127.7 394.1,119.1 394.1,145.7 394.1,118.4 394.2,141.3 394.2,139.4 394.3,114.9 394.4,128.6 394.4,143.1 394.5,115.2 394.5,125.0 394.6,134.9 394.7,123.4 394.7,115.1 394.8,145.3 394.9,120.3 394.9,142.8 394.9,143.4 395.0,123.2 395.1,133.7 395.1,116.8 395.2,118.9 395.2,135.8 395.3,133.7 395.3,115.2 395.5,150.4 395.5,125.8 395.6,138.7 395.6,125.4 395.7,117.2 395.7,146.5 395.8,149.5 395.8,117.2 395.9,142.3 395.9,123.8 396.0,117.6 396.1,134.5 396.1,142.0 396.1,131.7 396.2,117.1 396.2,133.8 396.3,146.4 396.3,123.3 396.5,128.8 396.5,137.5 396.6,125.8 396.6,135.4 396.7,121.6 396.7,139.3 396.8,147.3 396.9,130.6 396.9,141.1 397.0,120.5 397.0,140.3 397.1,130.7 397.2,116.8 397.2,142.4 397.3,135.1 397.3,142.7 397.4,136.9 397.4,122.8 397.5,138.0 397.5,115.2 397.6,122.6 397.7,127.1 397.8,143.6 397.8,124.7 397.8,147.0 397.9,125.5 397.9,116.7 398.0,133.4 398.1,151.3 398.1,132.8 398.2,121.4 398.2,141.5 398.3,117.8 398.3,174.6 398.4,118.0 398.5,137.9 398.5,158.1 398.6,116.6 398.7,149.7 398.7,132.9 398.7,142.9 398.8,137.5 398.9,116.1 398.9,144.4 399.0,120.3 399.0,134.6 399.1,138.9 399.1,122.6 399.2,123.7 399.2,141.2 399.3,138.5 399.4,125.1 399.5,124.0 399.5,157.1 399.5,144.0 399.6,120.0 399.7,139.3 399.7,119.3 399.8,148.0 399.8,125.7 400.0,149.5 400.0,124.0 400.0,160.4 400.1,124.7 400.1,126.1 400.2,147.8 400.2,144.4 400.3,129.7 400.4,115.9 400.4,134.9 400.5,134.4 400.6,120.2 400.6,149.7 400.7,124.2 400.8,147.8 400.8,126.9 400.9,135.1 400.9,127.1 401.0,152.0 401.0,125.3 401.0,115.3 401.1,137.5 401.2,126.5 401.2,139.7 401.3,134.9 401.3,154.8 401.4,134.2 401.4,114.4 401.5,129.1 401.6,140.4 401.6,124.3 401.7,146.6 401.8,123.6 401.8,154.2 401.9,149.1 401.9,115.0 402.0,140.0 402.0,115.5 402.1,119.8 402.1,137.4 402.2,119.5 402.3,133.8 402.3,115.5 402.4,153.9 402.5,119.0 402.5,135.6 402.6,145.8 402.6,116.9 402.7,127.9 402.7,116.9 402.8,118.2 402.9,142.7 402.9,115.8 403.0,134.2 403.0,119.4 403.0,144.5 403.2,134.5 403.2,116.1 403.3,143.1 403.3,127.1 403.4,141.9 403.4,116.0 403.5,113.7 403.5,127.4 403.6,117.6 403.7,133.7 403.7,132.0 403.8,119.1 403.9,123.6 403.9,137.8 403.9,129.3 404.0,125.4 404.1,113.5 404.1,140.8 404.2,107.2 404.2,133.5 404.3,133.8 404.3,117.9 404.4,130.3 404.4,120.0 404.5,141.9 404.6,112.1 404.7,129.3 404.7,118.5 404.7,138.6 404.8,109.6 404.9,109.3 404.9,129.3 405.0,127.6 405.0,112.4 405.1,117.1 405.2,140.2 405.2,139.8 405.3,115.7 405.3,124.3 405.4,145.6 405.4,111.6 405.5,133.2 405.6,130.5 405.6,120.1 405.7,120.2 405.7,130.9 405.8,115.6 405.9,131.0 405.9,143.2 405.9,113.4 406.0,114.7 406.1,136.5 406.1,135.3 406.2,116.1 406.3,133.3 406.3,111.1 406.4,136.2 406.4,130.3 406.5,135.8 406.6,114.8 406.6,134.2 406.7,116.8 406.7,150.6 406.7,133.1 406.9,118.6 406.9,136.1 406.9,118.8 407.0,150.5 407.0,115.3 407.1,142.3 407.2,152.2 407.2,125.5 407.3,131.7 407.4,120.0 407.4,114.0 407.4,130.3 407.5,156.6 407.5,123.4 407.6,125.0 407.6,143.3 407.8,142.5 407.8,124.4 407.8,131.3 407.9,141.2 408.0,146.7 408.0,121.3 408.1,128.0 408.2,144.1 408.2,117.4 408.3,146.5 408.3,133.2 408.3,116.9 408.4,128.1 408.5,145.5 408.6,124.2 408.6,157.1 408.7,118.2 408.7,147.2 408.8,122.7 408.9,136.8 408.9,128.6 408.9,122.3 409.0,114.9 409.1,134.2 409.2,151.5 409.2,126.2 409.2,144.6 409.3,120.2 409.3,131.8 409.4,145.3 409.5,129.2 409.5,155.3 409.6,119.5 409.7,151.6 409.7,142.2 409.8,127.1 409.8,150.8 409.9,117.8 410.0,145.9 410.0,128.3 410.1,147.0 410.1,130.9 410.2,156.1 410.2,133.1 410.3,123.5 410.3,142.2 410.4,151.7 410.5,128.1 410.5,117.2 410.6,150.7 410.7,130.5 410.7,174.5 410.7,144.0 410.8,134.6 410.9,128.2 410.9,150.1 411.0,126.2 411.0,131.7 411.1,146.3 411.1,127.6 411.2,132.9 411.3,139.4 411.3,133.3 411.4,113.2 411.4,116.7 411.5,137.1 411.6,126.9 411.6,139.6 411.7,135.4 411.7,116.5 411.8,117.8 411.8,132.6 411.9,143.0 412.0,125.7 412.0,123.7 412.1,136.5 412.1,126.3 412.2,144.4 412.3,154.2 412.3,131.5 412.3,143.4 412.4,125.6 412.5,120.8 412.5,123.8 412.6,122.5 412.7,134.9 412.7,112.0 412.7,142.4 412.8,132.6 412.9,146.6 412.9,135.2 412.9,119.7 413.1,121.3 413.1,137.3 413.2,129.9 413.2,142.4 413.3,123.6 413.4,141.4 413.4,146.1 413.5,120.6 413.5,131.1 413.5,119.1 413.6,132.5 413.7,120.4 413.7,121.7 413.8,129.4 413.9,127.9 413.9,143.4 414.0,136.7 414.0,121.4 414.1,147.3 414.2,120.8 414.2,140.8 414.2,123.7 414.3,144.2 414.3,117.5 414.4,130.3 414.5,121.4 414.6,127.2 414.6,144.3 414.7,121.7 414.7,138.9 414.8,146.1 414.9,122.0 414.9,127.4 415.0,140.1 415.0,120.9 415.0,140.5 415.1,124.3 415.2,136.4 415.2,139.5 415.3,118.8 415.4,147.9 415.4,126.6 415.5,132.7 415.5,127.4 415.6,120.7 415.6,145.6 415.7,139.4 415.7,118.4 415.8,118.6 415.9,132.7 415.9,126.5 415.9,152.8 416.0,116.8 416.1,140.6 416.2,116.9 416.2,140.0 416.3,123.1 416.4,141.5 416.4,142.7 416.4,127.4 416.5,123.4 416.6,153.3 416.6,138.9 416.7,128.0 416.8,134.2 416.8,121.1 416.9,128.8 416.9,159.7 417.0,120.2 417.0,137.3 417.1,127.2 417.2,146.6 417.2,119.7 417.3,157.1 417.3,116.3 417.3,124.6 417.4,145.3 417.5,115.4 417.6,127.0 417.6,189.4 417.6,143.6 417.7,127.4 417.8,121.1 417.8,127.0 417.9,131.5 417.9,152.7 418.1,124.3 418.1,159.9 418.1,121.5 418.2,144.5 418.2,127.3 418.3,145.0 418.4,124.6 418.4,146.3 418.5,136.1 418.5,125.2 418.6,150.8 418.7,119.2 418.7,130.0 418.8,151.5 418.8,145.3 418.9,116.8 418.9,117.1 419.0,154.1 419.1,121.2 419.1,146.8 419.2,121.6 419.2,145.4 419.3,114.7 419.3,138.9 419.4,135.4 419.4,119.8 419.5,141.7 419.6,119.8 419.6,122.0 419.7,136.6 419.8,144.0 419.8,127.6 419.8,121.8 419.9,149.7 420.0,118.7 420.0,152.1 420.1,125.0 420.1,149.5 420.2,150.2 420.2,124.8 420.3,117.5 420.4,139.0 420.4,127.8 420.5,149.7 420.6,146.3 420.6,122.8 420.6,127.9 420.7,143.8 420.8,127.3 420.8,143.1 420.9,113.4 420.9,138.9 421.0,122.3 421.0,138.6 421.1,117.1 421.2,133.7 421.2,144.8 421.3,122.5 421.4,125.3 421.4,141.6 421.5,119.9 421.5,138.0 421.6,122.8 421.7,146.3 421.7,147.3 421.8,127.4 421.8,117.1 421.9,144.8 421.9,145.2 422.0,125.0 422.0,119.7 422.1,146.0 422.2,140.2 422.2,120.3 422.3,122.7 422.3,142.5 422.4,125.7 422.4,117.7 422.5,144.7 422.5,126.9 422.6,115.9 422.7,140.7 422.7,144.8 422.8,133.7 422.9,123.8 422.9,111.9 423.0,127.6 423.0,123.1 423.1,139.6 423.1,121.3 423.2,133.2 423.2,118.3 423.3,127.3 423.4,142.4 423.4,143.3 423.5,126.0 423.6,122.1 423.6,133.9 423.7,114.7 423.7,137.1 423.8,116.2 423.8,137.5 423.9,125.0 423.9,139.1 424.0,143.8 424.0,122.9 424.1,152.5 424.2,115.4 424.2,148.3 424.3,119.0 424.4,147.8 424.4,119.8 424.5,132.4 424.5,125.0 424.6,118.2 424.6,138.3 424.7,118.5 424.7,136.1 424.8,114.0 424.9,141.1 424.9,125.9 424.9,112.0 425.1,120.8 425.1,125.0 425.2,124.2 425.2,145.8 425.3,137.1 425.3,119.3 425.4,123.1 425.4,137.2 425.5,116.7 425.5,136.8 425.6,118.2 425.7,137.1 425.7,145.4 425.8,130.5 425.8,140.4 425.9,115.8 426.0,138.7 426.0,125.8 426.1,120.0 426.2,154.5 426.2,145.7 426.2,119.1 426.3,140.2 426.4,122.2 426.5,120.5 426.5,135.9 426.5,154.8 426.6,120.3 426.6,131.0 426.7,122.5 426.8,124.7 426.8,140.2 426.9,122.0 427.0,144.2 427.0,137.5 427.1,113.6 427.1,146.9 427.2,123.4 427.2,141.0 427.3,125.9 427.4,137.5 427.4,119.3 427.4,138.2 427.5,124.2 427.6,130.1 427.6,154.7 427.7,115.9 427.7,132.6 427.8,125.1 427.9,149.0 427.9,120.6 428.0,150.3 428.0,129.5 428.1,152.7 428.1,123.4 428.2,142.9 428.3,140.1 428.3,123.5 428.4,116.5 428.5,137.2 428.5,143.3 428.6,127.4 428.6,138.0 428.7,115.4 428.7,120.5 428.8,134.1 428.9,125.4 428.9,135.3 429.0,123.0 429.0,140.2 429.1,118.0 429.1,133.8 429.2,148.7 429.2,121.1 429.3,150.0 429.3,118.7 429.4,134.3 429.5,121.0 429.5,130.0 429.6,121.9 429.7,130.8 429.7,116.0 429.8,118.2 429.8,141.0 429.9,116.8 429.9,137.8 430.0,122.0 430.1,157.7 430.1,127.4 430.2,121.5 430.2,151.2 430.3,127.9 430.4,119.1 430.4,140.2 430.4,127.5 430.5,115.3 430.6,135.8 430.6,114.3 430.7,117.0 430.8,144.1 430.8,122.5 430.8,135.3 430.9,130.8 431.0,121.4 431.1,133.5 431.1,113.5 431.2,130.8 431.2,148.2 431.3,128.2 431.3,121.1 431.4,137.4 431.4,125.4 431.5,114.6 431.6,134.5 431.6,131.1 431.7,111.1 431.7,108.7 431.8,135.6 431.9,144.0 431.9,111.1 431.9,120.0 432.0,127.8 432.1,123.9 432.1,143.0 432.2,113.0 432.3,136.5 432.3,122.1 432.3,136.4 432.4,140.9 432.5,112.0 432.5,132.2 432.6,121.3 432.6,110.6 432.7,139.9 432.8,110.5 432.8,145.8 432.9,142.4 433.0,118.4 433.0,147.6 433.0,108.3 433.1,112.2 433.1,137.0 433.2,120.0 433.3,141.2 433.3,115.2 433.4,133.2 433.4,118.2 433.5,128.4 433.6,151.1 433.6,116.2 433.7,119.6 433.7,147.4 433.8,125.8 433.8,138.1 433.9,109.8 434.0,139.0 434.1,135.7 434.1,118.5 434.2,146.4 434.2,117.7 434.3,149.1 434.3,123.9 434.4,116.0 434.4,134.3 434.5,117.5 434.5,135.3 434.6,136.0 434.7,121.9 434.7,133.3 434.7,120.5 434.9,131.4 434.9,116.3 434.9,145.9 435.0,121.4 435.1,132.9 435.1,114.3 435.2,119.3 435.2,110.0 435.3,116.7 435.4,152.7 435.4,113.5 435.5,135.5 435.5,124.9 435.6,115.5 435.7,116.3 435.7,147.3 435.7,114.8 435.8,146.9 435.9,117.8 436.0,154.3 436.0,120.6 436.0,143.9 436.1,149.2 436.1,122.1 436.2,116.0 436.3,143.8 436.4,122.9 436.4,138.1 436.4,139.3 436.5,127.8 436.6,119.9 436.6,140.2 436.7,120.8 436.7,135.8 436.8,116.4 436.9,141.4 437.0,115.2 437.0,140.5 437.1,156.0 437.1,118.5 437.1,143.2 437.2,125.9 437.2,116.6 437.3,148.0 437.4,118.9 437.4,154.9 437.5,113.2 437.6,123.2 437.6,117.8 437.7,131.1 437.7,137.9 437.7,128.4 437.8,116.7 437.9,130.1 438.0,116.0 438.0,140.0 438.1,137.7 438.1,121.6 438.2,126.0 438.2,135.3 438.3,129.8 438.3,122.0 438.4,137.3 438.5,115.5 438.6,147.0 438.6,132.3 438.7,120.2 438.7,141.1 438.8,118.3 438.8,148.1 438.9,141.0 438.9,111.4 439.0,122.7 439.0,136.9 439.1,152.5 439.1,121.0 439.2,126.7 439.3,118.2 439.3,136.9 439.4,127.5 439.4,124.3 439.5,138.4 439.6,138.8 439.6,126.3 439.7,135.0 439.7,121.5 439.8,117.1 439.9,128.0 439.9,114.2 440.0,143.8 440.0,119.9 440.1,130.9 440.1,143.9 440.2,133.6 440.2,139.9 440.3,125.6 440.4,121.9 440.4,140.9 440.5,142.5 440.6,122.9 440.6,146.0 440.6,117.7 440.8,141.1 440.8,121.5 440.9,124.4 440.9,138.2 441.0,145.9 441.0,120.5 441.1,154.4 441.1,124.6 441.2,148.5 441.3,129.1 441.3,141.2 441.3,123.8 441.4,138.1 441.5,121.4 441.5,123.1 441.6,141.9 441.7,122.4 441.7,134.5 441.8,143.8 441.8,120.5 441.9,138.9 441.9,116.6 442.0,112.2 442.0,141.4 442.1,146.6 442.2,123.4 442.2,131.8 442.2,116.2 442.3,132.8 442.4,118.6 442.5,121.0 442.5,141.5 442.6,137.6 442.6,125.1 442.7,142.1 442.8,120.7 442.8,131.5 442.9,123.0 442.9,139.3 443.0,113.0 443.0,138.5 443.1,126.3 443.1,127.0 443.2,135.7 443.3,141.0 443.3,126.6 443.4,128.4 443.4,149.4 443.5,118.1 443.6,139.2 443.6,146.8 443.6,116.5 443.7,140.4 443.8,115.5 443.8,139.4 443.9,121.9 443.9,131.3 444.0,113.7 444.1,137.8 444.1,112.7 444.2,141.0 444.3,114.8 444.3,115.9 444.4,154.5 444.4,118.6 444.5,127.1 444.6,122.0 444.6,138.6 444.6,144.2 444.7,125.4 444.8,127.0 444.8,138.3 444.9,135.3 444.9,112.9 445.0,114.1 445.1,139.1 445.1,134.2 445.1,114.7 445.2,134.5 445.3,125.9 445.3,132.0 445.4,116.5 445.5,132.4 445.5,118.7 445.5,120.6 445.6,124.2 445.7,140.3 445.8,120.5 445.8,149.6 445.9,116.2 445.9,129.0 445.9,119.3 446.1,128.6 446.1,117.2 446.2,132.7 446.2,115.0 446.3,114.3 446.3,142.4 446.4,117.0 446.4,131.6 446.5,121.7 446.5,136.1 446.6,126.0 446.7,142.5 446.7,135.0 446.8,118.7 446.8,136.5 446.9,124.7 446.9,129.5 447.0,117.3 447.1,135.0 447.1,114.1 447.2,122.0 447.3,115.2 447.3,116.7 447.4,133.7 447.5,112.6 447.5,125.9 447.5,108.4 447.6,118.7 447.6,127.6 447.7,117.9 447.7,145.3 447.8,110.2 447.9,130.9 447.9,114.3 448.0,126.1 448.1,109.9 448.1,120.5 448.1,134.3 448.2,128.8 448.3,110.6 448.3,133.4 448.4,108.9 448.5,126.7 448.5,114.0 448.6,133.7 448.6,118.1 448.7,146.3 448.7,110.4 448.8,126.6 448.8,105.9 448.9,126.5 449.0,113.5 449.0,112.1 449.1,133.8 449.2,122.8 449.2,106.4 449.3,123.6 449.3,140.5 449.4,106.4 449.4,132.1 449.5,116.0 449.5,133.5 449.6,131.1 449.7,109.9 449.7,110.8 449.8,131.0 449.8,136.3 449.8,113.8 450.0,143.8 450.0,113.6 450.1,127.7 450.1,106.2 450.2,142.0 450.2,116.8 450.3,135.4 450.3,118.2 450.4,124.8 450.4,108.6 450.6,124.4 450.6,116.2 450.6,128.7 450.7,135.9 450.8,147.9 450.8,133.1 450.9,143.8 450.9,120.1 451.0,120.3 451.0,147.1 451.1,148.0 451.1,128.3 451.2,144.7 451.3,123.1 451.3,137.1 451.4,122.1 451.4,109.8 451.5,127.7 451.5,131.7 451.6,114.8 451.7,116.6 451.7,126.9 451.8,112.0 451.9,127.4 451.9,164.6 452.0,112.5 452.0,125.4 452.1,128.7 452.1,112.4 452.2,118.6 452.2,133.8 452.3,113.7 452.4,111.2 452.4,132.8 452.5,133.2 452.6,127.1 452.6,128.8 452.7,107.9 452.7,108.0 452.8,138.1 452.8,131.6 452.9,119.8 452.9,109.7 453.0,131.5 453.1,117.5 453.1,126.1 453.2,114.5 453.2,131.0 453.3,122.2 453.4,141.9 453.4,124.5 453.5,111.6 453.5,122.0 453.6,144.7 453.6,146.5 453.7,122.8 453.8,119.8 453.8,128.7 453.9,139.3 453.9,115.3 454.0,132.9 454.0,123.0 454.1,143.6 454.2,127.2 454.2,141.4 454.3,121.1 454.3,136.7 454.4,117.8 454.5,142.5 454.5,125.4 454.6,156.5 454.6,132.0 454.7,144.3 454.7,139.6 454.8,156.2 454.9,128.7 454.9,134.5 454.9,152.7 455.0,140.7 455.1,137.3 455.2,133.9 455.2,147.4 455.2,166.8 455.3,140.8 455.3,159.2 455.4,139.5 455.5,164.7 455.5,139.4 455.6,154.5 455.7,139.9 455.7,159.5 455.8,141.8 455.9,168.5 455.9,144.9 456.0,155.9 456.0,149.7 456.1,152.2 456.1,166.5 456.2,164.3 456.2,177.4 456.3,162.7 456.3,180.2 456.4,176.1 456.4,181.0 456.5,173.5 456.6,199.6 456.6,183.5 456.7,206.3 456.8,216.1 456.8,191.9 456.9,211.5 456.9,190.6 457.0,194.9 457.1,208.5 457.1,198.2 457.2,242.7 457.2,215.1 457.3,234.6 457.3,223.2 457.4,239.3 457.4,235.9 457.5,270.2 457.6,262.8 457.6,276.9 457.7,285.1 457.7,306.0 457.8,311.5 457.9,311.5 458.0,308.1 458.1,283.3 458.1,262.1 458.2,291.4 458.3,246.5 458.3,266.6 458.4,249.6 458.4,228.9 458.5,244.6 458.5,216.1 458.6,220.9 458.6,238.3 458.7,230.5 458.8,211.8 458.8,222.5 458.8,204.3 458.9,228.4 459.0,208.2 459.1,230.4 459.1,190.8 459.2,185.4 459.2,213.8 459.3,208.7 459.3,193.9 459.4,205.2 459.5,182.5 459.5,188.2 459.6,181.9 459.6,206.7 459.6,190.5 459.7,176.3 459.8,203.4 459.9,180.6 459.9,201.1 460.0,174.0 460.0,198.3 460.1,183.2 460.1,198.3 460.2,173.0 460.2,196.7 460.3,186.5 460.4,212.9 460.4,202.0 460.5,184.6 460.6,191.7 460.6,178.9 460.7,198.7 460.7,173.8 460.8,176.7 460.9,186.6 460.9,188.0 460.9,172.1 461.0,193.8 461.1,178.0 461.1,175.0 461.2,200.2 461.2,174.8 461.3,198.8 461.3,182.0 461.4,228.9 461.5,171.2 461.5,192.0 461.6,188.3 461.7,198.3 461.7,185.3 461.8,194.2 461.8,194.1 461.9,183.3 461.9,180.7 462.0,201.9 462.1,198.3 462.1,183.6 462.2,171.9 462.2,197.4 462.3,194.0 462.4,177.8 462.4,192.0 462.5,180.9 462.5,182.9 462.6,211.7 462.6,184.5 462.6,202.4 462.8,189.6 462.8,171.8 462.8,201.6 462.9,181.7 463.0,189.1 463.0,205.1 463.1,198.7 463.1,185.2 463.2,190.8 463.3,170.0 463.3,175.6 463.4,197.5 463.5,182.1 463.5,206.1 463.6,189.4 463.6,174.1 463.7,200.2 463.7,183.6 463.8,183.9 463.9,202.0 463.9,204.1 464.0,172.2 464.0,176.1 464.1,210.0 464.1,194.1 464.2,179.3 464.2,173.5 464.3,201.9 464.4,180.3 464.4,195.2 464.5,188.9 464.5,200.5 464.6,196.5 464.6,189.7 464.7,200.3 464.7,183.9 464.9,213.3 464.9,185.8 464.9,204.0 465.0,186.8 465.0,196.1 465.1,206.4 465.2,189.7 465.2,207.0 465.3,204.4 465.4,185.3 465.4,196.6 465.4,215.3 465.5,191.8 465.6,212.6 465.6,201.7 465.7,208.6 465.8,203.4 465.8,210.3 465.9,223.7 465.9,197.9 466.0,196.4 466.0,214.8 466.1,200.8 466.2,217.3 466.2,217.5 466.3,238.8 466.3,233.0 466.4,221.9 466.4,227.8 466.5,255.3 466.5,216.8 466.6,236.9 466.7,237.4 466.7,254.3 466.8,238.6 466.9,260.7 466.9,262.0 466.9,251.1 467.0,253.6 467.1,272.4 467.1,272.4 467.2,250.9 467.2,272.4 467.3,272.4 467.4,271.9 467.5,272.4 467.6,272.4 467.7,264.2 467.7,272.4 467.8,272.4 467.9,262.3 467.9,253.9 467.9,272.2 468.1,272.4 468.1,250.4 468.1,251.6 468.2,270.7 468.3,261.3 468.3,247.5 468.4,245.6 468.5,231.4 468.5,249.1 468.6,226.5 468.6,261.4 468.7,230.6 468.7,234.5 468.8,225.9 468.9,235.6 468.9,244.0 469.0,210.6 469.0,233.9 469.1,219.5 469.1,231.3 469.2,234.4 469.3,211.1 469.3,214.5 469.4,235.5 469.4,226.7 469.5,209.1 469.6,215.8 469.6,199.8 469.7,199.1 469.7,223.0 469.8,210.1 469.8,217.3 469.9,223.2 470.0,200.1 470.0,197.5 470.0,218.7 470.1,217.9 470.2,199.3 470.3,199.2 470.3,216.3 470.3,216.7 470.4,197.6 470.5,204.5 470.5,223.8 470.6,196.7 470.7,213.0 470.7,195.4 470.8,215.7 470.8,196.5 470.9,210.3 470.9,193.6 470.9,206.9 471.1,215.0 471.1,192.2 471.2,211.8 471.2,229.3 471.3,204.4 471.3,215.9 471.4,196.7 471.4,231.1 471.5,192.5 471.5,214.2 471.7,212.5 471.7,201.2 471.7,211.4 471.8,190.1 471.9,198.2 471.9,220.6 472.0,209.6 472.0,198.5 472.1,214.3 472.2,193.1 472.2,230.1 472.3,208.7 472.3,213.5 472.3,203.6 472.4,200.4 472.5,229.7 472.6,200.6 472.6,229.9 472.7,220.3 472.7,196.5 472.8,202.7 472.8,217.7 472.9,212.2 472.9,196.8 473.0,200.0 473.0,208.7 473.2,228.6 473.2,195.3 473.2,208.1 473.3,198.5 473.3,208.1 473.4,201.5 473.5,200.3 473.5,207.5 473.6,186.2 473.6,208.3 473.7,223.3 473.7,189.7 473.8,215.2 473.8,192.5 473.9,222.6 474.0,199.4 474.0,205.3 474.1,193.6 474.1,194.1 474.2,202.2 474.3,197.7 474.3,213.0 474.4,185.6 474.5,207.0 474.5,178.2 474.6,186.7 474.6,202.5 474.7,178.7 474.8,203.8 474.8,182.3 474.8,181.2 474.9,216.4 474.9,180.9 475.0,198.4 475.1,189.8 475.1,197.2 475.2,208.4 475.2,179.9 475.3,201.8 475.4,183.1 475.4,176.4 475.5,194.7 475.5,178.2 475.6,193.6 475.6,203.3 475.7,181.5 475.8,176.7 475.8,193.9 475.9,174.9 476.0,190.7 476.0,181.8 476.1,188.9 476.1,204.9 476.2,179.6 476.3,207.5 476.3,192.5 476.4,188.7 476.4,178.8 476.5,183.4 476.5,200.5 476.6,195.5 476.7,180.6 476.7,191.1 476.7,174.8 476.8,169.8 476.9,191.3 476.9,190.4 477.0,184.0 477.1,196.2 477.1,173.3 477.2,193.9 477.2,175.6 477.3,191.9 477.3,184.2 477.4,171.4 477.4,197.9 477.5,206.8 477.5,174.4 477.6,177.6 477.7,198.4 477.7,173.4 477.8,192.4 477.9,179.0 477.9,188.4 478.0,200.9 478.0,177.0 478.1,202.7 478.1,181.0 478.2,184.6 478.2,200.4 478.3,202.9 478.4,184.6 478.5,194.3 478.5,182.3 478.6,187.5 478.6,195.6 478.6,180.5 478.7,196.1 478.8,218.3 478.8,195.5 478.9,200.8 479.0,190.0 479.0,184.3 479.0,200.7 479.1,200.8 479.2,196.1 479.2,207.5 479.3,191.0 479.4,198.5 479.4,206.2 479.4,191.7 479.5,231.2 479.6,198.2 479.6,208.8 479.7,193.5 479.7,214.0 479.8,209.0 479.9,218.0 479.9,196.9 480.0,219.6 480.1,222.7 480.1,205.4 480.1,200.1 480.2,240.8 480.3,204.9 480.3,234.3 480.4,227.2 480.5,242.2 480.5,231.3 480.6,228.7 480.6,226.0 480.7,249.1 480.8,228.6 480.8,241.0 480.9,232.1 480.9,250.5 480.9,235.3 481.0,256.5 481.1,248.6 481.1,259.3 481.2,286.4 481.2,260.5 481.3,265.9 481.4,283.4 481.4,268.6 481.4,283.5 481.5,267.4 481.6,298.9 481.7,295.9 481.7,314.4 481.8,306.8 481.8,295.9 481.9,326.4 481.9,311.2 482.0,321.3 482.0,326.4 482.1,326.4 482.2,302.1 482.2,325.8 482.3,304.8 482.4,313.0 482.4,286.1 482.4,294.8 482.5,285.9 482.6,294.1 482.6,276.8 482.7,277.2 482.8,263.5 482.8,272.9 482.9,259.8 482.9,268.6 483.0,254.3 483.1,263.8 483.1,244.5 483.2,267.3 483.2,254.4 483.3,264.2 483.3,240.4 483.4,257.9 483.4,235.7 483.5,255.5 483.6,239.2 483.6,253.3 483.7,244.8 483.7,227.3 483.7,260.9 483.9,232.8 483.9,244.7 483.9,246.3 484.0,240.1 484.1,246.3 484.1,228.3 484.2,250.8 484.3,232.2 484.3,242.6 484.3,227.9 484.4,253.7 484.4,227.1 484.5,221.6 484.5,238.1 484.7,234.1 484.7,220.8 484.8,227.6 484.8,253.6 484.9,251.2 484.9,233.0 485.0,230.5 485.1,242.5 485.1,225.2 485.2,248.3 485.2,235.0 485.2,258.3 485.3,254.2 485.4,230.0 485.4,249.5 485.5,234.6 485.6,236.6 485.6,243.6 485.7,260.1 485.7,245.7 485.8,245.6 485.8,265.9 485.9,249.1 486.0,267.6 486.0,247.2 486.1,276.2 486.2,272.4 486.2,256.6 486.3,251.6 486.3,274.1 486.4,276.2 486.5,266.2 486.5,281.7 486.5,276.5 486.6,281.7 486.6,270.0 486.7,281.7 486.8,276.3 486.8,281.7 486.9,281.5 486.9,272.4 487.0,281.7 487.1,281.7 487.1,268.8 487.2,281.7 487.2,268.8 487.3,263.7 487.3,281.7 487.4,269.4 487.5,257.9 487.5,247.5 487.6,269.7 487.6,244.2 487.7,264.6 487.8,255.7 487.8,235.7 487.9,260.9 487.9,235.9 488.0,248.7 488.0,230.6 488.2,220.4 488.2,244.4 488.2,250.8 488.2,215.7 488.4,238.7 488.4,222.3 488.5,209.8 488.5,233.3 488.6,219.1 488.6,206.9 488.7,225.4 488.7,213.4 488.8,225.1 488.8,203.4 488.9,219.3 489.0,202.6 489.0,219.9 489.1,194.6 489.1,200.9 489.2,209.5 489.2,192.7 489.3,208.4 489.4,212.5 489.4,184.3 489.5,187.1 489.6,212.7 489.6,192.1 489.7,212.1 489.7,200.6 489.8,183.9 489.8,185.5 489.9,216.4 489.9,201.7 490.0,192.3 490.1,197.1 490.1,179.1 490.2,208.7 490.2,175.7 490.3,202.7 490.4,177.4 490.4,188.5 490.4,205.6 490.5,174.6 490.6,186.0 490.6,180.3 490.7,183.8 490.7,195.5 490.8,169.1 490.9,186.7 490.9,174.6 491.0,178.3 491.0,195.9 491.1,193.4 491.2,175.8 491.2,193.4 491.2,175.9 491.4,175.1 491.4,202.3 491.4,175.9 491.5,197.0 491.6,175.1 491.6,195.9 491.7,181.8 491.7,199.5 491.8,202.3 491.9,183.8 491.9,201.2 491.9,174.9 492.0,174.5 492.0,195.5 492.2,206.1 492.2,174.8 492.2,194.8 492.3,175.8 492.4,186.6 492.4,195.5 492.5,204.4 492.5,193.6 492.6,186.7 492.7,206.4 492.8,212.2 492.8,182.4 492.8,218.7 492.9,192.2 493.0,205.1 493.0,188.6 493.1,179.2 493.1,208.8 493.2,197.1 493.3,206.0 493.3,200.1 493.3,193.3 493.4,214.2 493.5,197.0 493.5,205.8 493.6,181.8 493.6,198.0 493.7,215.7 493.8,211.6 493.8,188.1 493.9,196.4 493.9,219.5 494.0,189.4 494.0,206.5 494.1,208.9 494.2,195.4 494.2,191.8 494.3,215.6 494.4,196.7 494.4,215.5 494.5,199.7 494.5,225.9 494.6,202.5 494.6,223.5 494.7,204.5 494.8,221.3 494.8,202.0 494.8,215.8 494.9,207.9 495.0,217.3 495.1,208.3 495.1,221.2 495.1,215.5 495.2,203.5 495.2,201.6 495.3,238.5 495.4,208.4 495.4,238.6 495.5,225.5 495.6,209.6 495.6,206.1 495.6,243.7 495.7,233.8 495.8,213.2 495.8,210.7 495.9,230.3 496.0,224.1 496.0,210.9 496.0,243.1 496.1,215.8 496.2,227.4 496.3,247.1 496.3,228.5 496.3,238.2 496.4,206.2 496.5,238.9 496.5,239.2 496.6,214.1 496.6,232.0 496.7,212.7 496.7,211.9 496.8,229.8 496.9,232.9 496.9,221.9 497.0,210.5 497.0,230.4 497.1,227.9 497.2,211.6 497.2,230.2 497.2,214.7 497.3,214.4 497.4,227.3 497.4,210.2 497.5,232.9 497.5,225.5 497.6,217.3 497.7,210.9 497.7,234.3 497.8,220.9 497.9,213.6 498.0,210.7 498.0,215.5 498.0,218.7 498.1,223.6 498.1,240.5 498.2,210.7 498.3,233.2 498.3,213.4 498.4,229.9 498.4,207.4 498.5,211.2 498.6,233.3 498.6,222.4 498.7,214.2 498.7,220.8 498.8,237.5 498.8,244.0 498.9,220.2 498.9,214.7 499.0,235.7 499.0,224.0 499.1,235.4 499.2,214.5 499.2,238.2 499.3,227.8 499.4,245.4 499.4,229.5 499.5,247.5 499.6,221.9 499.6,254.9 499.7,230.2 499.7,255.3 499.7,231.6 499.8,245.1 499.9,253.8 499.9,239.5 500.0,249.4 500.1,250.8 500.1,247.9 500.1,271.4 500.2,246.0 500.3,272.4 500.3,248.0 500.4,268.6 500.5,287.3 500.5,254.8 500.6,267.9 500.6,276.0 500.7,300.3 500.7,269.2 500.8,297.1 500.9,282.6 500.9,300.3 500.9,290.1 501.0,300.3 501.1,300.3 501.2,300.3 501.4,300.3 501.5,300.3 501.6,300.3 501.7,300.3 501.8,288.4 501.8,300.3 501.9,272.7 501.9,267.9 502.0,285.1 502.1,274.1 502.1,261.0 502.2,263.1 502.2,248.0 502.3,272.3 502.4,243.9 502.4,260.7 502.5,254.7 502.5,233.1 502.6,250.0 502.6,251.9 502.7,235.3 502.8,245.9 502.8,221.4 502.9,233.9 502.9,220.7 503.0,220.9 503.0,229.8 503.1,231.2 503.2,208.7 503.2,212.9 503.3,227.9 503.3,205.0 503.4,216.2 503.4,195.7 503.5,216.5 503.6,220.5 503.6,205.4 503.7,224.0 503.7,198.7 503.8,199.5 503.9,213.5 503.9,221.4 503.9,199.2 504.0,195.0 504.1,201.8 504.1,199.9 504.1,210.3 504.3,193.1 504.3,211.5 504.4,196.5 504.4,202.5 504.5,189.3 504.5,211.8 504.6,190.3 504.7,207.0 504.7,218.1 504.8,183.6 504.8,194.0 504.9,184.7 504.9,175.5 505.0,184.8 505.0,193.1 505.1,174.8 505.2,203.2 505.2,171.5 505.3,185.2 505.3,189.0 505.4,173.6 505.4,191.5 505.5,195.1 505.6,174.4 505.6,198.2 505.6,173.0 505.7,188.7 505.8,177.6 505.8,175.4 505.9,199.0 506.0,177.5 506.0,193.8 506.1,202.5 506.1,179.9 506.2,178.1 506.3,195.6 506.4,194.4 506.4,170.1 506.5,177.8 506.5,184.6 506.6,174.0 506.6,195.6 506.7,190.1 506.7,171.6 506.8,198.4 506.8,174.7 506.9,187.0 507.0,208.2 507.0,211.2 507.0,171.9 507.1,169.4 507.1,198.1 507.2,208.3 507.3,171.7 507.3,184.4 507.4,202.9 507.5,189.9 507.5,184.2 507.6,203.9 507.6,189.1 507.7,203.2 507.8,173.7 507.8,184.5 507.9,190.8 508.0,179.7 508.0,194.9 508.0,186.3 508.1,208.8 508.2,208.7 508.2,199.3 508.3,183.9 508.3,216.6 508.4,216.4 508.4,191.1 508.5,187.9 508.6,213.5 508.6,189.4 508.6,212.5 508.7,197.0 508.8,224.2 508.9,216.5 508.9,200.6 509.0,212.3 509.0,222.8 509.1,214.2 509.2,207.3 509.2,209.9 509.3,225.9 509.4,215.0 509.4,230.5 509.4,237.3 509.5,224.2 509.6,240.6 509.6,225.2 509.7,240.9 509.7,222.0 509.8,244.8 509.9,225.2 509.9,260.7 509.9,252.6 510.0,241.6 510.1,253.7 510.1,236.6 510.2,266.8 510.3,270.2 510.3,260.4 510.3,264.1 510.4,276.1 510.5,268.6 510.5,299.1 510.6,285.2 510.7,302.2 510.7,302.2 510.7,294.9 510.8,302.2 510.9,302.2 511.0,302.2 511.2,302.2 511.3,302.2 511.4,299.5 511.4,301.9 511.5,287.2 511.5,293.0 511.6,288.9 511.6,291.4 511.7,275.6 511.7,279.2 511.8,262.7 511.9,279.3 511.9,262.7 512.0,277.4 512.0,254.2 512.1,262.4 512.2,243.6 512.2,239.4 512.2,254.1 512.3,246.0 512.3,270.3 512.4,254.5 512.4,236.6 512.5,243.7 512.6,254.8 512.7,260.9 512.7,236.4 512.8,254.5 512.9,239.8 512.9,258.2 512.9,222.8 513.0,222.3 513.1,244.9 513.1,225.5 513.2,243.3 513.3,224.6 513.3,249.6 513.3,250.5 513.4,228.4 513.5,232.5 513.5,247.5 513.6,236.0 513.7,226.5 513.7,229.4 513.7,247.2 513.8,229.6 513.9,243.3 513.9,231.7 513.9,248.3 514.0,232.8 514.1,249.4 514.2,263.5 514.2,230.3 514.3,240.7 514.4,246.7 514.4,246.3 514.4,228.8 514.5,263.7 514.6,239.5 514.6,238.7 514.7,251.2 514.8,253.3 514.8,234.9 514.8,263.5 514.9,246.6 515.0,260.4 515.0,238.1 515.1,266.3 515.1,244.2 515.2,263.3 515.2,241.1 515.3,267.8 515.4,243.5 515.4,251.3 515.5,274.4 515.5,255.1 515.6,273.7 515.6,253.6 515.7,269.7 515.8,275.8 515.8,258.7 515.9,258.6 516.0,273.3 516.0,251.8 516.1,262.2 516.1,277.5 516.2,256.5 516.2,272.3 516.3,242.5 516.3,259.8 516.4,240.7 516.5,260.1 516.5,243.7 516.6,257.4 516.6,235.4 516.7,253.2 516.8,236.8 516.9,242.7 516.9,234.1 517.0,226.2 517.0,248.5 517.0,221.0 517.1,239.4 517.2,243.7 517.2,225.6 517.3,220.2 517.3,229.5 517.4,212.8 517.4,231.8 517.5,225.4 517.6,217.9 517.6,223.6 517.7,206.2 517.8,212.0 517.8,229.8 517.9,208.1 517.9,220.0 518.0,220.6 518.0,207.2 518.1,220.0 518.1,206.6 518.2,226.2 518.2,200.4 518.4,205.7 518.4,188.8 518.5,205.2 518.5,191.7 518.6,205.4 518.6,190.0 518.7,181.9 518.7,205.6 518.8,184.6 518.8,195.2 518.9,211.6 518.9,181.9 519.0,183.3 519.1,201.4 519.2,189.1 519.2,208.5 519.2,183.7 519.3,198.4 519.4,175.8 519.4,196.8 519.5,201.8 519.5,175.1 519.6,203.4 519.6,173.1 519.7,197.7 519.7,170.2 519.8,176.5 519.9,189.4 519.9,194.7 520.0,178.1 520.1,172.2 520.1,201.0 520.1,174.3 520.2,195.5 520.3,186.0 520.3,167.8 520.4,168.1 520.4,189.6 520.5,195.6 520.5,175.8 520.6,170.7 520.7,193.7 520.8,189.1 520.8,177.8 520.9,181.9 520.9,172.1 521.0,173.3 521.0,185.0 521.1,173.4 521.2,180.6 521.2,169.2 521.2,198.1 521.4,186.7 521.4,177.0 521.4,180.3 521.5,171.2 521.5,184.3 521.6,189.6 521.7,204.3 521.7,176.0 521.8,204.0 521.8,180.9 521.9,191.3 522.0,171.2 522.0,191.5 522.0,208.7 522.1,181.4 522.2,198.2 522.3,213.8 522.3,185.0 522.3,213.3 522.4,187.6 522.5,194.6 522.5,185.2 522.6,199.6 522.6,194.3 522.7,185.0 522.8,211.1 522.8,213.0 522.9,191.6 522.9,184.5 523.0,200.6 523.0,185.1 523.1,210.8 523.2,199.7 523.2,211.5 523.3,212.7 523.3,198.1 523.4,201.8 523.5,220.1 523.5,216.4 523.6,205.3 523.6,228.4 523.7,212.9 523.7,229.4 523.8,201.4 523.8,232.4 523.9,219.0 524.0,214.2 524.0,233.5 524.1,244.6 524.1,233.6 524.2,228.1 524.2,252.9 524.3,230.0 524.4,236.4 524.4,223.4 524.5,258.5 524.5,245.6 524.6,267.1 524.7,243.7 524.7,269.7 524.8,252.0 524.8,278.6 524.9,256.7 525.0,271.4 525.0,274.8 525.0,278.6 525.1,278.6 525.2,278.4 525.2,278.6 525.3,278.6 525.4,278.6 525.6,278.6 525.7,278.6 525.8,278.6 525.9,278.4 525.9,278.6 525.9,273.8 526.0,263.6 526.1,278.6 526.2,257.8 526.2,278.6 526.3,278.6 526.3,266.1 526.4,252.1 526.4,278.6 526.5,272.8 526.5,242.9 526.6,252.4 526.7,269.3 526.8,268.7 526.8,244.6 526.9,244.0 526.9,263.6 526.9,236.2 527.0,247.8 527.1,235.0 527.1,246.8 527.2,252.8 527.2,231.0 527.3,239.7 527.3,259.6 527.4,230.9 527.5,253.7 527.5,262.0 527.6,241.2 527.6,233.0 527.7,255.5 527.8,258.1 527.8,232.3 527.9,237.3 528.0,226.8 528.0,240.2 528.0,226.8 528.2,240.8 528.2,236.1 528.3,247.7 528.3,235.8 528.4,247.9 528.4,231.9 528.5,239.5 528.5,252.5 528.6,233.4 528.6,265.5 528.7,241.0 528.7,256.8 528.9,234.7 528.9,252.5 528.9,263.9 529.0,245.7 529.0,251.8 529.1,270.9 529.2,255.3 529.2,265.5 529.3,276.3 529.3,254.5 529.4,282.5 529.4,260.8 529.5,275.7 529.5,267.2 529.7,275.9 529.7,300.4 529.8,283.4 529.8,298.7 529.9,307.7 529.9,298.9 529.9,309.0 530.0,306.3 530.1,309.0 530.2,309.0 530.3,309.0 530.4,309.0 530.5,309.0 530.6,309.0 530.7,306.0 530.8,290.8 530.8,299.4 530.9,292.3 530.9,277.7 531.0,298.9 531.0,272.2 531.1,277.6 531.2,255.6 531.3,250.6 531.3,270.1 531.3,248.2 531.4,276.4 531.5,259.1 531.5,236.1 531.6,231.1 531.6,252.1 531.7,246.9 531.8,231.3 531.8,237.5 531.9,223.9 531.9,241.0 532.0,221.3 532.0,229.8 532.1,237.9 532.2,233.3 532.2,213.5 532.3,242.3 532.3,204.4 532.4,216.8 532.5,230.1 532.5,213.4 532.6,231.2 532.6,224.0 532.7,208.6 532.7,220.9 532.8,202.8 532.9,229.2 532.9,200.1 533.0,196.7 533.0,209.2 533.1,191.2 533.1,207.5 533.2,193.7 533.3,204.9 533.3,186.6 533.3,219.5 533.4,202.3 533.5,195.8 533.5,189.7 533.5,221.3 533.6,192.1 533.7,202.0 533.8,213.2 533.8,191.5 533.9,203.9 534.0,190.4 534.0,181.0 534.0,195.7 534.1,184.0 534.2,201.8 534.2,202.4 534.3,191.2 534.3,188.5 534.4,201.9 534.4,178.8 534.5,213.1 534.6,203.1 534.6,190.5 534.7,201.0 534.8,185.5 534.8,206.5 534.9,177.0 534.9,203.2 535.0,178.5 535.0,194.1 535.0,179.7 535.1,180.7 535.2,201.3 535.3,204.1 535.3,187.0 535.4,185.5 535.4,208.6 535.5,190.5 535.5,203.5 535.6,208.4 535.7,193.2 535.7,206.7 535.8,184.1 535.9,182.0 535.9,217.8 535.9,188.5 536.0,197.0 536.1,193.6 536.1,214.6 536.2,212.2 536.3,180.7 536.3,184.4 536.3,200.2 536.5,183.4 536.5,209.1 536.5,207.2 536.5,193.2 536.7,215.8 536.7,190.4 536.8,193.7 536.8,219.9 536.9,201.3 536.9,220.6 537.0,206.9 537.0,197.2 537.1,200.7 537.1,207.4 537.2,223.8 537.3,206.7 537.3,199.1 537.4,206.7 537.5,222.0 537.5,197.2 537.6,209.0 537.6,197.3 537.7,230.9 537.7,199.9 537.8,225.6 537.8,200.2 537.9,200.9 537.9,236.3 538.0,207.3 538.1,247.4 538.1,213.9 538.2,225.5 538.3,210.2 538.3,222.1 538.4,208.7 538.4,225.4 538.5,212.5 538.6,225.8 538.6,240.1 538.7,210.2 538.8,241.2 538.8,215.6 538.9,237.0 538.9,211.4 539.0,233.1 539.0,223.4 539.1,241.8 539.1,224.3 539.2,218.2 539.3,242.3 539.3,227.6 539.4,238.0 539.4,230.1"/>
</g>
<g font-family="'Liberation Serif', serif" font-size="15.2px" letter-spacing="0.4" fill="#262626">
<text x="67.5" y="403" text-anchor="middle">−50</text>
<text x="114.7" y="403" text-anchor="middle">−40</text>
<text x="161.9" y="403" text-anchor="middle">−30</text>
<text x="209.1" y="403" text-anchor="middle">−20</text>
<text x="256.4" y="403" text-anchor="middle">−10</text>
<text x="303.6" y="403" text-anchor="middle">0</text>
<text x="350.8" y="403" text-anchor="middle">10</text>
<text x="398.0" y="403" text-anchor="middle">20</text>
<text x="445.3" y="403" text-anchor="middle">30</text>
<text x="492.5" y="403" text-anchor="middle">40</text>
<text x="539.7" y="403" text-anchor="middle">50</text>
<text x="61.6" y="388.7" text-anchor="end">−120</text>
<text x="61.6" y="326.6" text-anchor="end">−110</text>
<text x="61.6" y="264.6" text-anchor="end">−100</text>
<text x="61.6" y="202.5" text-anchor="end">−90</text>
<text x="61.6" y="140.5" text-anchor="end">−80</text>
<text x="61.6" y="78.4" text-anchor="end">−70</text>
<text x="61.6" y="16.4" text-anchor="end">−60</text>
</g>
<g font-family="'Liberation Sans', sans-serif" font-size="15.6px" letter-spacing="0.1" fill="#262626">
<text x="303.2" y="425.2" text-anchor="middle">Frequency(MHz)</text>
<text transform="translate(19.1 198.1) rotate(-90)" text-anchor="middle">PSD(dBW/Hz)</text>
</g>
<rect x="399.5" y="11.6" width="140" height="40.4" fill="#fff" stroke="#262626" stroke-width="1"/>
<path d="M403.2 22.8H445.8" stroke="#0072BD" stroke-width="0.9"/>
<path d="M403.2 40.9H445.8" stroke="#D95319" stroke-width="0.9"/>
<g font-family="'Liberation Sans', sans-serif" font-size="12.9px" fill="#111">
<text x="451" y="27.3">FH-BOC(10,1)</text>
<text x="451" y="45.8">FH-BOC(31,1)</text>
</g>
</svg>
</body></html>
